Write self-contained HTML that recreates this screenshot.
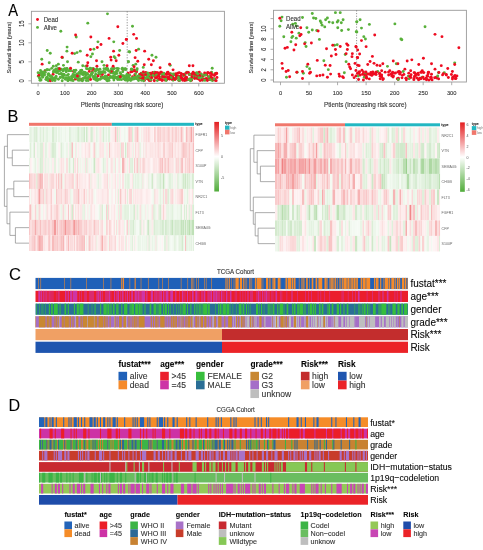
<!DOCTYPE html>
<html><head><meta charset="utf-8"><title>Figure</title><style>
html,body{margin:0;padding:0;background:#fff;width:483px;height:550px;overflow:hidden}
svg{display:block;filter:blur(0.4px)}
text{font-family:"Liberation Sans",sans-serif;stroke:#333;stroke-width:0.1px}
.ns text{stroke:none}
</style></head><body>
<svg width="483" height="550" viewBox="0 0 483 550">
<rect width="483" height="550" fill="#fff"/>
<text transform="translate(8.2,15.5) scale(0.94,1)" font-size="15.7">A</text>
<text transform="translate(7.6,121.9) scale(1,1)" font-size="16.3">B</text>
<text transform="translate(8.9,280) scale(1.05,1)" font-size="15.8">C</text>
<text transform="translate(8.5,411.1) scale(1,1)" font-size="16.1">D</text>
<rect x="31.4" y="11.3" width="193" height="71.95" fill="none" stroke="#999" stroke-width="0.9"/>
<path d="M28.4 80.8H31.4M28.4 61.8H31.4M28.4 42.8H31.4M28.4 23.8H31.4M38.1 83.25V86.45M64.88 83.25V86.45M91.66 83.25V86.45M118.44 83.25V86.45M145.22 83.25V86.45M172 83.25V86.45M198.78 83.25V86.45" stroke="#999" stroke-width="0.8"/>
<text transform="translate(21.7,80.8) rotate(-90) scale(1,1.08)" y="2.06" font-size="5.9" text-anchor="middle" fill="#333">0</text>
<text transform="translate(21.7,61.8) rotate(-90) scale(1,1.08)" y="2.06" font-size="5.9" text-anchor="middle" fill="#333">5</text>
<text transform="translate(21.7,42.8) rotate(-90) scale(1,1.08)" y="2.06" font-size="5.9" text-anchor="middle" fill="#333">10</text>
<text transform="translate(21.7,23.8) rotate(-90) scale(1,1.08)" y="2.06" font-size="5.9" text-anchor="middle" fill="#333">15</text>
<text transform="translate(38.1,95.09) scale(1,1.08)" font-size="5.8" text-anchor="middle" fill="#333">0</text>
<text transform="translate(64.88,95.09) scale(1,1.08)" font-size="5.8" text-anchor="middle" fill="#333">100</text>
<text transform="translate(91.66,95.09) scale(1,1.08)" font-size="5.8" text-anchor="middle" fill="#333">200</text>
<text transform="translate(118.44,95.09) scale(1,1.08)" font-size="5.8" text-anchor="middle" fill="#333">300</text>
<text transform="translate(145.22,95.09) scale(1,1.08)" font-size="5.8" text-anchor="middle" fill="#333">400</text>
<text transform="translate(172,95.09) scale(1,1.08)" font-size="5.8" text-anchor="middle" fill="#333">500</text>
<text transform="translate(198.78,95.09) scale(1,1.08)" font-size="5.8" text-anchor="middle" fill="#333">600</text>
<text transform="translate(8.6,47.5) rotate(-90) scale(1,1.08)" y="1.99" font-size="5.7" text-anchor="middle" fill="#333">Survival time (years)</text>
<text transform="translate(80.8,106.68) scale(1,1.08)" font-size="6.3" fill="#333">Ptients (increasing risk score)</text>
<path d="M127.2 11.3V83.25" stroke="#666" stroke-width="0.7" stroke-dasharray="1.2 1.5"/>
<circle cx="185.93" cy="80.32" r="1.45" fill="#58b03a"/>
<circle cx="46.94" cy="69.72" r="1.45" fill="#58b03a"/>
<circle cx="214.58" cy="79" r="1.45" fill="#ee0c20"/>
<circle cx="41.05" cy="80.01" r="1.45" fill="#58b03a"/>
<circle cx="97.02" cy="68.84" r="1.45" fill="#58b03a"/>
<circle cx="83.09" cy="79.87" r="1.45" fill="#58b03a"/>
<circle cx="122.19" cy="76.32" r="1.45" fill="#58b03a"/>
<circle cx="132.37" cy="71.51" r="1.45" fill="#ee0c20"/>
<circle cx="145.22" cy="73.2" r="1.45" fill="#ee0c20"/>
<circle cx="148.17" cy="75.11" r="1.45" fill="#ee0c20"/>
<circle cx="40.78" cy="72.79" r="1.45" fill="#58b03a"/>
<circle cx="63.27" cy="77.68" r="1.45" fill="#58b03a"/>
<circle cx="78" cy="77.49" r="1.45" fill="#ee0c20"/>
<circle cx="102.1" cy="71.96" r="1.45" fill="#58b03a"/>
<circle cx="195.3" cy="73.52" r="1.45" fill="#ee0c20"/>
<circle cx="166.64" cy="79.92" r="1.45" fill="#ee0c20"/>
<circle cx="203.06" cy="79.75" r="1.45" fill="#ee0c20"/>
<circle cx="163.7" cy="73.11" r="1.45" fill="#58b03a"/>
<circle cx="99.16" cy="72.68" r="1.45" fill="#58b03a"/>
<circle cx="49.88" cy="80.02" r="1.45" fill="#58b03a"/>
<circle cx="170.66" cy="73.67" r="1.45" fill="#58b03a"/>
<circle cx="87.64" cy="74.42" r="1.45" fill="#58b03a"/>
<circle cx="62.74" cy="76.71" r="1.45" fill="#58b03a"/>
<circle cx="57.65" cy="70.9" r="1.45" fill="#58b03a"/>
<circle cx="69.7" cy="70.53" r="1.45" fill="#58b03a"/>
<circle cx="112.28" cy="77.65" r="1.45" fill="#58b03a"/>
<circle cx="110.67" cy="73.06" r="1.45" fill="#58b03a"/>
<circle cx="165.31" cy="77.22" r="1.45" fill="#ee0c20"/>
<circle cx="86.04" cy="78.3" r="1.45" fill="#58b03a"/>
<circle cx="105.59" cy="79.02" r="1.45" fill="#58b03a"/>
<circle cx="90.32" cy="75.43" r="1.45" fill="#58b03a"/>
<circle cx="126.21" cy="78.79" r="1.45" fill="#58b03a"/>
<circle cx="161.29" cy="72.2" r="1.45" fill="#ee0c20"/>
<circle cx="181.64" cy="75.08" r="1.45" fill="#58b03a"/>
<circle cx="104.78" cy="78.45" r="1.45" fill="#58b03a"/>
<circle cx="144.42" cy="80.42" r="1.45" fill="#ee0c20"/>
<circle cx="148.97" cy="77.69" r="1.45" fill="#58b03a"/>
<circle cx="173.61" cy="75.27" r="1.45" fill="#58b03a"/>
<circle cx="163.97" cy="73.35" r="1.45" fill="#58b03a"/>
<circle cx="195.57" cy="75.8" r="1.45" fill="#58b03a"/>
<circle cx="55.51" cy="72.12" r="1.45" fill="#58b03a"/>
<circle cx="195.83" cy="73.75" r="1.45" fill="#58b03a"/>
<circle cx="187.26" cy="79.91" r="1.45" fill="#ee0c20"/>
<circle cx="215.12" cy="80.23" r="1.45" fill="#ee0c20"/>
<circle cx="80.14" cy="72.93" r="1.45" fill="#58b03a"/>
<circle cx="48.01" cy="74.72" r="1.45" fill="#58b03a"/>
<circle cx="45.06" cy="70.49" r="1.45" fill="#58b03a"/>
<circle cx="162.89" cy="77.26" r="1.45" fill="#ee0c20"/>
<circle cx="132.63" cy="76.68" r="1.45" fill="#ee0c20"/>
<circle cx="169.86" cy="73.72" r="1.45" fill="#58b03a"/>
<circle cx="50.69" cy="76.24" r="1.45" fill="#58b03a"/>
<circle cx="41.85" cy="75.12" r="1.45" fill="#58b03a"/>
<circle cx="108.8" cy="78.38" r="1.45" fill="#58b03a"/>
<circle cx="42.38" cy="74.21" r="1.45" fill="#58b03a"/>
<circle cx="112.82" cy="71.54" r="1.45" fill="#58b03a"/>
<circle cx="84.16" cy="72.74" r="1.45" fill="#58b03a"/>
<circle cx="184.05" cy="78.94" r="1.45" fill="#ee0c20"/>
<circle cx="72.91" cy="74.53" r="1.45" fill="#58b03a"/>
<circle cx="160.48" cy="79.39" r="1.45" fill="#ee0c20"/>
<circle cx="65.68" cy="77.78" r="1.45" fill="#58b03a"/>
<circle cx="214.85" cy="73.71" r="1.45" fill="#58b03a"/>
<circle cx="110.94" cy="76.83" r="1.45" fill="#58b03a"/>
<circle cx="215.38" cy="74.49" r="1.45" fill="#ee0c20"/>
<circle cx="212.17" cy="74.45" r="1.45" fill="#ee0c20"/>
<circle cx="71.31" cy="79.96" r="1.45" fill="#58b03a"/>
<circle cx="125.94" cy="69.46" r="1.45" fill="#58b03a"/>
<circle cx="158.88" cy="74.32" r="1.45" fill="#ee0c20"/>
<circle cx="92.2" cy="71.62" r="1.45" fill="#ee0c20"/>
<circle cx="59.26" cy="73.92" r="1.45" fill="#58b03a"/>
<circle cx="200.92" cy="73.99" r="1.45" fill="#ee0c20"/>
<circle cx="157.81" cy="73.07" r="1.45" fill="#ee0c20"/>
<circle cx="134.78" cy="74.76" r="1.45" fill="#ee0c20"/>
<circle cx="145.76" cy="72.4" r="1.45" fill="#ee0c20"/>
<circle cx="153.52" cy="74.04" r="1.45" fill="#ee0c20"/>
<circle cx="173.07" cy="80.3" r="1.45" fill="#58b03a"/>
<circle cx="92.46" cy="72.72" r="1.45" fill="#58b03a"/>
<circle cx="178.16" cy="75.88" r="1.45" fill="#ee0c20"/>
<circle cx="175.75" cy="73.91" r="1.45" fill="#58b03a"/>
<circle cx="87.91" cy="77.9" r="1.45" fill="#58b03a"/>
<circle cx="167.18" cy="73.55" r="1.45" fill="#ee0c20"/>
<circle cx="48.28" cy="80.75" r="1.45" fill="#58b03a"/>
<circle cx="128.08" cy="73.31" r="1.45" fill="#ee0c20"/>
<circle cx="131.83" cy="78.5" r="1.45" fill="#58b03a"/>
<circle cx="76.93" cy="73.94" r="1.45" fill="#58b03a"/>
<circle cx="63.81" cy="69.36" r="1.45" fill="#58b03a"/>
<circle cx="151.38" cy="78.29" r="1.45" fill="#ee0c20"/>
<circle cx="93.8" cy="78.7" r="1.45" fill="#58b03a"/>
<circle cx="184.59" cy="80.48" r="1.45" fill="#ee0c20"/>
<circle cx="211.37" cy="79.04" r="1.45" fill="#ee0c20"/>
<circle cx="159.68" cy="79.13" r="1.45" fill="#ee0c20"/>
<circle cx="194.23" cy="74.81" r="1.45" fill="#ee0c20"/>
<circle cx="148.43" cy="79.48" r="1.45" fill="#58b03a"/>
<circle cx="183.25" cy="75.05" r="1.45" fill="#ee0c20"/>
<circle cx="103.44" cy="72.24" r="1.45" fill="#58b03a"/>
<circle cx="189.41" cy="74.04" r="1.45" fill="#ee0c20"/>
<circle cx="193.69" cy="73.53" r="1.45" fill="#58b03a"/>
<circle cx="171.73" cy="79.18" r="1.45" fill="#ee0c20"/>
<circle cx="125.13" cy="68.68" r="1.45" fill="#58b03a"/>
<circle cx="96.75" cy="77.68" r="1.45" fill="#58b03a"/>
<circle cx="161.02" cy="72.39" r="1.45" fill="#ee0c20"/>
<circle cx="81.75" cy="70.32" r="1.45" fill="#58b03a"/>
<circle cx="154.06" cy="80.01" r="1.45" fill="#58b03a"/>
<circle cx="182.98" cy="79.14" r="1.45" fill="#ee0c20"/>
<circle cx="67.02" cy="68.39" r="1.45" fill="#58b03a"/>
<circle cx="58.45" cy="79.21" r="1.45" fill="#58b03a"/>
<circle cx="144.15" cy="78.58" r="1.45" fill="#ee0c20"/>
<circle cx="91.93" cy="73.91" r="1.45" fill="#58b03a"/>
<circle cx="197.44" cy="76.78" r="1.45" fill="#58b03a"/>
<circle cx="99.96" cy="69.26" r="1.45" fill="#58b03a"/>
<circle cx="100.23" cy="79.2" r="1.45" fill="#58b03a"/>
<circle cx="172.8" cy="77.63" r="1.45" fill="#ee0c20"/>
<circle cx="98.62" cy="79.43" r="1.45" fill="#58b03a"/>
<circle cx="135.31" cy="70.84" r="1.45" fill="#58b03a"/>
<circle cx="192.08" cy="73.83" r="1.45" fill="#ee0c20"/>
<circle cx="187" cy="72.23" r="1.45" fill="#58b03a"/>
<circle cx="184.85" cy="75.07" r="1.45" fill="#58b03a"/>
<circle cx="185.66" cy="77.04" r="1.45" fill="#ee0c20"/>
<circle cx="216.72" cy="73.53" r="1.45" fill="#ee0c20"/>
<circle cx="153.79" cy="76.1" r="1.45" fill="#58b03a"/>
<circle cx="116.03" cy="77.12" r="1.45" fill="#58b03a"/>
<circle cx="79.61" cy="78.93" r="1.45" fill="#58b03a"/>
<circle cx="138.53" cy="80.56" r="1.45" fill="#58b03a"/>
<circle cx="55.77" cy="69.05" r="1.45" fill="#58b03a"/>
<circle cx="146.29" cy="73.77" r="1.45" fill="#ee0c20"/>
<circle cx="90.86" cy="69.07" r="1.45" fill="#58b03a"/>
<circle cx="75.32" cy="79.17" r="1.45" fill="#ee0c20"/>
<circle cx="136.65" cy="71.73" r="1.45" fill="#ee0c20"/>
<circle cx="193.96" cy="77.05" r="1.45" fill="#ee0c20"/>
<circle cx="69.43" cy="79.18" r="1.45" fill="#58b03a"/>
<circle cx="101.3" cy="77.02" r="1.45" fill="#ee0c20"/>
<circle cx="208.96" cy="78.86" r="1.45" fill="#ee0c20"/>
<circle cx="150.04" cy="73.56" r="1.45" fill="#58b03a"/>
<circle cx="76.66" cy="77.5" r="1.45" fill="#58b03a"/>
<circle cx="159.95" cy="73.43" r="1.45" fill="#58b03a"/>
<circle cx="179.5" cy="76.34" r="1.45" fill="#58b03a"/>
<circle cx="158.61" cy="79.44" r="1.45" fill="#ee0c20"/>
<circle cx="64.88" cy="68.99" r="1.45" fill="#58b03a"/>
<circle cx="180.03" cy="77.84" r="1.45" fill="#ee0c20"/>
<circle cx="133.7" cy="77.11" r="1.45" fill="#58b03a"/>
<circle cx="84.7" cy="73.68" r="1.45" fill="#58b03a"/>
<circle cx="157.54" cy="72.92" r="1.45" fill="#ee0c20"/>
<circle cx="66.22" cy="71.82" r="1.45" fill="#58b03a"/>
<circle cx="64.61" cy="68.99" r="1.45" fill="#58b03a"/>
<circle cx="93" cy="76.49" r="1.45" fill="#58b03a"/>
<circle cx="187.53" cy="79.47" r="1.45" fill="#ee0c20"/>
<circle cx="44.8" cy="72" r="1.45" fill="#ee0c20"/>
<circle cx="134.24" cy="70.06" r="1.45" fill="#ee0c20"/>
<circle cx="126.47" cy="75.73" r="1.45" fill="#58b03a"/>
<circle cx="131.03" cy="80.15" r="1.45" fill="#58b03a"/>
<circle cx="67.56" cy="78.35" r="1.45" fill="#58b03a"/>
<circle cx="158.34" cy="75.15" r="1.45" fill="#58b03a"/>
<circle cx="124.6" cy="77.25" r="1.45" fill="#58b03a"/>
<circle cx="196.37" cy="73.83" r="1.45" fill="#ee0c20"/>
<circle cx="216.99" cy="77.56" r="1.45" fill="#ee0c20"/>
<circle cx="66.75" cy="68.86" r="1.45" fill="#58b03a"/>
<circle cx="182.71" cy="80.37" r="1.45" fill="#ee0c20"/>
<circle cx="43.19" cy="74.67" r="1.45" fill="#58b03a"/>
<circle cx="202.53" cy="76.79" r="1.45" fill="#58b03a"/>
<circle cx="57.11" cy="72.52" r="1.45" fill="#58b03a"/>
<circle cx="181.91" cy="78.03" r="1.45" fill="#ee0c20"/>
<circle cx="68.9" cy="77.47" r="1.45" fill="#58b03a"/>
<circle cx="194.5" cy="73.74" r="1.45" fill="#58b03a"/>
<circle cx="71.84" cy="77.44" r="1.45" fill="#58b03a"/>
<circle cx="109.07" cy="80.42" r="1.45" fill="#58b03a"/>
<circle cx="212.71" cy="79.58" r="1.45" fill="#ee0c20"/>
<circle cx="125.67" cy="80.13" r="1.45" fill="#58b03a"/>
<circle cx="107.46" cy="80.76" r="1.45" fill="#58b03a"/>
<circle cx="100.77" cy="74.22" r="1.45" fill="#58b03a"/>
<circle cx="149.77" cy="75.56" r="1.45" fill="#ee0c20"/>
<circle cx="180.57" cy="78.96" r="1.45" fill="#58b03a"/>
<circle cx="205.47" cy="79.53" r="1.45" fill="#ee0c20"/>
<circle cx="179.23" cy="72.66" r="1.45" fill="#ee0c20"/>
<circle cx="164.77" cy="74.57" r="1.45" fill="#58b03a"/>
<circle cx="176.28" cy="76.97" r="1.45" fill="#58b03a"/>
<circle cx="200.65" cy="76.55" r="1.45" fill="#58b03a"/>
<circle cx="199.58" cy="75.27" r="1.45" fill="#ee0c20"/>
<circle cx="118.17" cy="77.12" r="1.45" fill="#ee0c20"/>
<circle cx="108.26" cy="70.49" r="1.45" fill="#58b03a"/>
<circle cx="176.02" cy="74.74" r="1.45" fill="#ee0c20"/>
<circle cx="208.15" cy="72.68" r="1.45" fill="#ee0c20"/>
<circle cx="135.85" cy="77.84" r="1.45" fill="#58b03a"/>
<circle cx="206.55" cy="79.33" r="1.45" fill="#ee0c20"/>
<circle cx="117.64" cy="79.52" r="1.45" fill="#58b03a"/>
<circle cx="196.91" cy="74.88" r="1.45" fill="#ee0c20"/>
<circle cx="52.83" cy="78.96" r="1.45" fill="#58b03a"/>
<circle cx="165.84" cy="77.4" r="1.45" fill="#58b03a"/>
<circle cx="42.92" cy="75.56" r="1.45" fill="#58b03a"/>
<circle cx="139.33" cy="74.55" r="1.45" fill="#58b03a"/>
<circle cx="146.83" cy="78.56" r="1.45" fill="#ee0c20"/>
<circle cx="83.89" cy="72.23" r="1.45" fill="#58b03a"/>
<circle cx="169.59" cy="78.95" r="1.45" fill="#ee0c20"/>
<circle cx="40.51" cy="70.57" r="1.45" fill="#58b03a"/>
<circle cx="131.29" cy="69.43" r="1.45" fill="#58b03a"/>
<circle cx="189.94" cy="74.6" r="1.45" fill="#ee0c20"/>
<circle cx="209.76" cy="77.2" r="1.45" fill="#ee0c20"/>
<circle cx="143.88" cy="76.21" r="1.45" fill="#58b03a"/>
<circle cx="152.72" cy="72.37" r="1.45" fill="#ee0c20"/>
<circle cx="102.64" cy="77.57" r="1.45" fill="#58b03a"/>
<circle cx="62.2" cy="80.75" r="1.45" fill="#58b03a"/>
<circle cx="206.01" cy="74.18" r="1.45" fill="#ee0c20"/>
<circle cx="167.98" cy="72.2" r="1.45" fill="#ee0c20"/>
<circle cx="119.51" cy="78.07" r="1.45" fill="#58b03a"/>
<circle cx="107.19" cy="76.11" r="1.45" fill="#58b03a"/>
<circle cx="154.33" cy="80.79" r="1.45" fill="#ee0c20"/>
<circle cx="164.5" cy="79.94" r="1.45" fill="#ee0c20"/>
<circle cx="96.21" cy="79.22" r="1.45" fill="#58b03a"/>
<circle cx="165.04" cy="77.1" r="1.45" fill="#ee0c20"/>
<circle cx="180.3" cy="76.65" r="1.45" fill="#ee0c20"/>
<circle cx="72.65" cy="76.98" r="1.45" fill="#58b03a"/>
<circle cx="74.25" cy="70.33" r="1.45" fill="#58b03a"/>
<circle cx="76.4" cy="75.04" r="1.45" fill="#58b03a"/>
<circle cx="176.82" cy="76.49" r="1.45" fill="#ee0c20"/>
<circle cx="206.81" cy="74.88" r="1.45" fill="#ee0c20"/>
<circle cx="147.9" cy="75.56" r="1.45" fill="#58b03a"/>
<circle cx="106.66" cy="78.47" r="1.45" fill="#58b03a"/>
<circle cx="46.67" cy="79.79" r="1.45" fill="#58b03a"/>
<circle cx="75.59" cy="77.59" r="1.45" fill="#58b03a"/>
<circle cx="135.58" cy="73.72" r="1.45" fill="#58b03a"/>
<circle cx="76.13" cy="77.26" r="1.45" fill="#58b03a"/>
<circle cx="50.15" cy="78.76" r="1.45" fill="#58b03a"/>
<circle cx="196.1" cy="77.77" r="1.45" fill="#58b03a"/>
<circle cx="155.93" cy="74.69" r="1.45" fill="#ee0c20"/>
<circle cx="82.29" cy="80.76" r="1.45" fill="#58b03a"/>
<circle cx="204.14" cy="78.86" r="1.45" fill="#58b03a"/>
<circle cx="176.55" cy="78.49" r="1.45" fill="#ee0c20"/>
<circle cx="139.86" cy="78.24" r="1.45" fill="#58b03a"/>
<circle cx="49.08" cy="80.12" r="1.45" fill="#58b03a"/>
<circle cx="128.88" cy="75.38" r="1.45" fill="#58b03a"/>
<circle cx="77.2" cy="76.92" r="1.45" fill="#58b03a"/>
<circle cx="209.49" cy="79.54" r="1.45" fill="#ee0c20"/>
<circle cx="131.56" cy="68.93" r="1.45" fill="#58b03a"/>
<circle cx="203.87" cy="79.4" r="1.45" fill="#ee0c20"/>
<circle cx="58.19" cy="68.93" r="1.45" fill="#58b03a"/>
<circle cx="159.41" cy="76.76" r="1.45" fill="#ee0c20"/>
<circle cx="168.79" cy="77.72" r="1.45" fill="#ee0c20"/>
<circle cx="150.31" cy="73.18" r="1.45" fill="#ee0c20"/>
<circle cx="74.79" cy="70.36" r="1.45" fill="#58b03a"/>
<circle cx="170.93" cy="76.01" r="1.45" fill="#ee0c20"/>
<circle cx="122.99" cy="69.49" r="1.45" fill="#ee0c20"/>
<circle cx="40.24" cy="78.99" r="1.45" fill="#58b03a"/>
<circle cx="213.51" cy="78.89" r="1.45" fill="#58b03a"/>
<circle cx="151.11" cy="75.26" r="1.45" fill="#58b03a"/>
<circle cx="201.19" cy="74.09" r="1.45" fill="#58b03a"/>
<circle cx="45.87" cy="79.33" r="1.45" fill="#58b03a"/>
<circle cx="138.26" cy="79.37" r="1.45" fill="#58b03a"/>
<circle cx="67.29" cy="75.39" r="1.45" fill="#58b03a"/>
<circle cx="60.6" cy="77.55" r="1.45" fill="#58b03a"/>
<circle cx="215.92" cy="73.44" r="1.45" fill="#ee0c20"/>
<circle cx="38.37" cy="76.21" r="1.45" fill="#58b03a"/>
<circle cx="149.24" cy="80.43" r="1.45" fill="#ee0c20"/>
<circle cx="88.71" cy="77.01" r="1.45" fill="#58b03a"/>
<circle cx="154.59" cy="72.25" r="1.45" fill="#58b03a"/>
<circle cx="121.39" cy="79.66" r="1.45" fill="#58b03a"/>
<circle cx="38.1" cy="72.64" r="1.45" fill="#58b03a"/>
<circle cx="95.41" cy="71.4" r="1.45" fill="#58b03a"/>
<circle cx="124.33" cy="76.15" r="1.45" fill="#58b03a"/>
<circle cx="144.68" cy="74.04" r="1.45" fill="#58b03a"/>
<circle cx="188.34" cy="72.35" r="1.45" fill="#ee0c20"/>
<circle cx="139.06" cy="76.99" r="1.45" fill="#ee0c20"/>
<circle cx="193.16" cy="72.29" r="1.45" fill="#ee0c20"/>
<circle cx="178.96" cy="80.55" r="1.45" fill="#ee0c20"/>
<circle cx="65.15" cy="68.97" r="1.45" fill="#58b03a"/>
<circle cx="205.21" cy="75.15" r="1.45" fill="#58b03a"/>
<circle cx="128.62" cy="75.52" r="1.45" fill="#58b03a"/>
<circle cx="112.55" cy="69.16" r="1.45" fill="#58b03a"/>
<circle cx="68.63" cy="70.91" r="1.45" fill="#58b03a"/>
<circle cx="174.68" cy="78.76" r="1.45" fill="#ee0c20"/>
<circle cx="80.68" cy="70.33" r="1.45" fill="#58b03a"/>
<circle cx="61.4" cy="69.29" r="1.45" fill="#58b03a"/>
<circle cx="120.85" cy="73.93" r="1.45" fill="#58b03a"/>
<circle cx="113.08" cy="73.19" r="1.45" fill="#58b03a"/>
<circle cx="137.99" cy="76.11" r="1.45" fill="#58b03a"/>
<circle cx="181.37" cy="78.43" r="1.45" fill="#ee0c20"/>
<circle cx="141.2" cy="73.24" r="1.45" fill="#58b03a"/>
<circle cx="64.08" cy="74.46" r="1.45" fill="#58b03a"/>
<circle cx="163.16" cy="77.04" r="1.45" fill="#58b03a"/>
<circle cx="149.5" cy="74.58" r="1.45" fill="#58b03a"/>
<circle cx="49.62" cy="75.8" r="1.45" fill="#58b03a"/>
<circle cx="166.91" cy="74.53" r="1.45" fill="#ee0c20"/>
<circle cx="84.43" cy="77.62" r="1.45" fill="#58b03a"/>
<circle cx="91.12" cy="74.39" r="1.45" fill="#58b03a"/>
<circle cx="63.54" cy="74.43" r="1.45" fill="#58b03a"/>
<circle cx="186.19" cy="79.76" r="1.45" fill="#ee0c20"/>
<circle cx="116.3" cy="71.54" r="1.45" fill="#58b03a"/>
<circle cx="88.18" cy="80.49" r="1.45" fill="#58b03a"/>
<circle cx="155.13" cy="73.84" r="1.45" fill="#ee0c20"/>
<circle cx="216.45" cy="73.18" r="1.45" fill="#ee0c20"/>
<circle cx="210.03" cy="73.46" r="1.45" fill="#ee0c20"/>
<circle cx="99.43" cy="73.88" r="1.45" fill="#58b03a"/>
<circle cx="163.43" cy="77.12" r="1.45" fill="#58b03a"/>
<circle cx="60.86" cy="69.39" r="1.45" fill="#58b03a"/>
<circle cx="120.58" cy="76.89" r="1.45" fill="#58b03a"/>
<circle cx="189.14" cy="74.39" r="1.45" fill="#ee0c20"/>
<circle cx="207.89" cy="79.58" r="1.45" fill="#58b03a"/>
<circle cx="190.21" cy="78.58" r="1.45" fill="#58b03a"/>
<circle cx="97.82" cy="74.87" r="1.45" fill="#58b03a"/>
<circle cx="53.1" cy="74.18" r="1.45" fill="#ee0c20"/>
<circle cx="72.11" cy="77.81" r="1.45" fill="#58b03a"/>
<circle cx="115.49" cy="72.35" r="1.45" fill="#58b03a"/>
<circle cx="184.32" cy="74.13" r="1.45" fill="#ee0c20"/>
<circle cx="129.96" cy="79.5" r="1.45" fill="#58b03a"/>
<circle cx="140.67" cy="74.1" r="1.45" fill="#ee0c20"/>
<circle cx="89.52" cy="69.18" r="1.45" fill="#58b03a"/>
<circle cx="181.11" cy="73.57" r="1.45" fill="#ee0c20"/>
<circle cx="203.33" cy="75.87" r="1.45" fill="#ee0c20"/>
<circle cx="106.12" cy="69.54" r="1.45" fill="#58b03a"/>
<circle cx="206.28" cy="78.55" r="1.45" fill="#ee0c20"/>
<circle cx="101.03" cy="78" r="1.45" fill="#58b03a"/>
<circle cx="126.74" cy="78.51" r="1.45" fill="#58b03a"/>
<circle cx="186.73" cy="77.42" r="1.45" fill="#ee0c20"/>
<circle cx="133.44" cy="78.38" r="1.45" fill="#58b03a"/>
<circle cx="117.37" cy="70.66" r="1.45" fill="#58b03a"/>
<circle cx="83.63" cy="74.61" r="1.45" fill="#58b03a"/>
<circle cx="156.2" cy="75.24" r="1.45" fill="#ee0c20"/>
<circle cx="135.04" cy="70.91" r="1.45" fill="#ee0c20"/>
<circle cx="143.61" cy="80.74" r="1.45" fill="#58b03a"/>
<circle cx="121.12" cy="75.84" r="1.45" fill="#58b03a"/>
<circle cx="75.86" cy="70.25" r="1.45" fill="#58b03a"/>
<circle cx="45.33" cy="72.42" r="1.45" fill="#58b03a"/>
<circle cx="42.12" cy="72.03" r="1.45" fill="#58b03a"/>
<circle cx="39.71" cy="73.56" r="1.45" fill="#58b03a"/>
<circle cx="100.5" cy="72.04" r="1.45" fill="#58b03a"/>
<circle cx="68.09" cy="80.57" r="1.45" fill="#58b03a"/>
<circle cx="160.22" cy="78.64" r="1.45" fill="#ee0c20"/>
<circle cx="164.23" cy="76.83" r="1.45" fill="#ee0c20"/>
<circle cx="127.28" cy="77.7" r="1.45" fill="#58b03a"/>
<circle cx="160.75" cy="72.28" r="1.45" fill="#ee0c20"/>
<circle cx="86.57" cy="68.66" r="1.45" fill="#58b03a"/>
<circle cx="51.76" cy="68.35" r="1.45" fill="#58b03a"/>
<circle cx="72.38" cy="80.17" r="1.45" fill="#58b03a"/>
<circle cx="123.26" cy="75.71" r="1.45" fill="#58b03a"/>
<circle cx="93.27" cy="68.56" r="1.45" fill="#58b03a"/>
<circle cx="122.46" cy="68.3" r="1.45" fill="#58b03a"/>
<circle cx="101.84" cy="77.86" r="1.45" fill="#58b03a"/>
<circle cx="59.79" cy="69.09" r="1.45" fill="#58b03a"/>
<circle cx="166.11" cy="80.47" r="1.45" fill="#58b03a"/>
<circle cx="117.1" cy="68.35" r="1.45" fill="#58b03a"/>
<circle cx="65.42" cy="79.27" r="1.45" fill="#58b03a"/>
<circle cx="82.02" cy="72.95" r="1.45" fill="#58b03a"/>
<circle cx="102.91" cy="77.96" r="1.45" fill="#58b03a"/>
<circle cx="140.94" cy="74.12" r="1.45" fill="#ee0c20"/>
<circle cx="216.19" cy="80.67" r="1.45" fill="#ee0c20"/>
<circle cx="39.17" cy="75.48" r="1.45" fill="#58b03a"/>
<circle cx="85.23" cy="72.37" r="1.45" fill="#58b03a"/>
<circle cx="179.77" cy="80.5" r="1.45" fill="#58b03a"/>
<circle cx="191.55" cy="80.28" r="1.45" fill="#ee0c20"/>
<circle cx="178.69" cy="80.14" r="1.45" fill="#58b03a"/>
<circle cx="119.78" cy="78.24" r="1.45" fill="#58b03a"/>
<circle cx="115.76" cy="72.47" r="1.45" fill="#58b03a"/>
<circle cx="95.14" cy="77.56" r="1.45" fill="#58b03a"/>
<circle cx="139.6" cy="75.78" r="1.45" fill="#58b03a"/>
<circle cx="80.95" cy="73.48" r="1.45" fill="#58b03a"/>
<circle cx="150.84" cy="80.5" r="1.45" fill="#ee0c20"/>
<circle cx="170.13" cy="75.89" r="1.45" fill="#ee0c20"/>
<circle cx="105.05" cy="72.46" r="1.45" fill="#58b03a"/>
<circle cx="140.13" cy="74.11" r="1.45" fill="#ee0c20"/>
<circle cx="104.25" cy="77.91" r="1.45" fill="#58b03a"/>
<circle cx="93.53" cy="77.03" r="1.45" fill="#58b03a"/>
<circle cx="54.7" cy="77.96" r="1.45" fill="#58b03a"/>
<circle cx="157" cy="73.02" r="1.45" fill="#ee0c20"/>
<circle cx="201.46" cy="78.58" r="1.45" fill="#58b03a"/>
<circle cx="79.34" cy="75.92" r="1.45" fill="#58b03a"/>
<circle cx="151.65" cy="74.18" r="1.45" fill="#ee0c20"/>
<circle cx="60.33" cy="77.13" r="1.45" fill="#58b03a"/>
<circle cx="121.92" cy="68.85" r="1.45" fill="#58b03a"/>
<circle cx="95.94" cy="80.02" r="1.45" fill="#58b03a"/>
<circle cx="111.21" cy="71.32" r="1.45" fill="#ee0c20"/>
<circle cx="56.04" cy="76.23" r="1.45" fill="#58b03a"/>
<circle cx="162.36" cy="74.74" r="1.45" fill="#58b03a"/>
<circle cx="118.98" cy="77.54" r="1.45" fill="#58b03a"/>
<circle cx="98.09" cy="75.89" r="1.45" fill="#ee0c20"/>
<circle cx="38.9" cy="75.36" r="1.45" fill="#ee0c20"/>
<circle cx="53.63" cy="78.71" r="1.45" fill="#58b03a"/>
<circle cx="98.35" cy="70.07" r="1.45" fill="#58b03a"/>
<circle cx="57.38" cy="71.39" r="1.45" fill="#58b03a"/>
<circle cx="141.74" cy="78.37" r="1.45" fill="#ee0c20"/>
<circle cx="130.76" cy="71.96" r="1.45" fill="#ee0c20"/>
<circle cx="142.54" cy="78.79" r="1.45" fill="#ee0c20"/>
<circle cx="130.49" cy="80.31" r="1.45" fill="#58b03a"/>
<circle cx="177.36" cy="76.51" r="1.45" fill="#ee0c20"/>
<circle cx="107.73" cy="68.82" r="1.45" fill="#58b03a"/>
<circle cx="147.63" cy="72.88" r="1.45" fill="#58b03a"/>
<circle cx="152.45" cy="74.54" r="1.45" fill="#ee0c20"/>
<circle cx="52.56" cy="80.51" r="1.45" fill="#58b03a"/>
<circle cx="114.69" cy="77.48" r="1.45" fill="#58b03a"/>
<circle cx="78.81" cy="73.46" r="1.45" fill="#58b03a"/>
<circle cx="211.9" cy="78.27" r="1.45" fill="#ee0c20"/>
<circle cx="128.35" cy="76.99" r="1.45" fill="#58b03a"/>
<circle cx="167.72" cy="77.37" r="1.45" fill="#ee0c20"/>
<circle cx="136.92" cy="69.96" r="1.45" fill="#58b03a"/>
<circle cx="58.99" cy="68.51" r="1.45" fill="#58b03a"/>
<circle cx="161.56" cy="77" r="1.45" fill="#58b03a"/>
<circle cx="136.11" cy="76.78" r="1.45" fill="#58b03a"/>
<circle cx="87.38" cy="68.85" r="1.45" fill="#58b03a"/>
<circle cx="98.89" cy="72.25" r="1.45" fill="#58b03a"/>
<circle cx="61.13" cy="73.48" r="1.45" fill="#58b03a"/>
<circle cx="147.09" cy="74.34" r="1.45" fill="#58b03a"/>
<circle cx="195.03" cy="73.67" r="1.45" fill="#ee0c20"/>
<circle cx="71.57" cy="76.55" r="1.45" fill="#58b03a"/>
<circle cx="182.44" cy="74.48" r="1.45" fill="#ee0c20"/>
<circle cx="54.44" cy="70.69" r="1.45" fill="#58b03a"/>
<circle cx="213.78" cy="79.23" r="1.45" fill="#ee0c20"/>
<circle cx="188.6" cy="79.67" r="1.45" fill="#58b03a"/>
<circle cx="90.05" cy="68.28" r="1.45" fill="#58b03a"/>
<circle cx="156.47" cy="74.71" r="1.45" fill="#58b03a"/>
<circle cx="94.61" cy="79.05" r="1.45" fill="#58b03a"/>
<circle cx="114.42" cy="68.51" r="1.45" fill="#58b03a"/>
<circle cx="47.74" cy="78.59" r="1.45" fill="#58b03a"/>
<circle cx="134.51" cy="78.87" r="1.45" fill="#58b03a"/>
<circle cx="207.62" cy="72.64" r="1.45" fill="#ee0c20"/>
<circle cx="89.25" cy="71.39" r="1.45" fill="#ee0c20"/>
<circle cx="127.01" cy="74.31" r="1.45" fill="#58b03a"/>
<circle cx="48.54" cy="73.7" r="1.45" fill="#58b03a"/>
<circle cx="119.24" cy="79.47" r="1.45" fill="#58b03a"/>
<circle cx="61.67" cy="74.24" r="1.45" fill="#58b03a"/>
<circle cx="191.28" cy="79.35" r="1.45" fill="#58b03a"/>
<circle cx="151.91" cy="77.1" r="1.45" fill="#ee0c20"/>
<circle cx="47.21" cy="77.31" r="1.45" fill="#58b03a"/>
<circle cx="81.48" cy="79.13" r="1.45" fill="#ee0c20"/>
<circle cx="212.44" cy="80.66" r="1.45" fill="#58b03a"/>
<circle cx="79.88" cy="80.25" r="1.45" fill="#58b03a"/>
<circle cx="77.73" cy="78.28" r="1.45" fill="#58b03a"/>
<circle cx="110.41" cy="76.55" r="1.45" fill="#58b03a"/>
<circle cx="85.77" cy="74.95" r="1.45" fill="#58b03a"/>
<circle cx="120.05" cy="72.63" r="1.45" fill="#58b03a"/>
<circle cx="85.5" cy="77.15" r="1.45" fill="#58b03a"/>
<circle cx="73.45" cy="71.61" r="1.45" fill="#ee0c20"/>
<circle cx="62.47" cy="74.86" r="1.45" fill="#58b03a"/>
<circle cx="89.79" cy="77.17" r="1.45" fill="#58b03a"/>
<circle cx="182.18" cy="75.25" r="1.45" fill="#ee0c20"/>
<circle cx="95.68" cy="74.23" r="1.45" fill="#58b03a"/>
<circle cx="124.06" cy="69.39" r="1.45" fill="#58b03a"/>
<circle cx="94.07" cy="69.44" r="1.45" fill="#58b03a"/>
<circle cx="177.62" cy="73.26" r="1.45" fill="#ee0c20"/>
<circle cx="113.62" cy="78.33" r="1.45" fill="#58b03a"/>
<circle cx="203.6" cy="74.95" r="1.45" fill="#58b03a"/>
<circle cx="204.67" cy="72.91" r="1.45" fill="#ee0c20"/>
<circle cx="86.84" cy="78.17" r="1.45" fill="#58b03a"/>
<circle cx="171.46" cy="77.51" r="1.45" fill="#ee0c20"/>
<circle cx="42.65" cy="77.19" r="1.45" fill="#58b03a"/>
<circle cx="83.36" cy="78.23" r="1.45" fill="#58b03a"/>
<circle cx="159.15" cy="74.04" r="1.45" fill="#ee0c20"/>
<circle cx="106.92" cy="80.4" r="1.45" fill="#58b03a"/>
<circle cx="204.94" cy="80.39" r="1.45" fill="#58b03a"/>
<circle cx="127.81" cy="80.32" r="1.45" fill="#58b03a"/>
<circle cx="82.55" cy="74.49" r="1.45" fill="#58b03a"/>
<circle cx="167.45" cy="72.51" r="1.45" fill="#ee0c20"/>
<circle cx="105.32" cy="75.87" r="1.45" fill="#58b03a"/>
<circle cx="91.66" cy="72.89" r="1.45" fill="#58b03a"/>
<circle cx="142.81" cy="74.36" r="1.45" fill="#58b03a"/>
<circle cx="118.71" cy="76.13" r="1.45" fill="#58b03a"/>
<circle cx="67.83" cy="80.56" r="1.45" fill="#58b03a"/>
<circle cx="94.34" cy="69.44" r="1.45" fill="#58b03a"/>
<circle cx="211.63" cy="72.08" r="1.45" fill="#58b03a"/>
<circle cx="71.04" cy="70.75" r="1.45" fill="#58b03a"/>
<circle cx="121.65" cy="75.66" r="1.45" fill="#58b03a"/>
<circle cx="140.4" cy="76.6" r="1.45" fill="#58b03a"/>
<circle cx="127.55" cy="80.28" r="1.45" fill="#58b03a"/>
<circle cx="198.51" cy="79.12" r="1.45" fill="#ee0c20"/>
<circle cx="161.82" cy="79.87" r="1.45" fill="#ee0c20"/>
<circle cx="172.27" cy="78.66" r="1.45" fill="#ee0c20"/>
<circle cx="185.12" cy="73.93" r="1.45" fill="#58b03a"/>
<circle cx="147.36" cy="76.44" r="1.45" fill="#58b03a"/>
<circle cx="51.49" cy="76.23" r="1.45" fill="#58b03a"/>
<circle cx="146.56" cy="77.72" r="1.45" fill="#58b03a"/>
<circle cx="199.85" cy="75.58" r="1.45" fill="#ee0c20"/>
<circle cx="199.32" cy="72.08" r="1.45" fill="#ee0c20"/>
<circle cx="180.84" cy="75.96" r="1.45" fill="#ee0c20"/>
<circle cx="122.72" cy="71.67" r="1.45" fill="#58b03a"/>
<circle cx="97.28" cy="80.53" r="1.45" fill="#58b03a"/>
<circle cx="172.54" cy="77.05" r="1.45" fill="#ee0c20"/>
<circle cx="192.35" cy="75.3" r="1.45" fill="#ee0c20"/>
<circle cx="168.25" cy="78.4" r="1.45" fill="#ee0c20"/>
<circle cx="57.92" cy="68.62" r="1.45" fill="#58b03a"/>
<circle cx="113.35" cy="76.26" r="1.45" fill="#58b03a"/>
<circle cx="56.85" cy="72.61" r="1.45" fill="#58b03a"/>
<circle cx="102.37" cy="74.55" r="1.45" fill="#ee0c20"/>
<circle cx="60.06" cy="70.44" r="1.45" fill="#58b03a"/>
<circle cx="175.48" cy="73.97" r="1.45" fill="#ee0c20"/>
<circle cx="116.83" cy="73.55" r="1.45" fill="#58b03a"/>
<circle cx="124.87" cy="79.44" r="1.45" fill="#58b03a"/>
<circle cx="106.39" cy="68.29" r="1.45" fill="#58b03a"/>
<circle cx="51.22" cy="78.94" r="1.45" fill="#58b03a"/>
<circle cx="210.56" cy="79.8" r="1.45" fill="#58b03a"/>
<circle cx="170.39" cy="77.71" r="1.45" fill="#58b03a"/>
<circle cx="113.89" cy="79.99" r="1.45" fill="#58b03a"/>
<circle cx="173.34" cy="73.95" r="1.45" fill="#58b03a"/>
<circle cx="125.4" cy="68.97" r="1.45" fill="#58b03a"/>
<circle cx="207.35" cy="80.49" r="1.45" fill="#ee0c20"/>
<circle cx="56.31" cy="78.33" r="1.45" fill="#58b03a"/>
<circle cx="63.01" cy="70.97" r="1.45" fill="#58b03a"/>
<circle cx="132.9" cy="70.32" r="1.45" fill="#ee0c20"/>
<circle cx="88.98" cy="76.84" r="1.45" fill="#58b03a"/>
<circle cx="82.82" cy="79.97" r="1.45" fill="#58b03a"/>
<circle cx="54.97" cy="80.44" r="1.45" fill="#58b03a"/>
<circle cx="80.41" cy="79.05" r="1.45" fill="#58b03a"/>
<circle cx="44.26" cy="75.08" r="1.45" fill="#58b03a"/>
<circle cx="178.43" cy="77.52" r="1.45" fill="#58b03a"/>
<circle cx="73.18" cy="80.57" r="1.45" fill="#58b03a"/>
<circle cx="101.57" cy="72.72" r="1.45" fill="#58b03a"/>
<circle cx="39.97" cy="80.22" r="1.45" fill="#58b03a"/>
<circle cx="114.96" cy="74.55" r="1.45" fill="#58b03a"/>
<circle cx="213.24" cy="79.18" r="1.45" fill="#ee0c20"/>
<circle cx="75.06" cy="75.73" r="1.45" fill="#58b03a"/>
<circle cx="53.36" cy="72.07" r="1.45" fill="#58b03a"/>
<circle cx="129.42" cy="77.91" r="1.45" fill="#58b03a"/>
<circle cx="197.17" cy="78.57" r="1.45" fill="#ee0c20"/>
<circle cx="197.98" cy="72.96" r="1.45" fill="#ee0c20"/>
<circle cx="157.27" cy="80.58" r="1.45" fill="#58b03a"/>
<circle cx="117.9" cy="70.26" r="1.45" fill="#58b03a"/>
<circle cx="130.22" cy="79.69" r="1.45" fill="#58b03a"/>
<circle cx="202.8" cy="80.24" r="1.45" fill="#58b03a"/>
<circle cx="116.57" cy="77.72" r="1.45" fill="#58b03a"/>
<circle cx="48.81" cy="74.34" r="1.45" fill="#58b03a"/>
<circle cx="50.42" cy="80.8" r="1.45" fill="#ee0c20"/>
<circle cx="52.29" cy="77.48" r="1.45" fill="#58b03a"/>
<circle cx="171.2" cy="77.7" r="1.45" fill="#58b03a"/>
<circle cx="199.05" cy="76.28" r="1.45" fill="#ee0c20"/>
<circle cx="210.83" cy="72.98" r="1.45" fill="#ee0c20"/>
<circle cx="79.07" cy="72.55" r="1.45" fill="#58b03a"/>
<circle cx="103.98" cy="68.64" r="1.45" fill="#58b03a"/>
<circle cx="210.3" cy="76.51" r="1.45" fill="#ee0c20"/>
<circle cx="186.46" cy="72.77" r="1.45" fill="#ee0c20"/>
<circle cx="96.48" cy="69.98" r="1.45" fill="#58b03a"/>
<circle cx="165.57" cy="79.2" r="1.45" fill="#58b03a"/>
<circle cx="192.89" cy="75.85" r="1.45" fill="#58b03a"/>
<circle cx="58.72" cy="70.69" r="1.45" fill="#58b03a"/>
<circle cx="92.73" cy="69.18" r="1.45" fill="#ee0c20"/>
<circle cx="70.24" cy="79.68" r="1.45" fill="#58b03a"/>
<circle cx="145.49" cy="74.64" r="1.45" fill="#ee0c20"/>
<circle cx="41.58" cy="75.44" r="1.45" fill="#58b03a"/>
<circle cx="162.63" cy="76.75" r="1.45" fill="#ee0c20"/>
<circle cx="111.48" cy="68.97" r="1.45" fill="#58b03a"/>
<circle cx="142.27" cy="75.22" r="1.45" fill="#ee0c20"/>
<circle cx="198.24" cy="76.63" r="1.45" fill="#ee0c20"/>
<circle cx="191.01" cy="80.1" r="1.45" fill="#58b03a"/>
<circle cx="133.17" cy="79.13" r="1.45" fill="#58b03a"/>
<circle cx="54.17" cy="70.62" r="1.45" fill="#58b03a"/>
<circle cx="211.1" cy="76.63" r="1.45" fill="#ee0c20"/>
<circle cx="214.04" cy="79.08" r="1.45" fill="#58b03a"/>
<circle cx="166.38" cy="73.97" r="1.45" fill="#ee0c20"/>
<circle cx="136.38" cy="78.84" r="1.45" fill="#58b03a"/>
<circle cx="108.53" cy="74.86" r="1.45" fill="#ee0c20"/>
<circle cx="156.74" cy="77.69" r="1.45" fill="#ee0c20"/>
<circle cx="137.19" cy="77.37" r="1.45" fill="#58b03a"/>
<circle cx="144.95" cy="78.23" r="1.45" fill="#58b03a"/>
<circle cx="53.9" cy="71.03" r="1.45" fill="#58b03a"/>
<circle cx="155.4" cy="77.77" r="1.45" fill="#ee0c20"/>
<circle cx="49.35" cy="69.83" r="1.45" fill="#58b03a"/>
<circle cx="193.42" cy="77.9" r="1.45" fill="#58b03a"/>
<circle cx="162.09" cy="80.5" r="1.45" fill="#ee0c20"/>
<circle cx="152.99" cy="75.4" r="1.45" fill="#58b03a"/>
<circle cx="205.74" cy="74.88" r="1.45" fill="#58b03a"/>
<circle cx="86.3" cy="80.58" r="1.45" fill="#58b03a"/>
<circle cx="155.66" cy="72.55" r="1.45" fill="#ee0c20"/>
<circle cx="174.41" cy="78.61" r="1.45" fill="#ee0c20"/>
<circle cx="81.22" cy="72.11" r="1.45" fill="#58b03a"/>
<circle cx="198.78" cy="77.63" r="1.45" fill="#58b03a"/>
<circle cx="104.51" cy="77.1" r="1.45" fill="#58b03a"/>
<circle cx="197.71" cy="74.05" r="1.45" fill="#58b03a"/>
<circle cx="78.27" cy="80.28" r="1.45" fill="#58b03a"/>
<circle cx="158.07" cy="76.15" r="1.45" fill="#ee0c20"/>
<circle cx="200.12" cy="80.62" r="1.45" fill="#ee0c20"/>
<circle cx="73.99" cy="70.53" r="1.45" fill="#58b03a"/>
<circle cx="70.77" cy="79.89" r="1.45" fill="#58b03a"/>
<circle cx="120.31" cy="76.7" r="1.45" fill="#ee0c20"/>
<circle cx="185.39" cy="78.16" r="1.45" fill="#ee0c20"/>
<circle cx="183.52" cy="75.45" r="1.45" fill="#58b03a"/>
<circle cx="175.21" cy="79.33" r="1.45" fill="#58b03a"/>
<circle cx="74.52" cy="72.18" r="1.45" fill="#58b03a"/>
<circle cx="118.44" cy="68.6" r="1.45" fill="#58b03a"/>
<circle cx="52.03" cy="79.72" r="1.45" fill="#58b03a"/>
<circle cx="90.59" cy="79.52" r="1.45" fill="#ee0c20"/>
<circle cx="65.95" cy="70.97" r="1.45" fill="#58b03a"/>
<circle cx="141.47" cy="80.35" r="1.45" fill="#58b03a"/>
<circle cx="208.42" cy="76.85" r="1.45" fill="#ee0c20"/>
<circle cx="168.52" cy="77.14" r="1.45" fill="#ee0c20"/>
<circle cx="108" cy="78.2" r="1.45" fill="#58b03a"/>
<circle cx="192.62" cy="73.93" r="1.45" fill="#ee0c20"/>
<circle cx="174.95" cy="79.47" r="1.45" fill="#ee0c20"/>
<circle cx="43.72" cy="73.61" r="1.45" fill="#58b03a"/>
<circle cx="115.23" cy="77.86" r="1.45" fill="#58b03a"/>
<circle cx="94.87" cy="76.51" r="1.45" fill="#58b03a"/>
<circle cx="66.49" cy="69.73" r="1.45" fill="#58b03a"/>
<circle cx="43.99" cy="72.08" r="1.45" fill="#58b03a"/>
<circle cx="47.47" cy="69.71" r="1.45" fill="#58b03a"/>
<circle cx="201.99" cy="80.07" r="1.45" fill="#ee0c20"/>
<circle cx="112.01" cy="68.8" r="1.45" fill="#58b03a"/>
<circle cx="129.69" cy="75.2" r="1.45" fill="#58b03a"/>
<circle cx="68.36" cy="74.38" r="1.45" fill="#58b03a"/>
<circle cx="87.11" cy="73.51" r="1.45" fill="#58b03a"/>
<circle cx="91.39" cy="68.81" r="1.45" fill="#58b03a"/>
<circle cx="103.71" cy="71.53" r="1.45" fill="#58b03a"/>
<circle cx="64.34" cy="75.13" r="1.45" fill="#58b03a"/>
<circle cx="109.33" cy="71.19" r="1.45" fill="#58b03a"/>
<circle cx="44.53" cy="74.85" r="1.45" fill="#58b03a"/>
<circle cx="77.47" cy="76.01" r="1.45" fill="#ee0c20"/>
<circle cx="196.64" cy="72.66" r="1.45" fill="#58b03a"/>
<circle cx="194.76" cy="78.5" r="1.45" fill="#ee0c20"/>
<circle cx="46.4" cy="77.69" r="1.45" fill="#58b03a"/>
<circle cx="189.67" cy="74.42" r="1.45" fill="#58b03a"/>
<circle cx="169.32" cy="78.89" r="1.45" fill="#ee0c20"/>
<circle cx="183.78" cy="74.71" r="1.45" fill="#ee0c20"/>
<circle cx="69.97" cy="69.27" r="1.45" fill="#58b03a"/>
<circle cx="123.53" cy="78.76" r="1.45" fill="#58b03a"/>
<circle cx="56.58" cy="69.51" r="1.45" fill="#58b03a"/>
<circle cx="208.69" cy="76.63" r="1.45" fill="#58b03a"/>
<circle cx="150.58" cy="79.86" r="1.45" fill="#58b03a"/>
<circle cx="132.1" cy="69.49" r="1.45" fill="#58b03a"/>
<circle cx="110.14" cy="77.58" r="1.45" fill="#58b03a"/>
<circle cx="143.35" cy="71.95" r="1.45" fill="#ee0c20"/>
<circle cx="73.72" cy="74.85" r="1.45" fill="#58b03a"/>
<circle cx="59.52" cy="68.63" r="1.45" fill="#ee0c20"/>
<circle cx="190.48" cy="80.7" r="1.45" fill="#58b03a"/>
<circle cx="169.05" cy="74.32" r="1.45" fill="#ee0c20"/>
<circle cx="191.82" cy="76.97" r="1.45" fill="#ee0c20"/>
<circle cx="143.08" cy="77.71" r="1.45" fill="#ee0c20"/>
<circle cx="39.44" cy="78" r="1.45" fill="#58b03a"/>
<circle cx="214.31" cy="75.48" r="1.45" fill="#ee0c20"/>
<circle cx="107.47" cy="13.84" r="1.45" fill="#58b03a"/>
<circle cx="87.79" cy="23.17" r="1.45" fill="#58b03a"/>
<circle cx="60.81" cy="31.29" r="1.45" fill="#58b03a"/>
<circle cx="76.23" cy="36.97" r="1.45" fill="#58b03a"/>
<circle cx="97.94" cy="41.84" r="1.45" fill="#58b03a"/>
<circle cx="113.76" cy="41.84" r="1.45" fill="#58b03a"/>
<circle cx="67.1" cy="47.11" r="1.45" fill="#58b03a"/>
<circle cx="47.22" cy="50.56" r="1.45" fill="#58b03a"/>
<circle cx="50.26" cy="53.2" r="1.45" fill="#58b03a"/>
<circle cx="66.9" cy="51.17" r="1.45" fill="#58b03a"/>
<circle cx="74.6" cy="53.6" r="1.45" fill="#58b03a"/>
<circle cx="80.29" cy="51.17" r="1.45" fill="#58b03a"/>
<circle cx="77.04" cy="52.59" r="1.45" fill="#58b03a"/>
<circle cx="93.88" cy="49.14" r="1.45" fill="#58b03a"/>
<circle cx="92.46" cy="54.01" r="1.45" fill="#58b03a"/>
<circle cx="90.84" cy="56.65" r="1.45" fill="#58b03a"/>
<circle cx="119.64" cy="50.56" r="1.45" fill="#58b03a"/>
<circle cx="62.43" cy="57.66" r="1.45" fill="#58b03a"/>
<circle cx="41.74" cy="59.29" r="1.45" fill="#58b03a"/>
<circle cx="114.17" cy="56.65" r="1.45" fill="#58b03a"/>
<circle cx="115.18" cy="58.07" r="1.45" fill="#58b03a"/>
<circle cx="67.5" cy="61.72" r="1.45" fill="#58b03a"/>
<circle cx="101.99" cy="61.72" r="1.45" fill="#58b03a"/>
<circle cx="78.26" cy="62.13" r="1.45" fill="#58b03a"/>
<circle cx="49.24" cy="62.73" r="1.45" fill="#58b03a"/>
<circle cx="58.37" cy="64.15" r="1.45" fill="#58b03a"/>
<circle cx="63.45" cy="65.37" r="1.45" fill="#58b03a"/>
<circle cx="53.3" cy="66.18" r="1.45" fill="#58b03a"/>
<circle cx="56.35" cy="65.78" r="1.45" fill="#58b03a"/>
<circle cx="82.72" cy="65.78" r="1.45" fill="#58b03a"/>
<circle cx="85.76" cy="66.18" r="1.45" fill="#58b03a"/>
<circle cx="104.02" cy="65.37" r="1.45" fill="#58b03a"/>
<circle cx="128.37" cy="61.72" r="1.45" fill="#58b03a"/>
<circle cx="128.98" cy="51.58" r="1.45" fill="#58b03a"/>
<circle cx="117.82" cy="26.82" r="1.45" fill="#ee0c20"/>
<circle cx="75.62" cy="34.94" r="1.45" fill="#ee0c20"/>
<circle cx="90.84" cy="36.97" r="1.45" fill="#ee0c20"/>
<circle cx="109.09" cy="38.39" r="1.45" fill="#ee0c20"/>
<circle cx="126.34" cy="39.4" r="1.45" fill="#ee0c20"/>
<circle cx="122.89" cy="43.46" r="1.45" fill="#ee0c20"/>
<circle cx="100.98" cy="44.48" r="1.45" fill="#ee0c20"/>
<circle cx="97.33" cy="47.52" r="1.45" fill="#ee0c20"/>
<circle cx="90.43" cy="49.55" r="1.45" fill="#ee0c20"/>
<circle cx="72.17" cy="53.2" r="1.45" fill="#ee0c20"/>
<circle cx="87.18" cy="55.23" r="1.45" fill="#ee0c20"/>
<circle cx="62.03" cy="57.26" r="1.45" fill="#ee0c20"/>
<circle cx="113.56" cy="51.17" r="1.45" fill="#ee0c20"/>
<circle cx="118.83" cy="55.23" r="1.45" fill="#ee0c20"/>
<circle cx="110.72" cy="57.26" r="1.45" fill="#ee0c20"/>
<circle cx="111.12" cy="60.1" r="1.45" fill="#ee0c20"/>
<circle cx="116.2" cy="60.71" r="1.45" fill="#ee0c20"/>
<circle cx="96.52" cy="60.71" r="1.45" fill="#ee0c20"/>
<circle cx="87.79" cy="62.73" r="1.45" fill="#ee0c20"/>
<circle cx="42.14" cy="64.15" r="1.45" fill="#ee0c20"/>
<circle cx="107.07" cy="65.78" r="1.45" fill="#ee0c20"/>
<circle cx="113.15" cy="66.18" r="1.45" fill="#ee0c20"/>
<circle cx="70.55" cy="68.21" r="1.45" fill="#ee0c20"/>
<circle cx="87.18" cy="65.78" r="1.45" fill="#ee0c20"/>
<circle cx="96.92" cy="66.18" r="1.45" fill="#ee0c20"/>
<circle cx="132.49" cy="26.22" r="1.45" fill="#58b03a"/>
<circle cx="138.58" cy="49.14" r="1.45" fill="#58b03a"/>
<circle cx="129.65" cy="51.98" r="1.45" fill="#58b03a"/>
<circle cx="151.97" cy="55.23" r="1.45" fill="#58b03a"/>
<circle cx="156.03" cy="57.26" r="1.45" fill="#58b03a"/>
<circle cx="128.43" cy="61.72" r="1.45" fill="#58b03a"/>
<circle cx="135.74" cy="64.15" r="1.45" fill="#58b03a"/>
<circle cx="133.1" cy="65.37" r="1.45" fill="#58b03a"/>
<circle cx="170.23" cy="65.37" r="1.45" fill="#58b03a"/>
<circle cx="212.22" cy="68.21" r="1.45" fill="#58b03a"/>
<circle cx="143.24" cy="67.4" r="1.45" fill="#58b03a"/>
<circle cx="137.16" cy="68.82" r="1.45" fill="#58b03a"/>
<circle cx="133.71" cy="34.33" r="1.45" fill="#ee0c20"/>
<circle cx="136.55" cy="38.39" r="1.45" fill="#ee0c20"/>
<circle cx="126.41" cy="39.4" r="1.45" fill="#ee0c20"/>
<circle cx="136.14" cy="50.56" r="1.45" fill="#ee0c20"/>
<circle cx="144.67" cy="51.17" r="1.45" fill="#ee0c20"/>
<circle cx="135.13" cy="57.66" r="1.45" fill="#ee0c20"/>
<circle cx="137.77" cy="61.31" r="1.45" fill="#ee0c20"/>
<circle cx="148.72" cy="59.29" r="1.45" fill="#ee0c20"/>
<circle cx="153.39" cy="60.71" r="1.45" fill="#ee0c20"/>
<circle cx="144.26" cy="64.76" r="1.45" fill="#ee0c20"/>
<circle cx="151.36" cy="64.76" r="1.45" fill="#ee0c20"/>
<circle cx="169.62" cy="64.15" r="1.45" fill="#ee0c20"/>
<circle cx="189.3" cy="65.78" r="1.45" fill="#ee0c20"/>
<circle cx="192.95" cy="65.78" r="1.45" fill="#ee0c20"/>
<circle cx="160.08" cy="67.81" r="1.45" fill="#ee0c20"/>
<circle cx="173.07" cy="69.84" r="1.45" fill="#ee0c20"/>
<circle cx="134.12" cy="66.79" r="1.45" fill="#ee0c20"/>
<circle cx="37.5" cy="19.5" r="1.45" fill="#ee0c20"/>
<circle cx="37.5" cy="27.4" r="1.45" fill="#58b03a"/>
<text transform="translate(43.7,21.81) scale(1,1.08)" font-size="6.1" fill="#333">Dead</text>
<text transform="translate(43.7,29.71) scale(1,1.08)" font-size="6.1" fill="#333">Alive</text>
<rect x="273.5" y="10.3" width="192.9" height="71.7" fill="none" stroke="#999" stroke-width="0.9"/>
<path d="M270.5 80H273.5M270.5 69.77H273.5M270.5 59.53H273.5M270.5 49.3H273.5M270.5 39.06H273.5M270.5 28.83H273.5M270.5 18.6H273.5M280.5 82V85.2M309.04 82V85.2M337.57 82V85.2M366.11 82V85.2M394.64 82V85.2M423.17 82V85.2M451.71 82V85.2" stroke="#999" stroke-width="0.8"/>
<text transform="translate(263.8,80) rotate(-90) scale(1,1.08)" y="2.06" font-size="5.9" text-anchor="middle" fill="#333">0</text>
<text transform="translate(263.8,69.77) rotate(-90) scale(1,1.08)" y="2.06" font-size="5.9" text-anchor="middle" fill="#333">2</text>
<text transform="translate(263.8,59.53) rotate(-90) scale(1,1.08)" y="2.06" font-size="5.9" text-anchor="middle" fill="#333">4</text>
<text transform="translate(263.8,49.3) rotate(-90) scale(1,1.08)" y="2.06" font-size="5.9" text-anchor="middle" fill="#333">6</text>
<text transform="translate(263.8,39.06) rotate(-90) scale(1,1.08)" y="2.06" font-size="5.9" text-anchor="middle" fill="#333">8</text>
<text transform="translate(263.8,28.83) rotate(-90) scale(1,1.08)" y="2.06" font-size="5.9" text-anchor="middle" fill="#333">10</text>
<text transform="translate(280.5,95.09) scale(1,1.08)" font-size="5.8" text-anchor="middle" fill="#333">0</text>
<text transform="translate(309.04,95.09) scale(1,1.08)" font-size="5.8" text-anchor="middle" fill="#333">50</text>
<text transform="translate(337.57,95.09) scale(1,1.08)" font-size="5.8" text-anchor="middle" fill="#333">100</text>
<text transform="translate(366.11,95.09) scale(1,1.08)" font-size="5.8" text-anchor="middle" fill="#333">150</text>
<text transform="translate(394.64,95.09) scale(1,1.08)" font-size="5.8" text-anchor="middle" fill="#333">200</text>
<text transform="translate(423.17,95.09) scale(1,1.08)" font-size="5.8" text-anchor="middle" fill="#333">250</text>
<text transform="translate(451.71,95.09) scale(1,1.08)" font-size="5.8" text-anchor="middle" fill="#333">300</text>
<text transform="translate(250.7,47.5) rotate(-90) scale(1,1.08)" y="1.99" font-size="5.7" text-anchor="middle" fill="#333">Survival time (years)</text>
<text transform="translate(324.1,106.68) scale(1,1.08)" font-size="6.3" fill="#333">Ptients (increasing risk score)</text>
<path d="M356.6 10.3V82" stroke="#666" stroke-width="0.7" stroke-dasharray="1.2 1.5"/>
<circle cx="312.28" cy="13.56" r="1.45" fill="#58b03a"/>
<circle cx="335.43" cy="12.67" r="1.45" fill="#58b03a"/>
<circle cx="340.24" cy="12.67" r="1.45" fill="#58b03a"/>
<circle cx="313.53" cy="18.01" r="1.45" fill="#58b03a"/>
<circle cx="315.84" cy="18.55" r="1.45" fill="#58b03a"/>
<circle cx="327.42" cy="18.01" r="1.45" fill="#58b03a"/>
<circle cx="325.64" cy="19.79" r="1.45" fill="#58b03a"/>
<circle cx="320.3" cy="21.04" r="1.45" fill="#58b03a"/>
<circle cx="321.19" cy="22.82" r="1.45" fill="#58b03a"/>
<circle cx="329.2" cy="22.11" r="1.45" fill="#58b03a"/>
<circle cx="332.76" cy="22.82" r="1.45" fill="#58b03a"/>
<circle cx="337.21" cy="22.11" r="1.45" fill="#58b03a"/>
<circle cx="338.1" cy="20.68" r="1.45" fill="#58b03a"/>
<circle cx="341.31" cy="22.82" r="1.45" fill="#58b03a"/>
<circle cx="343.09" cy="19.79" r="1.45" fill="#58b03a"/>
<circle cx="322.08" cy="25.14" r="1.45" fill="#58b03a"/>
<circle cx="324.75" cy="26.92" r="1.45" fill="#58b03a"/>
<circle cx="283.79" cy="36.71" r="1.45" fill="#58b03a"/>
<circle cx="291.81" cy="37.6" r="1.45" fill="#58b03a"/>
<circle cx="292.7" cy="36.35" r="1.45" fill="#58b03a"/>
<circle cx="296.26" cy="38.13" r="1.45" fill="#58b03a"/>
<circle cx="290.92" cy="41.7" r="1.45" fill="#58b03a"/>
<circle cx="305.16" cy="42.59" r="1.45" fill="#58b03a"/>
<circle cx="306.05" cy="46.5" r="1.45" fill="#58b03a"/>
<circle cx="308.72" cy="32.26" r="1.45" fill="#58b03a"/>
<circle cx="312.28" cy="29.94" r="1.45" fill="#58b03a"/>
<circle cx="306.94" cy="27.81" r="1.45" fill="#58b03a"/>
<circle cx="316.74" cy="30.48" r="1.45" fill="#58b03a"/>
<circle cx="319.41" cy="39.38" r="1.45" fill="#58b03a"/>
<circle cx="337.75" cy="27.81" r="1.45" fill="#58b03a"/>
<circle cx="341.66" cy="30.48" r="1.45" fill="#58b03a"/>
<circle cx="348.43" cy="29.59" r="1.45" fill="#58b03a"/>
<circle cx="356.8" cy="22.11" r="1.45" fill="#58b03a"/>
<circle cx="356.26" cy="31.72" r="1.45" fill="#58b03a"/>
<circle cx="334.54" cy="45.26" r="1.45" fill="#58b03a"/>
<circle cx="337.21" cy="44.72" r="1.45" fill="#58b03a"/>
<circle cx="345.23" cy="54.52" r="1.45" fill="#58b03a"/>
<circle cx="346.12" cy="61.64" r="1.45" fill="#58b03a"/>
<circle cx="323.86" cy="60.75" r="1.45" fill="#58b03a"/>
<circle cx="306.94" cy="66.62" r="1.45" fill="#58b03a"/>
<circle cx="309.61" cy="68.76" r="1.45" fill="#58b03a"/>
<circle cx="328.31" cy="69.65" r="1.45" fill="#58b03a"/>
<circle cx="344.33" cy="72.68" r="1.45" fill="#58b03a"/>
<circle cx="297.15" cy="72.32" r="1.45" fill="#58b03a"/>
<circle cx="303.38" cy="73.21" r="1.45" fill="#58b03a"/>
<circle cx="286.46" cy="77.31" r="1.45" fill="#58b03a"/>
<circle cx="281.12" cy="20.68" r="1.45" fill="#58b03a"/>
<circle cx="282.01" cy="17.12" r="1.45" fill="#58b03a"/>
<circle cx="302.49" cy="17.48" r="1.45" fill="#58b03a"/>
<circle cx="295.37" cy="23.35" r="1.45" fill="#58b03a"/>
<circle cx="292.7" cy="24.25" r="1.45" fill="#58b03a"/>
<circle cx="296.26" cy="26.03" r="1.45" fill="#58b03a"/>
<circle cx="298.93" cy="33.15" r="1.45" fill="#58b03a"/>
<circle cx="291.81" cy="32.26" r="1.45" fill="#ee0c20"/>
<circle cx="300.71" cy="27.81" r="1.45" fill="#ee0c20"/>
<circle cx="301.07" cy="34.57" r="1.45" fill="#ee0c20"/>
<circle cx="299.82" cy="35.82" r="1.45" fill="#ee0c20"/>
<circle cx="295.72" cy="44.72" r="1.45" fill="#ee0c20"/>
<circle cx="293.94" cy="50.06" r="1.45" fill="#ee0c20"/>
<circle cx="287.35" cy="47.39" r="1.45" fill="#ee0c20"/>
<circle cx="285.04" cy="48.28" r="1.45" fill="#ee0c20"/>
<circle cx="304.63" cy="43.83" r="1.45" fill="#ee0c20"/>
<circle cx="311.39" cy="42.94" r="1.45" fill="#ee0c20"/>
<circle cx="318.16" cy="31.01" r="1.45" fill="#ee0c20"/>
<circle cx="326.53" cy="48.82" r="1.45" fill="#ee0c20"/>
<circle cx="332.76" cy="45.26" r="1.45" fill="#ee0c20"/>
<circle cx="335.43" cy="49.53" r="1.45" fill="#ee0c20"/>
<circle cx="340.24" cy="46.5" r="1.45" fill="#ee0c20"/>
<circle cx="346.65" cy="43.83" r="1.45" fill="#ee0c20"/>
<circle cx="347.9" cy="45.26" r="1.45" fill="#ee0c20"/>
<circle cx="347.36" cy="49.53" r="1.45" fill="#ee0c20"/>
<circle cx="346.12" cy="53.63" r="1.45" fill="#ee0c20"/>
<circle cx="355.91" cy="46.5" r="1.45" fill="#ee0c20"/>
<circle cx="357.69" cy="50.06" r="1.45" fill="#ee0c20"/>
<circle cx="331.34" cy="55.94" r="1.45" fill="#ee0c20"/>
<circle cx="335.97" cy="54.52" r="1.45" fill="#ee0c20"/>
<circle cx="352.35" cy="53.63" r="1.45" fill="#ee0c20"/>
<circle cx="351.99" cy="56.65" r="1.45" fill="#ee0c20"/>
<circle cx="357.69" cy="57.72" r="1.45" fill="#ee0c20"/>
<circle cx="317.27" cy="60.39" r="1.45" fill="#ee0c20"/>
<circle cx="325.28" cy="65.2" r="1.45" fill="#ee0c20"/>
<circle cx="330.09" cy="65.56" r="1.45" fill="#ee0c20"/>
<circle cx="316.74" cy="75.88" r="1.45" fill="#ee0c20"/>
<circle cx="319.94" cy="75.53" r="1.45" fill="#ee0c20"/>
<circle cx="322.97" cy="74.99" r="1.45" fill="#ee0c20"/>
<circle cx="327.42" cy="77.31" r="1.45" fill="#ee0c20"/>
<circle cx="330.62" cy="74.1" r="1.45" fill="#ee0c20"/>
<circle cx="338.99" cy="74.1" r="1.45" fill="#ee0c20"/>
<circle cx="339.53" cy="76.24" r="1.45" fill="#ee0c20"/>
<circle cx="342.55" cy="76.77" r="1.45" fill="#ee0c20"/>
<circle cx="343.44" cy="77.66" r="1.45" fill="#ee0c20"/>
<circle cx="282.01" cy="63.42" r="1.45" fill="#ee0c20"/>
<circle cx="282.55" cy="68.4" r="1.45" fill="#ee0c20"/>
<circle cx="286.11" cy="71.43" r="1.45" fill="#ee0c20"/>
<circle cx="288.25" cy="70.54" r="1.45" fill="#ee0c20"/>
<circle cx="289.67" cy="76.77" r="1.45" fill="#ee0c20"/>
<circle cx="296.79" cy="72.32" r="1.45" fill="#ee0c20"/>
<circle cx="302.49" cy="71.43" r="1.45" fill="#ee0c20"/>
<circle cx="302.49" cy="78.55" r="1.45" fill="#ee0c20"/>
<circle cx="307.83" cy="64.31" r="1.45" fill="#ee0c20"/>
<circle cx="309.61" cy="73.21" r="1.45" fill="#ee0c20"/>
<circle cx="310.5" cy="72.32" r="1.45" fill="#ee0c20"/>
<circle cx="348.79" cy="64.31" r="1.45" fill="#ee0c20"/>
<circle cx="349.68" cy="66.98" r="1.45" fill="#ee0c20"/>
<circle cx="350.57" cy="68.76" r="1.45" fill="#ee0c20"/>
<circle cx="352.35" cy="74.99" r="1.45" fill="#ee0c20"/>
<circle cx="354.13" cy="77.66" r="1.45" fill="#ee0c20"/>
<circle cx="355.91" cy="75.88" r="1.45" fill="#ee0c20"/>
<circle cx="358.58" cy="79.44" r="1.45" fill="#ee0c20"/>
<circle cx="355.02" cy="63.42" r="1.45" fill="#ee0c20"/>
<circle cx="357.69" cy="65.2" r="1.45" fill="#ee0c20"/>
<circle cx="355.91" cy="70.54" r="1.45" fill="#ee0c20"/>
<circle cx="358.58" cy="73.21" r="1.45" fill="#ee0c20"/>
<circle cx="356.86" cy="21.59" r="1.45" fill="#58b03a"/>
<circle cx="360.1" cy="19.74" r="1.45" fill="#58b03a"/>
<circle cx="361.49" cy="28.09" r="1.45" fill="#58b03a"/>
<circle cx="356.86" cy="32.03" r="1.45" fill="#58b03a"/>
<circle cx="363.81" cy="36.67" r="1.45" fill="#58b03a"/>
<circle cx="365.43" cy="38.99" r="1.45" fill="#58b03a"/>
<circle cx="369.38" cy="24.38" r="1.45" fill="#58b03a"/>
<circle cx="394.88" cy="23.91" r="1.45" fill="#58b03a"/>
<circle cx="400.91" cy="38.99" r="1.45" fill="#58b03a"/>
<circle cx="401.84" cy="39.68" r="1.45" fill="#58b03a"/>
<circle cx="425.03" cy="26.7" r="1.45" fill="#58b03a"/>
<circle cx="387.46" cy="66.35" r="1.45" fill="#58b03a"/>
<circle cx="396.28" cy="63.8" r="1.45" fill="#58b03a"/>
<circle cx="403.23" cy="71.45" r="1.45" fill="#58b03a"/>
<circle cx="377.72" cy="71.45" r="1.45" fill="#58b03a"/>
<circle cx="454.71" cy="62.87" r="1.45" fill="#58b03a"/>
<circle cx="364.28" cy="77.25" r="1.45" fill="#58b03a"/>
<circle cx="408.33" cy="76.09" r="1.45" fill="#58b03a"/>
<circle cx="422.25" cy="77.25" r="1.45" fill="#58b03a"/>
<circle cx="438.48" cy="72.61" r="1.45" fill="#58b03a"/>
<circle cx="444.28" cy="72.61" r="1.45" fill="#58b03a"/>
<circle cx="374.71" cy="35.04" r="1.45" fill="#ee0c20"/>
<circle cx="361.49" cy="40.61" r="1.45" fill="#ee0c20"/>
<circle cx="366.13" cy="46.64" r="1.45" fill="#ee0c20"/>
<circle cx="359.64" cy="54.06" r="1.45" fill="#ee0c20"/>
<circle cx="357.32" cy="57.54" r="1.45" fill="#ee0c20"/>
<circle cx="356.16" cy="47.1" r="1.45" fill="#ee0c20"/>
<circle cx="435" cy="34.35" r="1.45" fill="#ee0c20"/>
<circle cx="441.96" cy="36.67" r="1.45" fill="#ee0c20"/>
<circle cx="458.88" cy="47.8" r="1.45" fill="#ee0c20"/>
<circle cx="372.39" cy="56.38" r="1.45" fill="#ee0c20"/>
<circle cx="370.07" cy="61.48" r="1.45" fill="#ee0c20"/>
<circle cx="374.01" cy="63.33" r="1.45" fill="#ee0c20"/>
<circle cx="377.03" cy="65.19" r="1.45" fill="#ee0c20"/>
<circle cx="380.04" cy="65.65" r="1.45" fill="#ee0c20"/>
<circle cx="382.83" cy="63.8" r="1.45" fill="#ee0c20"/>
<circle cx="393.26" cy="61.01" r="1.45" fill="#ee0c20"/>
<circle cx="397.9" cy="63.8" r="1.45" fill="#ee0c20"/>
<circle cx="407.17" cy="61.01" r="1.45" fill="#ee0c20"/>
<circle cx="411.81" cy="59.86" r="1.45" fill="#ee0c20"/>
<circle cx="423.41" cy="58.23" r="1.45" fill="#ee0c20"/>
<circle cx="418.77" cy="64.49" r="1.45" fill="#ee0c20"/>
<circle cx="431.52" cy="63.8" r="1.45" fill="#ee0c20"/>
<circle cx="441.26" cy="65.65" r="1.45" fill="#ee0c20"/>
<circle cx="447.75" cy="68.43" r="1.45" fill="#ee0c20"/>
<circle cx="454.71" cy="64.49" r="1.45" fill="#ee0c20"/>
<circle cx="367.75" cy="64.49" r="1.45" fill="#ee0c20"/>
<circle cx="359.17" cy="65.65" r="1.45" fill="#ee0c20"/>
<circle cx="361.96" cy="70.29" r="1.45" fill="#ee0c20"/>
<circle cx="358.48" cy="72.61" r="1.45" fill="#ee0c20"/>
<circle cx="366.59" cy="73.77" r="1.45" fill="#ee0c20"/>
<circle cx="371.7" cy="74.93" r="1.45" fill="#ee0c20"/>
<circle cx="375.87" cy="72.14" r="1.45" fill="#ee0c20"/>
<circle cx="381.67" cy="70.75" r="1.45" fill="#ee0c20"/>
<circle cx="385.14" cy="72.14" r="1.45" fill="#ee0c20"/>
<circle cx="389.78" cy="70.75" r="1.45" fill="#ee0c20"/>
<circle cx="392.1" cy="73.77" r="1.45" fill="#ee0c20"/>
<circle cx="395.58" cy="73.07" r="1.45" fill="#ee0c20"/>
<circle cx="399.06" cy="71.45" r="1.45" fill="#ee0c20"/>
<circle cx="404.86" cy="69.13" r="1.45" fill="#ee0c20"/>
<circle cx="410.65" cy="70.75" r="1.45" fill="#ee0c20"/>
<circle cx="414.13" cy="72.61" r="1.45" fill="#ee0c20"/>
<circle cx="422.25" cy="70.75" r="1.45" fill="#ee0c20"/>
<circle cx="435" cy="69.13" r="1.45" fill="#ee0c20"/>
<circle cx="452.39" cy="71.45" r="1.45" fill="#ee0c20"/>
<circle cx="372.93" cy="73.96" r="1.45" fill="#ee0c20"/>
<circle cx="421.2" cy="72.29" r="1.45" fill="#ee0c20"/>
<circle cx="380.22" cy="75.92" r="1.45" fill="#ee0c20"/>
<circle cx="451.42" cy="74.51" r="1.45" fill="#ee0c20"/>
<circle cx="452.44" cy="79.08" r="1.45" fill="#ee0c20"/>
<circle cx="423.85" cy="72.62" r="1.45" fill="#ee0c20"/>
<circle cx="416.68" cy="74.3" r="1.45" fill="#ee0c20"/>
<circle cx="426.47" cy="79.7" r="1.45" fill="#ee0c20"/>
<circle cx="436.27" cy="77.17" r="1.45" fill="#ee0c20"/>
<circle cx="399.56" cy="73.91" r="1.45" fill="#ee0c20"/>
<circle cx="419.76" cy="78.19" r="1.45" fill="#ee0c20"/>
<circle cx="392.6" cy="72.23" r="1.45" fill="#ee0c20"/>
<circle cx="391.71" cy="75.88" r="1.45" fill="#ee0c20"/>
<circle cx="442.57" cy="74.88" r="1.45" fill="#ee0c20"/>
<circle cx="426.01" cy="78.31" r="1.45" fill="#ee0c20"/>
<circle cx="443.35" cy="73.63" r="1.45" fill="#ee0c20"/>
<circle cx="376.31" cy="72.2" r="1.45" fill="#ee0c20"/>
<circle cx="414.03" cy="78.57" r="1.45" fill="#ee0c20"/>
<circle cx="436.65" cy="78.07" r="1.45" fill="#ee0c20"/>
<circle cx="455.29" cy="78.62" r="1.45" fill="#ee0c20"/>
<circle cx="366.44" cy="74.79" r="1.45" fill="#ee0c20"/>
<circle cx="427" cy="76.02" r="1.45" fill="#ee0c20"/>
<circle cx="428.97" cy="79.95" r="1.45" fill="#ee0c20"/>
<circle cx="370.58" cy="74.75" r="1.45" fill="#ee0c20"/>
<circle cx="370.61" cy="74.21" r="1.45" fill="#ee0c20"/>
<circle cx="381.56" cy="74.85" r="1.45" fill="#ee0c20"/>
<circle cx="400.31" cy="72.29" r="1.45" fill="#ee0c20"/>
<circle cx="372.79" cy="71.98" r="1.45" fill="#ee0c20"/>
<circle cx="398.42" cy="78.31" r="1.45" fill="#ee0c20"/>
<circle cx="358.26" cy="76.02" r="1.45" fill="#58b03a"/>
<circle cx="448.37" cy="77.51" r="1.45" fill="#ee0c20"/>
<circle cx="388.51" cy="72.12" r="1.45" fill="#ee0c20"/>
<circle cx="402.4" cy="75.34" r="1.45" fill="#ee0c20"/>
<circle cx="413.87" cy="79.63" r="1.45" fill="#ee0c20"/>
<circle cx="456.94" cy="76.02" r="1.45" fill="#ee0c20"/>
<circle cx="390.84" cy="73.95" r="1.45" fill="#ee0c20"/>
<circle cx="422.8" cy="72.17" r="1.45" fill="#ee0c20"/>
<circle cx="436.96" cy="77.37" r="1.45" fill="#ee0c20"/>
<circle cx="366.28" cy="77.66" r="1.45" fill="#ee0c20"/>
<circle cx="431.53" cy="74.27" r="1.45" fill="#ee0c20"/>
<circle cx="364.97" cy="73.88" r="1.45" fill="#58b03a"/>
<circle cx="397.32" cy="78.81" r="1.45" fill="#ee0c20"/>
<circle cx="455.13" cy="75.7" r="1.45" fill="#ee0c20"/>
<circle cx="426.57" cy="79.16" r="1.45" fill="#ee0c20"/>
<circle cx="388.66" cy="74.95" r="1.45" fill="#ee0c20"/>
<circle cx="423.03" cy="77.08" r="1.45" fill="#ee0c20"/>
<circle cx="370.91" cy="72.47" r="1.45" fill="#ee0c20"/>
<circle cx="382.86" cy="79.53" r="1.45" fill="#ee0c20"/>
<circle cx="438.88" cy="72.46" r="1.45" fill="#ee0c20"/>
<circle cx="398.13" cy="79.59" r="1.45" fill="#ee0c20"/>
<circle cx="400.14" cy="74.02" r="1.45" fill="#ee0c20"/>
<circle cx="418.47" cy="74.87" r="1.45" fill="#ee0c20"/>
<circle cx="380.2" cy="78.87" r="1.45" fill="#ee0c20"/>
<circle cx="397.94" cy="71.98" r="1.45" fill="#ee0c20"/>
<circle cx="405.9" cy="78.21" r="1.45" fill="#ee0c20"/>
<circle cx="360.27" cy="75" r="1.45" fill="#ee0c20"/>
<circle cx="409.15" cy="78.83" r="1.45" fill="#58b03a"/>
<circle cx="362.64" cy="74.18" r="1.45" fill="#ee0c20"/>
<circle cx="363.4" cy="79.93" r="1.45" fill="#ee0c20"/>
<circle cx="374.98" cy="74.07" r="1.45" fill="#ee0c20"/>
<circle cx="357.43" cy="73.42" r="1.45" fill="#ee0c20"/>
<circle cx="414.89" cy="76.16" r="1.45" fill="#ee0c20"/>
<circle cx="409.71" cy="76.49" r="1.45" fill="#ee0c20"/>
<circle cx="420.82" cy="78.74" r="1.45" fill="#ee0c20"/>
<circle cx="419.13" cy="79.33" r="1.45" fill="#ee0c20"/>
<circle cx="430.72" cy="77.29" r="1.45" fill="#ee0c20"/>
<circle cx="414.63" cy="76.55" r="1.45" fill="#ee0c20"/>
<circle cx="423.96" cy="78.88" r="1.45" fill="#ee0c20"/>
<circle cx="411.1" cy="74.81" r="1.45" fill="#ee0c20"/>
<circle cx="379.69" cy="73.94" r="1.45" fill="#ee0c20"/>
<circle cx="371.99" cy="75.26" r="1.45" fill="#ee0c20"/>
<circle cx="453.2" cy="77.05" r="1.45" fill="#ee0c20"/>
<circle cx="402.02" cy="77.86" r="1.45" fill="#ee0c20"/>
<circle cx="455.79" cy="78.34" r="1.45" fill="#ee0c20"/>
<circle cx="379.57" cy="73.14" r="1.45" fill="#ee0c20"/>
<circle cx="376.13" cy="74.51" r="1.45" fill="#ee0c20"/>
<circle cx="380.15" cy="76.25" r="1.45" fill="#ee0c20"/>
<circle cx="428.07" cy="73.98" r="1.45" fill="#ee0c20"/>
<circle cx="414.82" cy="73.03" r="1.45" fill="#ee0c20"/>
<circle cx="438.63" cy="78.9" r="1.45" fill="#ee0c20"/>
<circle cx="408.74" cy="73.13" r="1.45" fill="#ee0c20"/>
<circle cx="420.91" cy="72.14" r="1.45" fill="#ee0c20"/>
<circle cx="403.92" cy="74.38" r="1.45" fill="#ee0c20"/>
<circle cx="455.73" cy="78.43" r="1.45" fill="#ee0c20"/>
<circle cx="366.5" cy="76.94" r="1.45" fill="#ee0c20"/>
<circle cx="398.24" cy="79.61" r="1.45" fill="#58b03a"/>
<circle cx="428.6" cy="72.18" r="1.45" fill="#ee0c20"/>
<circle cx="369.29" cy="78.89" r="1.45" fill="#ee0c20"/>
<circle cx="365.95" cy="71.91" r="1.45" fill="#ee0c20"/>
<circle cx="368.7" cy="74.04" r="1.45" fill="#ee0c20"/>
<circle cx="394.43" cy="73.11" r="1.45" fill="#ee0c20"/>
<circle cx="432.08" cy="79.9" r="1.45" fill="#ee0c20"/>
<circle cx="381.41" cy="75.8" r="1.45" fill="#ee0c20"/>
<circle cx="393.41" cy="76" r="1.45" fill="#ee0c20"/>
<circle cx="393.05" cy="77.09" r="1.45" fill="#ee0c20"/>
<circle cx="418.51" cy="79.72" r="1.45" fill="#ee0c20"/>
<circle cx="381.73" cy="77.1" r="1.45" fill="#ee0c20"/>
<circle cx="359.17" cy="71.91" r="1.45" fill="#ee0c20"/>
<circle cx="437.7" cy="76" r="1.45" fill="#58b03a"/>
<circle cx="383.36" cy="78.77" r="1.45" fill="#ee0c20"/>
<circle cx="446.12" cy="74.52" r="1.45" fill="#ee0c20"/>
<circle cx="417.01" cy="77.95" r="1.45" fill="#ee0c20"/>
<circle cx="434.67" cy="77.8" r="1.45" fill="#ee0c20"/>
<circle cx="359.53" cy="71.86" r="1.45" fill="#ee0c20"/>
<circle cx="406.36" cy="79.74" r="1.45" fill="#ee0c20"/>
<circle cx="364.61" cy="74.92" r="1.45" fill="#ee0c20"/>
<circle cx="418.2" cy="73.1" r="1.45" fill="#ee0c20"/>
<circle cx="427.68" cy="76.33" r="1.45" fill="#ee0c20"/>
<circle cx="454.71" cy="75.77" r="1.45" fill="#ee0c20"/>
<circle cx="410.88" cy="77.45" r="1.45" fill="#ee0c20"/>
<circle cx="420.71" cy="78.27" r="1.45" fill="#ee0c20"/>
<circle cx="431.18" cy="77.29" r="1.45" fill="#ee0c20"/>
<circle cx="452.62" cy="77.43" r="1.45" fill="#ee0c20"/>
<circle cx="406.31" cy="78.14" r="1.45" fill="#ee0c20"/>
<circle cx="446.38" cy="75.02" r="1.45" fill="#ee0c20"/>
<circle cx="431.15" cy="78.82" r="1.45" fill="#ee0c20"/>
<circle cx="363.48" cy="71.88" r="1.45" fill="#ee0c20"/>
<circle cx="415.5" cy="75.22" r="1.45" fill="#ee0c20"/>
<circle cx="428.26" cy="72.51" r="1.45" fill="#ee0c20"/>
<circle cx="366.72" cy="78.37" r="1.45" fill="#ee0c20"/>
<circle cx="279.8" cy="18.3" r="1.45" fill="#ee0c20"/>
<circle cx="279.8" cy="26.2" r="1.45" fill="#58b03a"/>
<text transform="translate(286,20.61) scale(1,1.08)" font-size="6.1" fill="#333">Dead</text>
<text transform="translate(286,28.51) scale(1,1.08)" font-size="6.1" fill="#333">Alive</text>
<rect x="29" y="122.8" width="82.8" height="3" fill="#f0776c"/>
<rect x="111.8" y="122.8" width="82.2" height="3" fill="#22b7c2"/>
<g transform="translate(0,126.9)" class="hr"><rect x="29" width="1.05" height="15.55" fill="#eef7ec"/><rect x="30" width="1.55" height="15.55" fill="#e4f2e1"/><rect x="31.5" width="1.05" height="15.55" fill="#dff0db"/><rect x="32.5" width="1.05" height="15.55" fill="#f0f8ee"/><rect x="33.5" width="1.55" height="15.55" fill="#dceed8"/><rect x="35" width="1.55" height="15.55" fill="#e0f0dc"/><rect x="36.5" width="1.05" height="15.55" fill="#c3e3bc"/><rect x="37.5" width="1.05" height="15.55" fill="#f0f8ee"/><rect x="38.5" width="1.55" height="15.55" fill="#ecf6ea"/><rect x="40" width="1.05" height="15.55" fill="#dff0db"/><rect x="41" width="2.05" height="15.55" fill="#ebf5e8"/><rect x="43" width="1.55" height="15.55" fill="#ddefd8"/><rect x="44.5" width="1.05" height="15.55" fill="#eff8ed"/><rect x="45.5" width="1.05" height="15.55" fill="#e3f2e0"/><rect x="46.5" width="1.05" height="15.55" fill="#dbeed7"/><rect x="47.5" width="1.05" height="15.55" fill="#deefda"/><rect x="48.5" width="1.05" height="15.55" fill="#f1f9f0"/><rect x="49.5" width="1.05" height="15.55" fill="#e5f3e2"/><rect x="50.5" width="1.55" height="15.55" fill="#f0f8ee"/><rect x="52" width="2.05" height="15.55" fill="#d7ecd2"/><rect x="54" width="2.05" height="15.55" fill="#e7f4e4"/><rect x="56" width="1.05" height="15.55" fill="#e3f2df"/><rect x="57" width="1.55" height="15.55" fill="#f4faf3"/><rect x="58.5" width="1.05" height="15.55" fill="#d9edd4"/><rect x="59.5" width="1.05" height="15.55" fill="#e9f5e7"/><rect x="60.5" width="2.05" height="15.55" fill="#ebf6e9"/><rect x="62.5" width="2.05" height="15.55" fill="#f1f9f0"/><rect x="64.5" width="1.55" height="15.55" fill="#edf6ea"/><rect x="66" width="2.05" height="15.55" fill="#f3f9f1"/><rect x="68" width="1.05" height="15.55" fill="#f4faf2"/><rect x="69" width="1.55" height="15.55" fill="#deefda"/><rect x="70.5" width="1.05" height="15.55" fill="#d8ecd3"/><rect x="71.5" width="1.55" height="15.55" fill="#edf6eb"/><rect x="73" width="1.05" height="15.55" fill="#ebf6e9"/><rect x="74" width="1.05" height="15.55" fill="#edf7eb"/><rect x="75" width="1.05" height="15.55" fill="#eaf5e7"/><rect x="76" width="1.05" height="15.55" fill="#e9f5e7"/><rect x="77" width="1.05" height="15.55" fill="#dff0db"/><rect x="78" width="1.55" height="15.55" fill="#d5ebd0"/><rect x="79.5" width="1.05" height="15.55" fill="#e5f3e1"/><rect x="80.5" width="1.05" height="15.55" fill="#e4f2e1"/><rect x="81.5" width="1.05" height="15.55" fill="#d3eace"/><rect x="82.5" width="1.05" height="15.55" fill="#e0f0dc"/><rect x="83.5" width="1.55" height="15.55" fill="#d0e9ca"/><rect x="85" width="1.05" height="15.55" fill="#f3f9f2"/><rect x="86" width="1.55" height="15.55" fill="#d1e9cb"/><rect x="87.5" width="1.05" height="15.55" fill="#dff0da"/><rect x="88.5" width="2.05" height="15.55" fill="#fdf0f0"/><rect x="90.5" width="1.05" height="15.55" fill="#d0e9ca"/><rect x="91.5" width="1.05" height="15.55" fill="#cae6c4"/><rect x="92.5" width="1.05" height="15.55" fill="#dbeed7"/><rect x="93.5" width="2.05" height="15.55" fill="#fdecec"/><rect x="95.5" width="1.05" height="15.55" fill="#f1f8ef"/><rect x="96.5" width="1.05" height="15.55" fill="#d1e9cb"/><rect x="97.5" width="2.05" height="15.55" fill="#f0f8ef"/><rect x="99.5" width="1.05" height="15.55" fill="#fce2e3"/><rect x="100.5" width="1.05" height="15.55" fill="#fbdbdb"/><rect x="101.5" width="1.55" height="15.55" fill="#e9f5e6"/><rect x="103" width="1.05" height="15.55" fill="#d7ecd2"/><rect x="104" width="2.05" height="15.55" fill="#edf6eb"/><rect x="106" width="1.05" height="15.55" fill="#e6f3e3"/><rect x="107" width="1.05" height="15.55" fill="#f2f9f0"/><rect x="108" width="1.05" height="15.55" fill="#e2f1de"/><rect x="109" width="1.55" height="15.55" fill="#e0f1dd"/><rect x="110.5" width="1.05" height="15.55" fill="#fef3f3"/><rect x="111.5" width="1.05" height="15.55" fill="#fce8e9"/><rect x="112.5" width="1.05" height="15.55" fill="#fce9e9"/><rect x="113.5" width="1.55" height="15.55" fill="#fce6e6"/><rect x="115" width="1.05" height="15.55" fill="#f8c2c3"/><rect x="116" width="1.05" height="15.55" fill="#fbdcdd"/><rect x="117" width="1.05" height="15.55" fill="#daedd5"/><rect x="118" width="1.05" height="15.55" fill="#fce7e7"/><rect x="119" width="1.05" height="15.55" fill="#e6f3e3"/><rect x="120" width="1.05" height="15.55" fill="#fdf0f0"/><rect x="121" width="1.05" height="15.55" fill="#f4faf3"/><rect x="122" width="2.05" height="15.55" fill="#f5faf4"/><rect x="124" width="1.05" height="15.55" fill="#eff7ed"/><rect x="125" width="1.05" height="15.55" fill="#f3f9f1"/><rect x="126" width="1.05" height="15.55" fill="#f6fbf5"/><rect x="127" width="1.05" height="15.55" fill="#f3f9f1"/><rect x="128" width="1.05" height="15.55" fill="#fad9d9"/><rect x="129" width="1.05" height="15.55" fill="#f8c7c8"/><rect x="130" width="2.05" height="15.55" fill="#fad4d5"/><rect x="132" width="1.05" height="15.55" fill="#dcefd8"/><rect x="133" width="1.05" height="15.55" fill="#f0f8ee"/><rect x="134" width="1.05" height="15.55" fill="#fce8e8"/><rect x="135" width="1.55" height="15.55" fill="#fad7d7"/><rect x="136.5" width="2.05" height="15.55" fill="#f8c1c2"/><rect x="138.5" width="1.05" height="15.55" fill="#fbe0e0"/><rect x="139.5" width="2.05" height="15.55" fill="#f4faf2"/><rect x="141.5" width="1.05" height="15.55" fill="#fbdcdc"/><rect x="142.5" width="1.05" height="15.55" fill="#f5faf3"/><rect x="143.5" width="1.05" height="15.55" fill="#fad4d5"/><rect x="144.5" width="1.05" height="15.55" fill="#fbdfdf"/><rect x="145.5" width="1.05" height="15.55" fill="#fbdbdc"/><rect x="146.5" width="1.05" height="15.55" fill="#f9cccc"/><rect x="147.5" width="1.05" height="15.55" fill="#fce9e9"/><rect x="148.5" width="1.05" height="15.55" fill="#f7bcbd"/><rect x="149.5" width="1.05" height="15.55" fill="#fce4e4"/><rect x="150.5" width="1.05" height="15.55" fill="#fce7e7"/><rect x="151.5" width="2.05" height="15.55" fill="#fdeeef"/><rect x="153.5" width="1.05" height="15.55" fill="#fdf2f2"/><rect x="154.5" width="1.05" height="15.55" fill="#f5a9aa"/><rect x="155.5" width="1.05" height="15.55" fill="#fbe1e1"/><rect x="156.5" width="1.05" height="15.55" fill="#fdecec"/><rect x="157.5" width="1.05" height="15.55" fill="#f6b6b7"/><rect x="158.5" width="1.05" height="15.55" fill="#f8c9c9"/><rect x="159.5" width="2.05" height="15.55" fill="#f9d0d0"/><rect x="161.5" width="1.55" height="15.55" fill="#fbdddd"/><rect x="163" width="1.05" height="15.55" fill="#fad8d8"/><rect x="164" width="1.05" height="15.55" fill="#fad5d5"/><rect x="165" width="1.55" height="15.55" fill="#fce2e2"/><rect x="166.5" width="1.05" height="15.55" fill="#f9d1d1"/><rect x="167.5" width="2.05" height="15.55" fill="#f9cfcf"/><rect x="169.5" width="1.05" height="15.55" fill="#f8c7c8"/><rect x="170.5" width="1.05" height="15.55" fill="#fdeded"/><rect x="171.5" width="2.05" height="15.55" fill="#f9cece"/><rect x="173.5" width="1.05" height="15.55" fill="#fad7d7"/><rect x="174.5" width="1.05" height="15.55" fill="#fbdcdc"/><rect x="175.5" width="1.05" height="15.55" fill="#f6b7b8"/><rect x="176.5" width="1.05" height="15.55" fill="#f8c7c7"/><rect x="177.5" width="1.05" height="15.55" fill="#fce7e7"/><rect x="178.5" width="1.05" height="15.55" fill="#f7bdbd"/><rect x="179.5" width="1.05" height="15.55" fill="#fef3f3"/><rect x="180.5" width="1.55" height="15.55" fill="#f7bcbd"/><rect x="182" width="1.05" height="15.55" fill="#fad6d6"/><rect x="183" width="1.05" height="15.55" fill="#fce6e7"/><rect x="184" width="1.05" height="15.55" fill="#f6fbf4"/><rect x="185" width="1.05" height="15.55" fill="#fdebeb"/><rect x="186" width="1.05" height="15.55" fill="#f7bdbe"/><rect x="187" width="1.55" height="15.55" fill="#fad2d3"/><rect x="188.5" width="2.05" height="15.55" fill="#fad6d6"/><rect x="190.5" width="1.55" height="15.55" fill="#f4a7a8"/><rect x="192" width="1.05" height="15.55" fill="#fad9da"/><rect x="193" width="1.05" height="15.55" fill="#f7c0c1"/></g>
<g transform="translate(0,142.4)" class="hr"><rect x="29" width="1.05" height="15.55" fill="#f5faf4"/><rect x="30" width="1.55" height="15.55" fill="#dff0da"/><rect x="31.5" width="1.05" height="15.55" fill="#edf6eb"/><rect x="32.5" width="1.05" height="15.55" fill="#f2f9f0"/><rect x="33.5" width="1.55" height="15.55" fill="#d6ebd1"/><rect x="35" width="1.55" height="15.55" fill="#fdf2f3"/><rect x="36.5" width="1.05" height="15.55" fill="#edf6eb"/><rect x="37.5" width="1.05" height="15.55" fill="#dbeed7"/><rect x="38.5" width="1.55" height="15.55" fill="#edf6ea"/><rect x="40" width="1.05" height="15.55" fill="#ddefd8"/><rect x="41" width="2.05" height="15.55" fill="#ddefd9"/><rect x="43" width="1.55" height="15.55" fill="#fce6e6"/><rect x="44.5" width="1.05" height="15.55" fill="#f0f8ef"/><rect x="45.5" width="1.05" height="15.55" fill="#d2eacd"/><rect x="46.5" width="1.05" height="15.55" fill="#e7f4e4"/><rect x="47.5" width="1.05" height="15.55" fill="#f2f9f0"/><rect x="48.5" width="1.05" height="15.55" fill="#fce8e8"/><rect x="49.5" width="1.05" height="15.55" fill="#fce8e8"/><rect x="50.5" width="1.55" height="15.55" fill="#e5f2e1"/><rect x="52" width="2.05" height="15.55" fill="#d7ecd2"/><rect x="54" width="2.05" height="15.55" fill="#ddefd9"/><rect x="56" width="1.05" height="15.55" fill="#f2f9f0"/><rect x="57" width="1.55" height="15.55" fill="#f6fbf5"/><rect x="58.5" width="1.05" height="15.55" fill="#fdecec"/><rect x="59.5" width="1.05" height="15.55" fill="#fdf2f2"/><rect x="60.5" width="2.05" height="15.55" fill="#dbeed7"/><rect x="62.5" width="2.05" height="15.55" fill="#ebf6e9"/><rect x="64.5" width="1.55" height="15.55" fill="#f3f9f2"/><rect x="66" width="2.05" height="15.55" fill="#ecf6e9"/><rect x="68" width="1.05" height="15.55" fill="#fdf2f2"/><rect x="69" width="1.55" height="15.55" fill="#e6f3e3"/><rect x="70.5" width="1.05" height="15.55" fill="#d6ecd1"/><rect x="71.5" width="1.55" height="15.55" fill="#f8c1c2"/><rect x="73" width="1.05" height="15.55" fill="#f0f8ee"/><rect x="74" width="1.05" height="15.55" fill="#f3faf2"/><rect x="75" width="1.05" height="15.55" fill="#fce6e6"/><rect x="76" width="1.05" height="15.55" fill="#eaf5e8"/><rect x="77" width="1.05" height="15.55" fill="#fdf2f2"/><rect x="78" width="1.55" height="15.55" fill="#fdeded"/><rect x="79.5" width="1.05" height="15.55" fill="#edf7eb"/><rect x="80.5" width="1.05" height="15.55" fill="#f1f8ef"/><rect x="81.5" width="1.05" height="15.55" fill="#fce7e7"/><rect x="82.5" width="1.05" height="15.55" fill="#fdebeb"/><rect x="83.5" width="1.55" height="15.55" fill="#fdf1f1"/><rect x="85" width="1.05" height="15.55" fill="#fce4e4"/><rect x="86" width="1.55" height="15.55" fill="#fdefef"/><rect x="87.5" width="1.05" height="15.55" fill="#fce3e3"/><rect x="88.5" width="2.05" height="15.55" fill="#fbdede"/><rect x="90.5" width="1.05" height="15.55" fill="#edf7eb"/><rect x="91.5" width="1.05" height="15.55" fill="#f4faf2"/><rect x="92.5" width="1.05" height="15.55" fill="#fdeced"/><rect x="93.5" width="2.05" height="15.55" fill="#f9cfcf"/><rect x="95.5" width="1.05" height="15.55" fill="#e5f3e2"/><rect x="96.5" width="1.05" height="15.55" fill="#ecf6ea"/><rect x="97.5" width="2.05" height="15.55" fill="#f1f8ef"/><rect x="99.5" width="1.05" height="15.55" fill="#fbdbdb"/><rect x="100.5" width="1.05" height="15.55" fill="#fbddde"/><rect x="101.5" width="1.55" height="15.55" fill="#fce6e6"/><rect x="103" width="1.05" height="15.55" fill="#fce5e5"/><rect x="104" width="2.05" height="15.55" fill="#f1f8ef"/><rect x="106" width="1.05" height="15.55" fill="#fdebeb"/><rect x="107" width="1.05" height="15.55" fill="#fdebeb"/><rect x="108" width="1.05" height="15.55" fill="#eef7ec"/><rect x="109" width="1.55" height="15.55" fill="#f8c8c8"/><rect x="110.5" width="1.05" height="15.55" fill="#fdf1f1"/><rect x="111.5" width="1.05" height="15.55" fill="#fbe0e0"/><rect x="112.5" width="1.05" height="15.55" fill="#fdf2f2"/><rect x="113.5" width="1.55" height="15.55" fill="#fdebeb"/><rect x="115" width="1.05" height="15.55" fill="#fce7e7"/><rect x="116" width="1.05" height="15.55" fill="#fdebeb"/><rect x="117" width="1.05" height="15.55" fill="#fce4e4"/><rect x="118" width="1.05" height="15.55" fill="#fce6e6"/><rect x="119" width="1.05" height="15.55" fill="#fce6e6"/><rect x="120" width="1.05" height="15.55" fill="#e5f3e1"/><rect x="121" width="1.05" height="15.55" fill="#fad3d3"/><rect x="122" width="2.05" height="15.55" fill="#fad7d8"/><rect x="124" width="1.05" height="15.55" fill="#f4faf3"/><rect x="125" width="1.05" height="15.55" fill="#d4ebcf"/><rect x="126" width="1.05" height="15.55" fill="#ebf6e9"/><rect x="127" width="1.05" height="15.55" fill="#fad3d3"/><rect x="128" width="1.05" height="15.55" fill="#fbdddd"/><rect x="129" width="1.05" height="15.55" fill="#fbdedf"/><rect x="130" width="2.05" height="15.55" fill="#fdecec"/><rect x="132" width="1.05" height="15.55" fill="#edf6ea"/><rect x="133" width="1.05" height="15.55" fill="#fce6e6"/><rect x="134" width="1.05" height="15.55" fill="#f2f9f0"/><rect x="135" width="1.55" height="15.55" fill="#fbdbdb"/><rect x="136.5" width="2.05" height="15.55" fill="#fdebeb"/><rect x="138.5" width="1.05" height="15.55" fill="#f9cbcb"/><rect x="139.5" width="2.05" height="15.55" fill="#e7f4e4"/><rect x="141.5" width="1.05" height="15.55" fill="#fdf2f3"/><rect x="142.5" width="1.05" height="15.55" fill="#f1f8ef"/><rect x="143.5" width="1.05" height="15.55" fill="#fad4d4"/><rect x="144.5" width="1.05" height="15.55" fill="#f5faf4"/><rect x="145.5" width="1.05" height="15.55" fill="#fad4d4"/><rect x="146.5" width="1.05" height="15.55" fill="#fbdede"/><rect x="147.5" width="1.05" height="15.55" fill="#fdeeee"/><rect x="148.5" width="1.05" height="15.55" fill="#fbe1e1"/><rect x="149.5" width="1.05" height="15.55" fill="#fce6e6"/><rect x="150.5" width="1.05" height="15.55" fill="#fad8d8"/><rect x="151.5" width="2.05" height="15.55" fill="#fce5e5"/><rect x="153.5" width="1.05" height="15.55" fill="#fbe1e1"/><rect x="154.5" width="1.05" height="15.55" fill="#fce4e5"/><rect x="155.5" width="1.05" height="15.55" fill="#fad3d4"/><rect x="156.5" width="1.05" height="15.55" fill="#fdebeb"/><rect x="157.5" width="1.05" height="15.55" fill="#fad1d2"/><rect x="158.5" width="1.05" height="15.55" fill="#f9cfcf"/><rect x="159.5" width="2.05" height="15.55" fill="#fce4e4"/><rect x="161.5" width="1.55" height="15.55" fill="#fdecec"/><rect x="163" width="1.05" height="15.55" fill="#fad2d2"/><rect x="164" width="1.05" height="15.55" fill="#f9d0d0"/><rect x="165" width="1.55" height="15.55" fill="#fdeaeb"/><rect x="166.5" width="1.05" height="15.55" fill="#fbdbdb"/><rect x="167.5" width="2.05" height="15.55" fill="#fbdede"/><rect x="169.5" width="1.05" height="15.55" fill="#f7c0c1"/><rect x="170.5" width="1.05" height="15.55" fill="#fad3d4"/><rect x="171.5" width="2.05" height="15.55" fill="#f9cbcb"/><rect x="173.5" width="1.05" height="15.55" fill="#fdf2f2"/><rect x="174.5" width="1.05" height="15.55" fill="#fad8d8"/><rect x="175.5" width="1.05" height="15.55" fill="#fad9d9"/><rect x="176.5" width="1.05" height="15.55" fill="#fdefef"/><rect x="177.5" width="1.05" height="15.55" fill="#fbdddd"/><rect x="178.5" width="1.05" height="15.55" fill="#fad8d8"/><rect x="179.5" width="1.05" height="15.55" fill="#fdeeee"/><rect x="180.5" width="1.55" height="15.55" fill="#fbdddd"/><rect x="182" width="1.05" height="15.55" fill="#f9d0d1"/><rect x="183" width="1.05" height="15.55" fill="#f8c4c4"/><rect x="184" width="1.05" height="15.55" fill="#f9cccc"/><rect x="185" width="1.05" height="15.55" fill="#f9cfd0"/><rect x="186" width="1.05" height="15.55" fill="#fad2d2"/><rect x="187" width="1.55" height="15.55" fill="#fbdfdf"/><rect x="188.5" width="2.05" height="15.55" fill="#f9cccc"/><rect x="190.5" width="1.55" height="15.55" fill="#fbe2e2"/><rect x="192" width="1.05" height="15.55" fill="#fbdbdc"/><rect x="193" width="1.05" height="15.55" fill="#f7bcbd"/></g>
<g transform="translate(0,157.9)" class="hr"><rect x="29" width="1.05" height="15.55" fill="#eaf5e7"/><rect x="30" width="1.55" height="15.55" fill="#fdeeee"/><rect x="31.5" width="1.05" height="15.55" fill="#fdf0f0"/><rect x="32.5" width="1.05" height="15.55" fill="#f6fbf5"/><rect x="33.5" width="1.55" height="15.55" fill="#eef7eb"/><rect x="35" width="1.55" height="15.55" fill="#e6f3e3"/><rect x="36.5" width="1.05" height="15.55" fill="#f5faf4"/><rect x="37.5" width="1.05" height="15.55" fill="#fce2e2"/><rect x="38.5" width="1.55" height="15.55" fill="#ebf6e9"/><rect x="40" width="1.05" height="15.55" fill="#d8edd3"/><rect x="41" width="2.05" height="15.55" fill="#deefda"/><rect x="43" width="1.55" height="15.55" fill="#fce9e9"/><rect x="44.5" width="1.05" height="15.55" fill="#e8f4e5"/><rect x="45.5" width="1.05" height="15.55" fill="#dbeed7"/><rect x="46.5" width="1.05" height="15.55" fill="#fdeeef"/><rect x="47.5" width="1.05" height="15.55" fill="#e6f3e2"/><rect x="48.5" width="1.05" height="15.55" fill="#e8f4e5"/><rect x="49.5" width="1.05" height="15.55" fill="#fdeeee"/><rect x="50.5" width="1.55" height="15.55" fill="#eef7ec"/><rect x="52" width="2.05" height="15.55" fill="#fdeced"/><rect x="54" width="2.05" height="15.55" fill="#e4f2e0"/><rect x="56" width="1.05" height="15.55" fill="#fdf2f2"/><rect x="57" width="1.55" height="15.55" fill="#f5faf3"/><rect x="58.5" width="1.05" height="15.55" fill="#dff0db"/><rect x="59.5" width="1.05" height="15.55" fill="#fdeeee"/><rect x="60.5" width="2.05" height="15.55" fill="#fbe0e0"/><rect x="62.5" width="2.05" height="15.55" fill="#fce5e5"/><rect x="64.5" width="1.55" height="15.55" fill="#f3f9f2"/><rect x="66" width="2.05" height="15.55" fill="#fbe0e0"/><rect x="68" width="1.05" height="15.55" fill="#edf7eb"/><rect x="69" width="1.55" height="15.55" fill="#daedd5"/><rect x="70.5" width="1.05" height="15.55" fill="#ebf5e8"/><rect x="71.5" width="1.55" height="15.55" fill="#f0f8ee"/><rect x="73" width="1.05" height="15.55" fill="#d4ebcf"/><rect x="74" width="1.05" height="15.55" fill="#fce5e6"/><rect x="75" width="1.05" height="15.55" fill="#fbe0e0"/><rect x="76" width="1.05" height="15.55" fill="#fdf2f2"/><rect x="77" width="1.05" height="15.55" fill="#fad9d9"/><rect x="78" width="1.55" height="15.55" fill="#eaf5e7"/><rect x="79.5" width="1.05" height="15.55" fill="#fdeded"/><rect x="80.5" width="1.05" height="15.55" fill="#e3f2df"/><rect x="81.5" width="1.05" height="15.55" fill="#f5faf4"/><rect x="82.5" width="1.05" height="15.55" fill="#fce6e6"/><rect x="83.5" width="1.55" height="15.55" fill="#edf7eb"/><rect x="85" width="1.05" height="15.55" fill="#fbe1e2"/><rect x="86" width="1.55" height="15.55" fill="#e1f1dd"/><rect x="87.5" width="1.05" height="15.55" fill="#fbdcdc"/><rect x="88.5" width="2.05" height="15.55" fill="#f0f8ef"/><rect x="90.5" width="1.05" height="15.55" fill="#fdeeee"/><rect x="91.5" width="1.05" height="15.55" fill="#e8f4e5"/><rect x="92.5" width="1.05" height="15.55" fill="#f4faf3"/><rect x="93.5" width="2.05" height="15.55" fill="#cbe7c5"/><rect x="95.5" width="1.05" height="15.55" fill="#fdeded"/><rect x="96.5" width="1.05" height="15.55" fill="#fbe0e0"/><rect x="97.5" width="2.05" height="15.55" fill="#fce3e4"/><rect x="99.5" width="1.05" height="15.55" fill="#fdecec"/><rect x="100.5" width="1.05" height="15.55" fill="#fdf0f0"/><rect x="101.5" width="1.55" height="15.55" fill="#f0f8ee"/><rect x="103" width="1.05" height="15.55" fill="#deefda"/><rect x="104" width="2.05" height="15.55" fill="#e9f5e7"/><rect x="106" width="1.05" height="15.55" fill="#fdebeb"/><rect x="107" width="1.05" height="15.55" fill="#fce4e4"/><rect x="108" width="1.05" height="15.55" fill="#f1f8f0"/><rect x="109" width="1.55" height="15.55" fill="#f4faf3"/><rect x="110.5" width="1.05" height="15.55" fill="#fbe0e1"/><rect x="111.5" width="1.05" height="15.55" fill="#fad3d4"/><rect x="112.5" width="1.05" height="15.55" fill="#fce6e6"/><rect x="113.5" width="1.55" height="15.55" fill="#ecf6ea"/><rect x="115" width="1.05" height="15.55" fill="#fbdfdf"/><rect x="116" width="1.05" height="15.55" fill="#f5faf4"/><rect x="117" width="1.05" height="15.55" fill="#f2f9f0"/><rect x="118" width="1.05" height="15.55" fill="#fdebeb"/><rect x="119" width="1.05" height="15.55" fill="#fce6e7"/><rect x="120" width="1.05" height="15.55" fill="#eff8ed"/><rect x="121" width="1.05" height="15.55" fill="#f6fbf5"/><rect x="122" width="2.05" height="15.55" fill="#f6b4b5"/><rect x="124" width="1.05" height="15.55" fill="#fad6d6"/><rect x="125" width="1.05" height="15.55" fill="#fce9e9"/><rect x="126" width="1.05" height="15.55" fill="#fdefef"/><rect x="127" width="1.05" height="15.55" fill="#ecf6e9"/><rect x="128" width="1.05" height="15.55" fill="#fdefef"/><rect x="129" width="1.05" height="15.55" fill="#fbdcdc"/><rect x="130" width="2.05" height="15.55" fill="#e2f1df"/><rect x="132" width="1.05" height="15.55" fill="#deefda"/><rect x="133" width="1.05" height="15.55" fill="#f1f9f0"/><rect x="134" width="1.05" height="15.55" fill="#f9cece"/><rect x="135" width="1.55" height="15.55" fill="#fceaea"/><rect x="136.5" width="2.05" height="15.55" fill="#f9c9ca"/><rect x="138.5" width="1.05" height="15.55" fill="#dff0db"/><rect x="139.5" width="2.05" height="15.55" fill="#fbdcdc"/><rect x="141.5" width="1.05" height="15.55" fill="#fdefef"/><rect x="142.5" width="1.05" height="15.55" fill="#f8c6c6"/><rect x="143.5" width="1.05" height="15.55" fill="#f8c7c8"/><rect x="144.5" width="1.05" height="15.55" fill="#f9d1d1"/><rect x="145.5" width="1.05" height="15.55" fill="#fdeeee"/><rect x="146.5" width="1.05" height="15.55" fill="#fce4e5"/><rect x="147.5" width="1.05" height="15.55" fill="#fce5e5"/><rect x="148.5" width="1.05" height="15.55" fill="#fbdbdc"/><rect x="149.5" width="1.05" height="15.55" fill="#fce5e6"/><rect x="150.5" width="1.05" height="15.55" fill="#fdf2f2"/><rect x="151.5" width="2.05" height="15.55" fill="#fdf1f1"/><rect x="153.5" width="1.05" height="15.55" fill="#fad4d4"/><rect x="154.5" width="1.05" height="15.55" fill="#fbe2e2"/><rect x="155.5" width="1.05" height="15.55" fill="#fce2e2"/><rect x="156.5" width="1.05" height="15.55" fill="#fbddde"/><rect x="157.5" width="1.05" height="15.55" fill="#fdeeee"/><rect x="158.5" width="1.05" height="15.55" fill="#f9d0d0"/><rect x="159.5" width="2.05" height="15.55" fill="#f9c9ca"/><rect x="161.5" width="1.55" height="15.55" fill="#f7c0c1"/><rect x="163" width="1.05" height="15.55" fill="#fce6e6"/><rect x="164" width="1.05" height="15.55" fill="#fad6d7"/><rect x="165" width="1.55" height="15.55" fill="#f9cccc"/><rect x="166.5" width="1.05" height="15.55" fill="#fbdfdf"/><rect x="167.5" width="2.05" height="15.55" fill="#f8c7c8"/><rect x="169.5" width="1.05" height="15.55" fill="#fbe1e1"/><rect x="170.5" width="1.05" height="15.55" fill="#fad5d5"/><rect x="171.5" width="2.05" height="15.55" fill="#fce2e2"/><rect x="173.5" width="1.05" height="15.55" fill="#fce2e2"/><rect x="174.5" width="1.05" height="15.55" fill="#f5faf4"/><rect x="175.5" width="1.05" height="15.55" fill="#fad2d3"/><rect x="176.5" width="1.05" height="15.55" fill="#f8c5c6"/><rect x="177.5" width="1.05" height="15.55" fill="#fbdada"/><rect x="178.5" width="1.05" height="15.55" fill="#f8c5c6"/><rect x="179.5" width="1.05" height="15.55" fill="#eff7ed"/><rect x="180.5" width="1.55" height="15.55" fill="#f8c6c7"/><rect x="182" width="1.05" height="15.55" fill="#f7c0c1"/><rect x="183" width="1.05" height="15.55" fill="#fdebec"/><rect x="184" width="1.05" height="15.55" fill="#fdebeb"/><rect x="185" width="1.05" height="15.55" fill="#fad2d3"/><rect x="186" width="1.05" height="15.55" fill="#fce3e3"/><rect x="187" width="1.55" height="15.55" fill="#fad6d6"/><rect x="188.5" width="2.05" height="15.55" fill="#f8c9c9"/><rect x="190.5" width="1.55" height="15.55" fill="#fbdfe0"/><rect x="192" width="1.05" height="15.55" fill="#fad8d8"/><rect x="193" width="1.05" height="15.55" fill="#f7bcbd"/></g>
<g transform="translate(0,173.4)" class="hr"><rect x="29" width="1.05" height="15.55" fill="#f7bfc0"/><rect x="30" width="1.55" height="15.55" fill="#fad5d5"/><rect x="31.5" width="1.05" height="15.55" fill="#f8c5c5"/><rect x="32.5" width="1.05" height="15.55" fill="#fbdcdd"/><rect x="33.5" width="1.55" height="15.55" fill="#fad7d8"/><rect x="35" width="1.55" height="15.55" fill="#fbdede"/><rect x="36.5" width="1.05" height="15.55" fill="#d4ebce"/><rect x="37.5" width="1.05" height="15.55" fill="#f8c5c6"/><rect x="38.5" width="1.55" height="15.55" fill="#f8c4c4"/><rect x="40" width="1.05" height="15.55" fill="#f6b5b5"/><rect x="41" width="2.05" height="15.55" fill="#f7c0c1"/><rect x="43" width="1.55" height="15.55" fill="#fdf1f1"/><rect x="44.5" width="1.05" height="15.55" fill="#f9cdcd"/><rect x="45.5" width="1.05" height="15.55" fill="#fbdcdc"/><rect x="46.5" width="1.05" height="15.55" fill="#fad8d8"/><rect x="47.5" width="1.05" height="15.55" fill="#fad7d8"/><rect x="48.5" width="1.05" height="15.55" fill="#eff7ed"/><rect x="49.5" width="1.05" height="15.55" fill="#fad5d6"/><rect x="50.5" width="1.55" height="15.55" fill="#fad8d8"/><rect x="52" width="2.05" height="15.55" fill="#fad7d7"/><rect x="54" width="2.05" height="15.55" fill="#fceaea"/><rect x="56" width="1.05" height="15.55" fill="#fad1d2"/><rect x="57" width="1.55" height="15.55" fill="#fdecec"/><rect x="58.5" width="1.05" height="15.55" fill="#f39d9e"/><rect x="59.5" width="1.05" height="15.55" fill="#f4faf3"/><rect x="60.5" width="2.05" height="15.55" fill="#f8c4c4"/><rect x="62.5" width="2.05" height="15.55" fill="#f0f8ee"/><rect x="64.5" width="1.55" height="15.55" fill="#fbdbdb"/><rect x="66" width="2.05" height="15.55" fill="#fce7e7"/><rect x="68" width="1.05" height="15.55" fill="#fce5e6"/><rect x="69" width="1.55" height="15.55" fill="#fbdedf"/><rect x="70.5" width="1.05" height="15.55" fill="#fad4d4"/><rect x="71.5" width="1.55" height="15.55" fill="#fad4d4"/><rect x="73" width="1.05" height="15.55" fill="#fad8d8"/><rect x="74" width="1.05" height="15.55" fill="#f1f8ef"/><rect x="75" width="1.05" height="15.55" fill="#fce7e7"/><rect x="76" width="1.05" height="15.55" fill="#fbdfdf"/><rect x="77" width="1.05" height="15.55" fill="#f9cbcc"/><rect x="78" width="1.55" height="15.55" fill="#fdecec"/><rect x="79.5" width="1.05" height="15.55" fill="#f9d0d1"/><rect x="80.5" width="1.05" height="15.55" fill="#fdeeee"/><rect x="81.5" width="1.05" height="15.55" fill="#fbdddd"/><rect x="82.5" width="1.05" height="15.55" fill="#fce9ea"/><rect x="83.5" width="1.55" height="15.55" fill="#fdeced"/><rect x="85" width="1.05" height="15.55" fill="#fce9e9"/><rect x="86" width="1.55" height="15.55" fill="#fdf1f1"/><rect x="87.5" width="1.05" height="15.55" fill="#fdf0f0"/><rect x="88.5" width="2.05" height="15.55" fill="#fbdadb"/><rect x="90.5" width="1.05" height="15.55" fill="#e6f3e3"/><rect x="91.5" width="1.05" height="15.55" fill="#fbdddd"/><rect x="92.5" width="1.05" height="15.55" fill="#fdf0f0"/><rect x="93.5" width="2.05" height="15.55" fill="#fdeeee"/><rect x="95.5" width="1.05" height="15.55" fill="#fce5e5"/><rect x="96.5" width="1.05" height="15.55" fill="#eef7ec"/><rect x="97.5" width="2.05" height="15.55" fill="#e4f2e1"/><rect x="99.5" width="1.05" height="15.55" fill="#fdecec"/><rect x="100.5" width="1.05" height="15.55" fill="#e3f2df"/><rect x="101.5" width="1.55" height="15.55" fill="#fef3f3"/><rect x="103" width="1.05" height="15.55" fill="#fdedee"/><rect x="104" width="2.05" height="15.55" fill="#fce5e5"/><rect x="106" width="1.05" height="15.55" fill="#fce5e6"/><rect x="107" width="1.05" height="15.55" fill="#fad9d9"/><rect x="108" width="1.05" height="15.55" fill="#f1f8ef"/><rect x="109" width="1.55" height="15.55" fill="#fdecec"/><rect x="110.5" width="1.05" height="15.55" fill="#fdf0f0"/><rect x="111.5" width="1.05" height="15.55" fill="#ebf6e9"/><rect x="112.5" width="1.05" height="15.55" fill="#fce7e8"/><rect x="113.5" width="1.55" height="15.55" fill="#fdeeee"/><rect x="115" width="1.05" height="15.55" fill="#fce2e2"/><rect x="116" width="1.05" height="15.55" fill="#f3f9f2"/><rect x="117" width="1.05" height="15.55" fill="#fdebec"/><rect x="118" width="1.05" height="15.55" fill="#fdeded"/><rect x="119" width="1.05" height="15.55" fill="#edf6eb"/><rect x="120" width="1.05" height="15.55" fill="#fceaea"/><rect x="121" width="1.05" height="15.55" fill="#f6fbf5"/><rect x="122" width="2.05" height="15.55" fill="#fce2e3"/><rect x="124" width="1.05" height="15.55" fill="#f0f8ee"/><rect x="125" width="1.05" height="15.55" fill="#e3f2df"/><rect x="126" width="1.05" height="15.55" fill="#eaf5e7"/><rect x="127" width="1.05" height="15.55" fill="#e4f2e0"/><rect x="128" width="1.05" height="15.55" fill="#e1f1dd"/><rect x="129" width="1.05" height="15.55" fill="#e8f4e5"/><rect x="130" width="2.05" height="15.55" fill="#fdf0f1"/><rect x="132" width="1.05" height="15.55" fill="#fce5e5"/><rect x="133" width="1.05" height="15.55" fill="#e3f2e0"/><rect x="134" width="1.05" height="15.55" fill="#eef7ec"/><rect x="135" width="1.55" height="15.55" fill="#e4f2e1"/><rect x="136.5" width="2.05" height="15.55" fill="#e6f3e3"/><rect x="138.5" width="1.05" height="15.55" fill="#d9edd4"/><rect x="139.5" width="2.05" height="15.55" fill="#eff7ed"/><rect x="141.5" width="1.05" height="15.55" fill="#d9edd4"/><rect x="142.5" width="1.05" height="15.55" fill="#fbdedf"/><rect x="143.5" width="1.05" height="15.55" fill="#e5f3e1"/><rect x="144.5" width="1.05" height="15.55" fill="#fef3f3"/><rect x="145.5" width="1.05" height="15.55" fill="#fdf1f1"/><rect x="146.5" width="1.05" height="15.55" fill="#eef7eb"/><rect x="147.5" width="1.05" height="15.55" fill="#fceaea"/><rect x="148.5" width="1.05" height="15.55" fill="#d8edd3"/><rect x="149.5" width="1.05" height="15.55" fill="#f1f8ef"/><rect x="150.5" width="1.05" height="15.55" fill="#ecf6e9"/><rect x="151.5" width="2.05" height="15.55" fill="#d1e9cb"/><rect x="153.5" width="1.05" height="15.55" fill="#fdf2f2"/><rect x="154.5" width="1.05" height="15.55" fill="#ebf6e9"/><rect x="155.5" width="1.05" height="15.55" fill="#fef3f3"/><rect x="156.5" width="1.05" height="15.55" fill="#e1f1dd"/><rect x="157.5" width="1.05" height="15.55" fill="#e0f0dc"/><rect x="158.5" width="1.05" height="15.55" fill="#ddefd9"/><rect x="159.5" width="2.05" height="15.55" fill="#d7ecd2"/><rect x="161.5" width="1.55" height="15.55" fill="#e6f3e2"/><rect x="163" width="1.05" height="15.55" fill="#c5e3bd"/><rect x="164" width="1.05" height="15.55" fill="#e3f2df"/><rect x="165" width="1.55" height="15.55" fill="#f1f8ef"/><rect x="166.5" width="1.05" height="15.55" fill="#fdf2f2"/><rect x="167.5" width="2.05" height="15.55" fill="#eaf5e8"/><rect x="169.5" width="1.05" height="15.55" fill="#cee8c8"/><rect x="170.5" width="1.05" height="15.55" fill="#ddefd8"/><rect x="171.5" width="2.05" height="15.55" fill="#e7f4e4"/><rect x="173.5" width="1.05" height="15.55" fill="#fdf0f0"/><rect x="174.5" width="1.05" height="15.55" fill="#eaf5e8"/><rect x="175.5" width="1.05" height="15.55" fill="#ecf6ea"/><rect x="176.5" width="1.05" height="15.55" fill="#fdecec"/><rect x="177.5" width="1.05" height="15.55" fill="#cfe8c9"/><rect x="178.5" width="1.05" height="15.55" fill="#e5f3e2"/><rect x="179.5" width="1.05" height="15.55" fill="#ecf6ea"/><rect x="180.5" width="1.55" height="15.55" fill="#ecf6e9"/><rect x="182" width="1.05" height="15.55" fill="#e2f1de"/><rect x="183" width="1.05" height="15.55" fill="#d2eacc"/><rect x="184" width="1.05" height="15.55" fill="#ddefd8"/><rect x="185" width="1.05" height="15.55" fill="#cde7c6"/><rect x="186" width="1.05" height="15.55" fill="#e7f4e4"/><rect x="187" width="1.55" height="15.55" fill="#d5ebcf"/><rect x="188.5" width="2.05" height="15.55" fill="#ddefd9"/><rect x="190.5" width="1.55" height="15.55" fill="#ecf6ea"/><rect x="192" width="1.05" height="15.55" fill="#d8ecd3"/><rect x="193" width="1.05" height="15.55" fill="#dceed7"/></g>
<g transform="translate(0,188.9)" class="hr"><rect x="29" width="1.05" height="15.55" fill="#fce4e4"/><rect x="30" width="1.55" height="15.55" fill="#f5faf3"/><rect x="31.5" width="1.05" height="15.55" fill="#fbdada"/><rect x="32.5" width="1.05" height="15.55" fill="#fef4f4"/><rect x="33.5" width="1.55" height="15.55" fill="#fceaea"/><rect x="35" width="1.55" height="15.55" fill="#fce3e3"/><rect x="36.5" width="1.05" height="15.55" fill="#fce8e8"/><rect x="37.5" width="1.05" height="15.55" fill="#fad2d3"/><rect x="38.5" width="1.55" height="15.55" fill="#f4a1a2"/><rect x="40" width="1.05" height="15.55" fill="#f9cfd0"/><rect x="41" width="2.05" height="15.55" fill="#fbdbdb"/><rect x="43" width="1.55" height="15.55" fill="#f9cfcf"/><rect x="44.5" width="1.05" height="15.55" fill="#e8f4e5"/><rect x="45.5" width="1.05" height="15.55" fill="#fad3d3"/><rect x="46.5" width="1.05" height="15.55" fill="#f8c4c5"/><rect x="47.5" width="1.05" height="15.55" fill="#fbe0e1"/><rect x="48.5" width="1.05" height="15.55" fill="#fbe1e1"/><rect x="49.5" width="1.05" height="15.55" fill="#fce3e3"/><rect x="50.5" width="1.55" height="15.55" fill="#f9cece"/><rect x="52" width="2.05" height="15.55" fill="#fdf0f1"/><rect x="54" width="2.05" height="15.55" fill="#f1f9f0"/><rect x="56" width="1.05" height="15.55" fill="#f8c9c9"/><rect x="57" width="1.55" height="15.55" fill="#fbdbdc"/><rect x="58.5" width="1.05" height="15.55" fill="#f9cfcf"/><rect x="59.5" width="1.05" height="15.55" fill="#fad9d9"/><rect x="60.5" width="2.05" height="15.55" fill="#fad5d5"/><rect x="62.5" width="2.05" height="15.55" fill="#fce7e7"/><rect x="64.5" width="1.55" height="15.55" fill="#f9cdce"/><rect x="66" width="2.05" height="15.55" fill="#fad8d9"/><rect x="68" width="1.05" height="15.55" fill="#fceaea"/><rect x="69" width="1.55" height="15.55" fill="#fce7e7"/><rect x="70.5" width="1.05" height="15.55" fill="#ddefd9"/><rect x="71.5" width="1.55" height="15.55" fill="#f2f9f1"/><rect x="73" width="1.05" height="15.55" fill="#fce3e3"/><rect x="74" width="1.05" height="15.55" fill="#fbdcdd"/><rect x="75" width="1.05" height="15.55" fill="#fbdede"/><rect x="76" width="1.05" height="15.55" fill="#fad9d9"/><rect x="77" width="1.05" height="15.55" fill="#fad8d8"/><rect x="78" width="1.55" height="15.55" fill="#f7bfc0"/><rect x="79.5" width="1.05" height="15.55" fill="#fce3e3"/><rect x="80.5" width="1.05" height="15.55" fill="#fdeded"/><rect x="81.5" width="1.05" height="15.55" fill="#fad9d9"/><rect x="82.5" width="1.05" height="15.55" fill="#fdebeb"/><rect x="83.5" width="1.55" height="15.55" fill="#f9cbcc"/><rect x="85" width="1.05" height="15.55" fill="#fdeded"/><rect x="86" width="1.55" height="15.55" fill="#fce4e4"/><rect x="87.5" width="1.05" height="15.55" fill="#edf7eb"/><rect x="88.5" width="2.05" height="15.55" fill="#fbe0e0"/><rect x="90.5" width="1.05" height="15.55" fill="#fdecec"/><rect x="91.5" width="1.05" height="15.55" fill="#fad2d2"/><rect x="92.5" width="1.05" height="15.55" fill="#fad9d9"/><rect x="93.5" width="2.05" height="15.55" fill="#f3f9f1"/><rect x="95.5" width="1.05" height="15.55" fill="#f5faf3"/><rect x="96.5" width="1.05" height="15.55" fill="#fce7e7"/><rect x="97.5" width="2.05" height="15.55" fill="#fdeded"/><rect x="99.5" width="1.05" height="15.55" fill="#fdecec"/><rect x="100.5" width="1.05" height="15.55" fill="#fce8e8"/><rect x="101.5" width="1.55" height="15.55" fill="#fce5e6"/><rect x="103" width="1.05" height="15.55" fill="#fce9ea"/><rect x="104" width="2.05" height="15.55" fill="#fdecec"/><rect x="106" width="1.05" height="15.55" fill="#fdecec"/><rect x="107" width="1.05" height="15.55" fill="#fbdfdf"/><rect x="108" width="1.05" height="15.55" fill="#fce4e4"/><rect x="109" width="1.55" height="15.55" fill="#f6fbf4"/><rect x="110.5" width="1.05" height="15.55" fill="#f0f8ee"/><rect x="111.5" width="1.05" height="15.55" fill="#fce6e6"/><rect x="112.5" width="1.05" height="15.55" fill="#fdebeb"/><rect x="113.5" width="1.55" height="15.55" fill="#f6fbf5"/><rect x="115" width="1.05" height="15.55" fill="#fce6e6"/><rect x="116" width="1.05" height="15.55" fill="#f3f9f1"/><rect x="117" width="1.05" height="15.55" fill="#fceaea"/><rect x="118" width="1.05" height="15.55" fill="#e1f1dd"/><rect x="119" width="1.05" height="15.55" fill="#fceaea"/><rect x="120" width="1.05" height="15.55" fill="#f8c5c5"/><rect x="121" width="1.05" height="15.55" fill="#fbe1e1"/><rect x="122" width="2.05" height="15.55" fill="#fdeeee"/><rect x="124" width="1.05" height="15.55" fill="#fdebeb"/><rect x="125" width="1.05" height="15.55" fill="#fad7d8"/><rect x="126" width="1.05" height="15.55" fill="#fdf0f0"/><rect x="127" width="1.05" height="15.55" fill="#e2f1de"/><rect x="128" width="1.05" height="15.55" fill="#fdf1f1"/><rect x="129" width="1.05" height="15.55" fill="#fbdada"/><rect x="130" width="2.05" height="15.55" fill="#fad6d6"/><rect x="132" width="1.05" height="15.55" fill="#f1f8ef"/><rect x="133" width="1.05" height="15.55" fill="#fce6e6"/><rect x="134" width="1.05" height="15.55" fill="#fdeded"/><rect x="135" width="1.55" height="15.55" fill="#fce5e5"/><rect x="136.5" width="2.05" height="15.55" fill="#fce8e8"/><rect x="138.5" width="1.05" height="15.55" fill="#fce4e4"/><rect x="139.5" width="2.05" height="15.55" fill="#fce8e8"/><rect x="141.5" width="1.05" height="15.55" fill="#fad9da"/><rect x="142.5" width="1.05" height="15.55" fill="#fdefef"/><rect x="143.5" width="1.05" height="15.55" fill="#fdeeee"/><rect x="144.5" width="1.05" height="15.55" fill="#fdf0f0"/><rect x="145.5" width="1.05" height="15.55" fill="#fdecec"/><rect x="146.5" width="1.05" height="15.55" fill="#fbdfdf"/><rect x="147.5" width="1.05" height="15.55" fill="#fceaea"/><rect x="148.5" width="1.05" height="15.55" fill="#fdecec"/><rect x="149.5" width="1.05" height="15.55" fill="#fdebeb"/><rect x="150.5" width="1.05" height="15.55" fill="#fef3f3"/><rect x="151.5" width="2.05" height="15.55" fill="#f3f9f2"/><rect x="153.5" width="1.05" height="15.55" fill="#e4f2e1"/><rect x="154.5" width="1.05" height="15.55" fill="#f9cccc"/><rect x="155.5" width="1.05" height="15.55" fill="#fce9e9"/><rect x="156.5" width="1.05" height="15.55" fill="#fce6e6"/><rect x="157.5" width="1.05" height="15.55" fill="#fce3e3"/><rect x="158.5" width="1.05" height="15.55" fill="#f2f9f0"/><rect x="159.5" width="2.05" height="15.55" fill="#e4f2e0"/><rect x="161.5" width="1.55" height="15.55" fill="#edf7eb"/><rect x="163" width="1.05" height="15.55" fill="#fad9da"/><rect x="164" width="1.05" height="15.55" fill="#edf6ea"/><rect x="165" width="1.55" height="15.55" fill="#fad8d8"/><rect x="166.5" width="1.05" height="15.55" fill="#f8c7c7"/><rect x="167.5" width="2.05" height="15.55" fill="#ddefd9"/><rect x="169.5" width="1.05" height="15.55" fill="#f0f8ee"/><rect x="170.5" width="1.05" height="15.55" fill="#f9cdce"/><rect x="171.5" width="2.05" height="15.55" fill="#fad6d6"/><rect x="173.5" width="1.05" height="15.55" fill="#fce8e9"/><rect x="174.5" width="1.05" height="15.55" fill="#f2f9f0"/><rect x="175.5" width="1.05" height="15.55" fill="#fbe0e0"/><rect x="176.5" width="1.05" height="15.55" fill="#fdf0f0"/><rect x="177.5" width="1.05" height="15.55" fill="#fad5d6"/><rect x="178.5" width="1.05" height="15.55" fill="#fbe1e1"/><rect x="179.5" width="1.05" height="15.55" fill="#f9cfcf"/><rect x="180.5" width="1.55" height="15.55" fill="#f9cccc"/><rect x="182" width="1.05" height="15.55" fill="#f9caca"/><rect x="183" width="1.05" height="15.55" fill="#fdf1f1"/><rect x="184" width="1.05" height="15.55" fill="#eef7ec"/><rect x="185" width="1.05" height="15.55" fill="#f1f8ef"/><rect x="186" width="1.05" height="15.55" fill="#f1f8ef"/><rect x="187" width="1.55" height="15.55" fill="#e3f2e0"/><rect x="188.5" width="2.05" height="15.55" fill="#fdecec"/><rect x="190.5" width="1.55" height="15.55" fill="#fef3f3"/><rect x="192" width="1.05" height="15.55" fill="#fce3e3"/><rect x="193" width="1.05" height="15.55" fill="#e8f4e5"/></g>
<g transform="translate(0,204.4)" class="hr"><rect x="29" width="1.05" height="15.55" fill="#fad3d3"/><rect x="30" width="1.55" height="15.55" fill="#f7c0c0"/><rect x="31.5" width="1.05" height="15.55" fill="#fce5e6"/><rect x="32.5" width="1.05" height="15.55" fill="#e9f5e6"/><rect x="33.5" width="1.55" height="15.55" fill="#fdeded"/><rect x="35" width="1.55" height="15.55" fill="#fad3d4"/><rect x="36.5" width="1.05" height="15.55" fill="#e9f5e7"/><rect x="37.5" width="1.05" height="15.55" fill="#e7f4e4"/><rect x="38.5" width="1.55" height="15.55" fill="#fad8d8"/><rect x="40" width="1.05" height="15.55" fill="#fce9e9"/><rect x="41" width="2.05" height="15.55" fill="#f3f9f1"/><rect x="43" width="1.55" height="15.55" fill="#fdecec"/><rect x="44.5" width="1.05" height="15.55" fill="#fdf1f2"/><rect x="45.5" width="1.05" height="15.55" fill="#e8f4e5"/><rect x="46.5" width="1.05" height="15.55" fill="#fbdada"/><rect x="47.5" width="1.05" height="15.55" fill="#fad8d8"/><rect x="48.5" width="1.05" height="15.55" fill="#fef4f4"/><rect x="49.5" width="1.05" height="15.55" fill="#fce9ea"/><rect x="50.5" width="1.55" height="15.55" fill="#f9cfd0"/><rect x="52" width="2.05" height="15.55" fill="#fceaea"/><rect x="54" width="2.05" height="15.55" fill="#fbe0e0"/><rect x="56" width="1.05" height="15.55" fill="#f9cfcf"/><rect x="57" width="1.55" height="15.55" fill="#f9cdcd"/><rect x="58.5" width="1.05" height="15.55" fill="#fbdbdb"/><rect x="59.5" width="1.05" height="15.55" fill="#fce8e8"/><rect x="60.5" width="2.05" height="15.55" fill="#eaf5e7"/><rect x="62.5" width="2.05" height="15.55" fill="#fad7d7"/><rect x="64.5" width="1.55" height="15.55" fill="#ecf6e9"/><rect x="66" width="2.05" height="15.55" fill="#fdf0f1"/><rect x="68" width="1.05" height="15.55" fill="#f8c6c7"/><rect x="69" width="1.55" height="15.55" fill="#f5faf3"/><rect x="70.5" width="1.05" height="15.55" fill="#fbdada"/><rect x="71.5" width="1.55" height="15.55" fill="#d3eace"/><rect x="73" width="1.05" height="15.55" fill="#fbdada"/><rect x="74" width="1.05" height="15.55" fill="#f5faf3"/><rect x="75" width="1.05" height="15.55" fill="#fce4e4"/><rect x="76" width="1.05" height="15.55" fill="#fdeded"/><rect x="77" width="1.05" height="15.55" fill="#fdeaea"/><rect x="78" width="1.55" height="15.55" fill="#fbdcdc"/><rect x="79.5" width="1.05" height="15.55" fill="#fdf1f1"/><rect x="80.5" width="1.05" height="15.55" fill="#fad4d5"/><rect x="81.5" width="1.05" height="15.55" fill="#fce5e5"/><rect x="82.5" width="1.05" height="15.55" fill="#ddefd9"/><rect x="83.5" width="1.55" height="15.55" fill="#e5f2e1"/><rect x="85" width="1.05" height="15.55" fill="#fdedee"/><rect x="86" width="1.55" height="15.55" fill="#f4faf2"/><rect x="87.5" width="1.05" height="15.55" fill="#fbdfdf"/><rect x="88.5" width="2.05" height="15.55" fill="#f0f8ef"/><rect x="90.5" width="1.05" height="15.55" fill="#fad7d7"/><rect x="91.5" width="1.05" height="15.55" fill="#fbdddd"/><rect x="92.5" width="1.05" height="15.55" fill="#fef3f4"/><rect x="93.5" width="2.05" height="15.55" fill="#fdebeb"/><rect x="95.5" width="1.05" height="15.55" fill="#f4faf2"/><rect x="96.5" width="1.05" height="15.55" fill="#fdf0f0"/><rect x="97.5" width="2.05" height="15.55" fill="#f5faf4"/><rect x="99.5" width="1.05" height="15.55" fill="#deefda"/><rect x="100.5" width="1.05" height="15.55" fill="#fbdcdc"/><rect x="101.5" width="1.55" height="15.55" fill="#dbeed6"/><rect x="103" width="1.05" height="15.55" fill="#f5faf3"/><rect x="104" width="2.05" height="15.55" fill="#f2f9f1"/><rect x="106" width="1.05" height="15.55" fill="#f9d0d1"/><rect x="107" width="1.05" height="15.55" fill="#dceed7"/><rect x="108" width="1.05" height="15.55" fill="#fad8d8"/><rect x="109" width="1.55" height="15.55" fill="#fdefef"/><rect x="110.5" width="1.05" height="15.55" fill="#f4faf2"/><rect x="111.5" width="1.05" height="15.55" fill="#fbddde"/><rect x="112.5" width="1.05" height="15.55" fill="#fef3f3"/><rect x="113.5" width="1.55" height="15.55" fill="#fce5e5"/><rect x="115" width="1.05" height="15.55" fill="#fdf1f1"/><rect x="116" width="1.05" height="15.55" fill="#f2f9f0"/><rect x="117" width="1.05" height="15.55" fill="#eff8ed"/><rect x="118" width="1.05" height="15.55" fill="#fce4e4"/><rect x="119" width="1.05" height="15.55" fill="#e6f3e3"/><rect x="120" width="1.05" height="15.55" fill="#fbdcdc"/><rect x="121" width="1.05" height="15.55" fill="#fbe0e0"/><rect x="122" width="2.05" height="15.55" fill="#ebf6e9"/><rect x="124" width="1.05" height="15.55" fill="#e5f2e1"/><rect x="125" width="1.05" height="15.55" fill="#e2f1de"/><rect x="126" width="1.05" height="15.55" fill="#e5f3e1"/><rect x="127" width="1.05" height="15.55" fill="#e4f2e1"/><rect x="128" width="1.05" height="15.55" fill="#e3f2e0"/><rect x="129" width="1.05" height="15.55" fill="#f6fbf4"/><rect x="130" width="2.05" height="15.55" fill="#ebf5e8"/><rect x="132" width="1.05" height="15.55" fill="#edf6eb"/><rect x="133" width="1.05" height="15.55" fill="#e1f1de"/><rect x="134" width="1.05" height="15.55" fill="#d6ecd1"/><rect x="135" width="1.55" height="15.55" fill="#fceaea"/><rect x="136.5" width="2.05" height="15.55" fill="#e3f2df"/><rect x="138.5" width="1.05" height="15.55" fill="#eef7eb"/><rect x="139.5" width="2.05" height="15.55" fill="#fbe0e0"/><rect x="141.5" width="1.05" height="15.55" fill="#e3f1df"/><rect x="142.5" width="1.05" height="15.55" fill="#f2f9f0"/><rect x="143.5" width="1.05" height="15.55" fill="#ecf6ea"/><rect x="144.5" width="1.05" height="15.55" fill="#ecf6ea"/><rect x="145.5" width="1.05" height="15.55" fill="#fbe0e0"/><rect x="146.5" width="1.05" height="15.55" fill="#f2f9f1"/><rect x="147.5" width="1.05" height="15.55" fill="#e5f3e2"/><rect x="148.5" width="1.05" height="15.55" fill="#fdeced"/><rect x="149.5" width="1.05" height="15.55" fill="#f4faf2"/><rect x="150.5" width="1.05" height="15.55" fill="#edf6eb"/><rect x="151.5" width="2.05" height="15.55" fill="#fbe1e1"/><rect x="153.5" width="1.05" height="15.55" fill="#cee8c8"/><rect x="154.5" width="1.05" height="15.55" fill="#e2f1de"/><rect x="155.5" width="1.05" height="15.55" fill="#e7f3e4"/><rect x="156.5" width="1.05" height="15.55" fill="#f0f8ee"/><rect x="157.5" width="1.05" height="15.55" fill="#fdecec"/><rect x="158.5" width="1.05" height="15.55" fill="#d7ecd1"/><rect x="159.5" width="2.05" height="15.55" fill="#d5ebd0"/><rect x="161.5" width="1.55" height="15.55" fill="#fdecec"/><rect x="163" width="1.05" height="15.55" fill="#fad3d3"/><rect x="164" width="1.05" height="15.55" fill="#fdecec"/><rect x="165" width="1.55" height="15.55" fill="#fdefef"/><rect x="166.5" width="1.05" height="15.55" fill="#daedd5"/><rect x="167.5" width="2.05" height="15.55" fill="#e7f4e4"/><rect x="169.5" width="1.05" height="15.55" fill="#eaf5e8"/><rect x="170.5" width="1.05" height="15.55" fill="#e1f1de"/><rect x="171.5" width="2.05" height="15.55" fill="#e1f1dd"/><rect x="173.5" width="1.05" height="15.55" fill="#ecf6ea"/><rect x="174.5" width="1.05" height="15.55" fill="#eff8ee"/><rect x="175.5" width="1.05" height="15.55" fill="#edf7eb"/><rect x="176.5" width="1.05" height="15.55" fill="#eef7eb"/><rect x="177.5" width="1.05" height="15.55" fill="#e3f2df"/><rect x="178.5" width="1.05" height="15.55" fill="#f0f8ee"/><rect x="179.5" width="1.05" height="15.55" fill="#e7f4e4"/><rect x="180.5" width="1.55" height="15.55" fill="#dbeed6"/><rect x="182" width="1.05" height="15.55" fill="#f4faf3"/><rect x="183" width="1.05" height="15.55" fill="#fdf2f2"/><rect x="184" width="1.05" height="15.55" fill="#daeed6"/><rect x="185" width="1.05" height="15.55" fill="#f0f8ee"/><rect x="186" width="1.05" height="15.55" fill="#dbeed6"/><rect x="187" width="1.55" height="15.55" fill="#fdf0f0"/><rect x="188.5" width="2.05" height="15.55" fill="#e1f1dd"/><rect x="190.5" width="1.55" height="15.55" fill="#fce3e4"/><rect x="192" width="1.05" height="15.55" fill="#e0f0dc"/><rect x="193" width="1.05" height="15.55" fill="#d9edd4"/></g>
<g transform="translate(0,219.9)" class="hr"><rect x="29" width="1.05" height="15.55" fill="#f8c7c8"/><rect x="30" width="1.55" height="15.55" fill="#fbdfdf"/><rect x="31.5" width="1.05" height="15.55" fill="#fad4d4"/><rect x="32.5" width="1.05" height="15.55" fill="#f7c0c0"/><rect x="33.5" width="1.55" height="15.55" fill="#f9cfcf"/><rect x="35" width="1.55" height="15.55" fill="#f5acad"/><rect x="36.5" width="1.05" height="15.55" fill="#f9d0d0"/><rect x="37.5" width="1.05" height="15.55" fill="#f8c3c3"/><rect x="38.5" width="1.55" height="15.55" fill="#fad7d7"/><rect x="40" width="1.05" height="15.55" fill="#f7c0c1"/><rect x="41" width="2.05" height="15.55" fill="#fbdcdc"/><rect x="43" width="1.55" height="15.55" fill="#fad5d6"/><rect x="44.5" width="1.05" height="15.55" fill="#f7bbbb"/><rect x="45.5" width="1.05" height="15.55" fill="#f7c0c1"/><rect x="46.5" width="1.05" height="15.55" fill="#fad2d2"/><rect x="47.5" width="1.05" height="15.55" fill="#fad8d9"/><rect x="48.5" width="1.05" height="15.55" fill="#f6b0b1"/><rect x="49.5" width="1.05" height="15.55" fill="#f8c6c7"/><rect x="50.5" width="1.55" height="15.55" fill="#fbdada"/><rect x="52" width="2.05" height="15.55" fill="#f8c7c8"/><rect x="54" width="2.05" height="15.55" fill="#f39a9b"/><rect x="56" width="1.05" height="15.55" fill="#fad5d5"/><rect x="57" width="1.55" height="15.55" fill="#f7bfc0"/><rect x="58.5" width="1.05" height="15.55" fill="#fce3e3"/><rect x="59.5" width="1.05" height="15.55" fill="#f7baba"/><rect x="60.5" width="2.05" height="15.55" fill="#f8c4c5"/><rect x="62.5" width="2.05" height="15.55" fill="#f8c2c2"/><rect x="64.5" width="1.55" height="15.55" fill="#f39798"/><rect x="66" width="2.05" height="15.55" fill="#f8c2c3"/><rect x="68" width="1.05" height="15.55" fill="#f7bfc0"/><rect x="69" width="1.55" height="15.55" fill="#f8c1c1"/><rect x="70.5" width="1.05" height="15.55" fill="#f6b7b8"/><rect x="71.5" width="1.55" height="15.55" fill="#f9cfd0"/><rect x="73" width="1.05" height="15.55" fill="#f5adae"/><rect x="74" width="1.05" height="15.55" fill="#f39999"/><rect x="75" width="1.05" height="15.55" fill="#f8c1c2"/><rect x="76" width="1.05" height="15.55" fill="#f7bfbf"/><rect x="77" width="1.05" height="15.55" fill="#f9cdcd"/><rect x="78" width="1.55" height="15.55" fill="#f6b7b8"/><rect x="79.5" width="1.05" height="15.55" fill="#f7bbbc"/><rect x="80.5" width="1.05" height="15.55" fill="#f7bfc0"/><rect x="81.5" width="1.05" height="15.55" fill="#f7c0c0"/><rect x="82.5" width="1.05" height="15.55" fill="#fbe0e0"/><rect x="83.5" width="1.55" height="15.55" fill="#fad2d2"/><rect x="85" width="1.05" height="15.55" fill="#fad6d7"/><rect x="86" width="1.55" height="15.55" fill="#f9cecf"/><rect x="87.5" width="1.05" height="15.55" fill="#fce4e5"/><rect x="88.5" width="2.05" height="15.55" fill="#fad9d9"/><rect x="90.5" width="1.05" height="15.55" fill="#f9cccc"/><rect x="91.5" width="1.05" height="15.55" fill="#fbdbdb"/><rect x="92.5" width="1.05" height="15.55" fill="#fce7e8"/><rect x="93.5" width="2.05" height="15.55" fill="#f8c5c5"/><rect x="95.5" width="1.05" height="15.55" fill="#fad6d7"/><rect x="96.5" width="1.05" height="15.55" fill="#fad4d4"/><rect x="97.5" width="2.05" height="15.55" fill="#fbdada"/><rect x="99.5" width="1.05" height="15.55" fill="#f5faf4"/><rect x="100.5" width="1.05" height="15.55" fill="#f9d1d1"/><rect x="101.5" width="1.55" height="15.55" fill="#fad9da"/><rect x="103" width="1.05" height="15.55" fill="#fdf2f3"/><rect x="104" width="2.05" height="15.55" fill="#f2f9f0"/><rect x="106" width="1.05" height="15.55" fill="#fad3d4"/><rect x="107" width="1.05" height="15.55" fill="#fbdadb"/><rect x="108" width="1.05" height="15.55" fill="#fdecec"/><rect x="109" width="1.55" height="15.55" fill="#f9d1d1"/><rect x="110.5" width="1.05" height="15.55" fill="#f9cfcf"/><rect x="111.5" width="1.05" height="15.55" fill="#fdeeee"/><rect x="112.5" width="1.05" height="15.55" fill="#fef3f3"/><rect x="113.5" width="1.55" height="15.55" fill="#fbdfdf"/><rect x="115" width="1.05" height="15.55" fill="#f4faf2"/><rect x="116" width="1.05" height="15.55" fill="#fbdddd"/><rect x="117" width="1.05" height="15.55" fill="#eef7ec"/><rect x="118" width="1.05" height="15.55" fill="#fce5e5"/><rect x="119" width="1.05" height="15.55" fill="#fbdada"/><rect x="120" width="1.05" height="15.55" fill="#fce7e7"/><rect x="121" width="1.05" height="15.55" fill="#fdeff0"/><rect x="122" width="2.05" height="15.55" fill="#fdeaeb"/><rect x="124" width="1.05" height="15.55" fill="#ebf6e9"/><rect x="125" width="1.05" height="15.55" fill="#f6fbf5"/><rect x="126" width="1.05" height="15.55" fill="#fce4e5"/><rect x="127" width="1.05" height="15.55" fill="#f9cfd0"/><rect x="128" width="1.05" height="15.55" fill="#e5f3e2"/><rect x="129" width="1.05" height="15.55" fill="#fce8e8"/><rect x="130" width="2.05" height="15.55" fill="#e1f1dd"/><rect x="132" width="1.05" height="15.55" fill="#e2f1de"/><rect x="133" width="1.05" height="15.55" fill="#d5ebd0"/><rect x="134" width="1.05" height="15.55" fill="#eaf5e7"/><rect x="135" width="1.55" height="15.55" fill="#ebf5e8"/><rect x="136.5" width="2.05" height="15.55" fill="#f4faf3"/><rect x="138.5" width="1.05" height="15.55" fill="#f1f8ef"/><rect x="139.5" width="2.05" height="15.55" fill="#dbeed7"/><rect x="141.5" width="1.05" height="15.55" fill="#fbdddd"/><rect x="142.5" width="1.05" height="15.55" fill="#fdf0f1"/><rect x="143.5" width="1.05" height="15.55" fill="#d8edd3"/><rect x="144.5" width="1.05" height="15.55" fill="#fdefef"/><rect x="145.5" width="1.05" height="15.55" fill="#fdf1f1"/><rect x="146.5" width="1.05" height="15.55" fill="#eaf5e7"/><rect x="147.5" width="1.05" height="15.55" fill="#c2e2bb"/><rect x="148.5" width="1.05" height="15.55" fill="#bde0b5"/><rect x="149.5" width="1.05" height="15.55" fill="#fef3f3"/><rect x="150.5" width="1.05" height="15.55" fill="#e0f0dc"/><rect x="151.5" width="2.05" height="15.55" fill="#fceaea"/><rect x="153.5" width="1.05" height="15.55" fill="#dbeed6"/><rect x="154.5" width="1.05" height="15.55" fill="#c8e5c1"/><rect x="155.5" width="1.05" height="15.55" fill="#e6f3e3"/><rect x="156.5" width="1.05" height="15.55" fill="#d6ecd1"/><rect x="157.5" width="1.05" height="15.55" fill="#dff0db"/><rect x="158.5" width="1.05" height="15.55" fill="#e2f1de"/><rect x="159.5" width="2.05" height="15.55" fill="#deefda"/><rect x="161.5" width="1.55" height="15.55" fill="#d3eace"/><rect x="163" width="1.05" height="15.55" fill="#d7ecd2"/><rect x="164" width="1.05" height="15.55" fill="#eaf5e8"/><rect x="165" width="1.55" height="15.55" fill="#d3eace"/><rect x="166.5" width="1.05" height="15.55" fill="#c9e5c2"/><rect x="167.5" width="2.05" height="15.55" fill="#e0f0dc"/><rect x="169.5" width="1.05" height="15.55" fill="#e2f1de"/><rect x="170.5" width="1.05" height="15.55" fill="#cae6c4"/><rect x="171.5" width="2.05" height="15.55" fill="#c6e4bf"/><rect x="173.5" width="1.05" height="15.55" fill="#e3f2e0"/><rect x="174.5" width="1.05" height="15.55" fill="#cfe8c9"/><rect x="175.5" width="1.05" height="15.55" fill="#c6e4bf"/><rect x="176.5" width="1.05" height="15.55" fill="#d3eacd"/><rect x="177.5" width="1.05" height="15.55" fill="#cae6c3"/><rect x="178.5" width="1.05" height="15.55" fill="#cde7c7"/><rect x="179.5" width="1.05" height="15.55" fill="#d9edd4"/><rect x="180.5" width="1.55" height="15.55" fill="#c3e3bc"/><rect x="182" width="1.05" height="15.55" fill="#cfe8c9"/><rect x="183" width="1.05" height="15.55" fill="#c4e3bd"/><rect x="184" width="1.05" height="15.55" fill="#deefda"/><rect x="185" width="1.05" height="15.55" fill="#c5e3bd"/><rect x="186" width="1.05" height="15.55" fill="#e2f1de"/><rect x="187" width="1.55" height="15.55" fill="#cce7c5"/><rect x="188.5" width="2.05" height="15.55" fill="#bbdfb2"/><rect x="190.5" width="1.55" height="15.55" fill="#d3eacd"/><rect x="192" width="1.05" height="15.55" fill="#bfe1b7"/><rect x="193" width="1.05" height="15.55" fill="#bee0b6"/></g>
<g transform="translate(0,235.4)" class="hr"><rect x="29" width="1.05" height="15.55" fill="#fbdbdb"/><rect x="30" width="1.55" height="15.55" fill="#fbe0e0"/><rect x="31.5" width="1.05" height="15.55" fill="#f8c6c7"/><rect x="32.5" width="1.05" height="15.55" fill="#f7c0c0"/><rect x="33.5" width="1.55" height="15.55" fill="#f8c3c4"/><rect x="35" width="1.55" height="15.55" fill="#fad4d5"/><rect x="36.5" width="1.05" height="15.55" fill="#fce4e4"/><rect x="37.5" width="1.05" height="15.55" fill="#f6b3b4"/><rect x="38.5" width="1.55" height="15.55" fill="#f5a9aa"/><rect x="40" width="1.05" height="15.55" fill="#f6b4b5"/><rect x="41" width="2.05" height="15.55" fill="#f7bcbd"/><rect x="43" width="1.55" height="15.55" fill="#fce7e7"/><rect x="44.5" width="1.05" height="15.55" fill="#fad5d5"/><rect x="45.5" width="1.05" height="15.55" fill="#fdf1f1"/><rect x="46.5" width="1.05" height="15.55" fill="#fce3e3"/><rect x="47.5" width="1.05" height="15.55" fill="#fdeded"/><rect x="48.5" width="1.05" height="15.55" fill="#f5aeaf"/><rect x="49.5" width="1.05" height="15.55" fill="#f7bebe"/><rect x="50.5" width="1.55" height="15.55" fill="#fce7e8"/><rect x="52" width="2.05" height="15.55" fill="#f7bbbb"/><rect x="54" width="2.05" height="15.55" fill="#f9cfcf"/><rect x="56" width="1.05" height="15.55" fill="#fad2d2"/><rect x="57" width="1.55" height="15.55" fill="#f8c8c9"/><rect x="58.5" width="1.05" height="15.55" fill="#fad6d6"/><rect x="59.5" width="1.05" height="15.55" fill="#f8c4c5"/><rect x="60.5" width="2.05" height="15.55" fill="#f7c0c0"/><rect x="62.5" width="2.05" height="15.55" fill="#f6b5b6"/><rect x="64.5" width="1.55" height="15.55" fill="#fdf0f1"/><rect x="66" width="2.05" height="15.55" fill="#fbdcdd"/><rect x="68" width="1.05" height="15.55" fill="#f7b9ba"/><rect x="69" width="1.55" height="15.55" fill="#fce4e5"/><rect x="70.5" width="1.05" height="15.55" fill="#f8c5c6"/><rect x="71.5" width="1.55" height="15.55" fill="#fbdcdd"/><rect x="73" width="1.05" height="15.55" fill="#fce7e7"/><rect x="74" width="1.05" height="15.55" fill="#f9d1d1"/><rect x="75" width="1.05" height="15.55" fill="#fdeeee"/><rect x="76" width="1.05" height="15.55" fill="#fad7d8"/><rect x="77" width="1.05" height="15.55" fill="#f9cecf"/><rect x="78" width="1.55" height="15.55" fill="#fbdada"/><rect x="79.5" width="1.05" height="15.55" fill="#f6b4b5"/><rect x="80.5" width="1.05" height="15.55" fill="#f8c7c7"/><rect x="81.5" width="1.05" height="15.55" fill="#f6b0b1"/><rect x="82.5" width="1.05" height="15.55" fill="#f6b3b3"/><rect x="83.5" width="1.55" height="15.55" fill="#f7bfc0"/><rect x="85" width="1.05" height="15.55" fill="#f4faf3"/><rect x="86" width="1.55" height="15.55" fill="#fce7e7"/><rect x="87.5" width="1.05" height="15.55" fill="#f1f8ef"/><rect x="88.5" width="2.05" height="15.55" fill="#f8c6c6"/><rect x="90.5" width="1.05" height="15.55" fill="#f9d0d0"/><rect x="91.5" width="1.05" height="15.55" fill="#fce7e8"/><rect x="92.5" width="1.05" height="15.55" fill="#f9caca"/><rect x="93.5" width="2.05" height="15.55" fill="#fdeded"/><rect x="95.5" width="1.05" height="15.55" fill="#f9d1d1"/><rect x="96.5" width="1.05" height="15.55" fill="#e6f3e2"/><rect x="97.5" width="2.05" height="15.55" fill="#fdeded"/><rect x="99.5" width="1.05" height="15.55" fill="#fbe1e2"/><rect x="100.5" width="1.05" height="15.55" fill="#f9cdcd"/><rect x="101.5" width="1.55" height="15.55" fill="#f6b1b1"/><rect x="103" width="1.05" height="15.55" fill="#fce4e4"/><rect x="104" width="2.05" height="15.55" fill="#fbdcdc"/><rect x="106" width="1.05" height="15.55" fill="#fce3e3"/><rect x="107" width="1.05" height="15.55" fill="#fdeded"/><rect x="108" width="1.05" height="15.55" fill="#f0f8ef"/><rect x="109" width="1.55" height="15.55" fill="#fad3d3"/><rect x="110.5" width="1.05" height="15.55" fill="#fbdcdd"/><rect x="111.5" width="1.05" height="15.55" fill="#f9cdcd"/><rect x="112.5" width="1.05" height="15.55" fill="#fceaea"/><rect x="113.5" width="1.55" height="15.55" fill="#fce2e3"/><rect x="115" width="1.05" height="15.55" fill="#fad7d7"/><rect x="116" width="1.05" height="15.55" fill="#fef3f3"/><rect x="117" width="1.05" height="15.55" fill="#f3faf2"/><rect x="118" width="1.05" height="15.55" fill="#fdeeee"/><rect x="119" width="1.05" height="15.55" fill="#fbe2e2"/><rect x="120" width="1.05" height="15.55" fill="#fdf1f1"/><rect x="121" width="1.05" height="15.55" fill="#fce3e3"/><rect x="122" width="2.05" height="15.55" fill="#fce5e6"/><rect x="124" width="1.05" height="15.55" fill="#fdf2f2"/><rect x="125" width="1.05" height="15.55" fill="#e7f3e4"/><rect x="126" width="1.05" height="15.55" fill="#fce3e4"/><rect x="127" width="1.05" height="15.55" fill="#f5faf4"/><rect x="128" width="1.05" height="15.55" fill="#fdeeee"/><rect x="129" width="1.05" height="15.55" fill="#fdf1f1"/><rect x="130" width="2.05" height="15.55" fill="#ecf6e9"/><rect x="132" width="1.05" height="15.55" fill="#e0f0dc"/><rect x="133" width="1.05" height="15.55" fill="#fdf2f2"/><rect x="134" width="1.05" height="15.55" fill="#eaf5e7"/><rect x="135" width="1.55" height="15.55" fill="#fdf0f0"/><rect x="136.5" width="2.05" height="15.55" fill="#f1f8ef"/><rect x="138.5" width="1.05" height="15.55" fill="#daeed6"/><rect x="139.5" width="2.05" height="15.55" fill="#ebf6e9"/><rect x="141.5" width="1.05" height="15.55" fill="#f4faf2"/><rect x="142.5" width="1.05" height="15.55" fill="#e0f0dc"/><rect x="143.5" width="1.05" height="15.55" fill="#f2f9f1"/><rect x="144.5" width="1.05" height="15.55" fill="#e3f2df"/><rect x="145.5" width="1.05" height="15.55" fill="#edf7eb"/><rect x="146.5" width="1.05" height="15.55" fill="#dbeed7"/><rect x="147.5" width="1.05" height="15.55" fill="#fdeaeb"/><rect x="148.5" width="1.05" height="15.55" fill="#d5ebcf"/><rect x="149.5" width="1.05" height="15.55" fill="#dbeed7"/><rect x="150.5" width="1.05" height="15.55" fill="#fdf1f1"/><rect x="151.5" width="2.05" height="15.55" fill="#e9f5e7"/><rect x="153.5" width="1.05" height="15.55" fill="#eef7ec"/><rect x="154.5" width="1.05" height="15.55" fill="#e4f2e0"/><rect x="155.5" width="1.05" height="15.55" fill="#fbdede"/><rect x="156.5" width="1.05" height="15.55" fill="#dff0db"/><rect x="157.5" width="1.05" height="15.55" fill="#f6faf4"/><rect x="158.5" width="1.05" height="15.55" fill="#fdf1f1"/><rect x="159.5" width="2.05" height="15.55" fill="#f5faf4"/><rect x="161.5" width="1.55" height="15.55" fill="#fef3f3"/><rect x="163" width="1.05" height="15.55" fill="#f6fbf5"/><rect x="164" width="1.05" height="15.55" fill="#e2f1de"/><rect x="165" width="1.55" height="15.55" fill="#e2f1de"/><rect x="166.5" width="1.05" height="15.55" fill="#fbdddd"/><rect x="167.5" width="2.05" height="15.55" fill="#e4f2e1"/><rect x="169.5" width="1.05" height="15.55" fill="#eaf5e8"/><rect x="170.5" width="1.05" height="15.55" fill="#f3f9f1"/><rect x="171.5" width="2.05" height="15.55" fill="#f2f9f1"/><rect x="173.5" width="1.05" height="15.55" fill="#e7f4e4"/><rect x="174.5" width="1.05" height="15.55" fill="#d5ebcf"/><rect x="175.5" width="1.05" height="15.55" fill="#e7f4e4"/><rect x="176.5" width="1.05" height="15.55" fill="#ebf6e9"/><rect x="177.5" width="1.05" height="15.55" fill="#f5faf3"/><rect x="178.5" width="1.05" height="15.55" fill="#deefda"/><rect x="179.5" width="1.05" height="15.55" fill="#dbeed6"/><rect x="180.5" width="1.55" height="15.55" fill="#e1f1dd"/><rect x="182" width="1.05" height="15.55" fill="#d3eacd"/><rect x="183" width="1.05" height="15.55" fill="#eaf5e8"/><rect x="184" width="1.05" height="15.55" fill="#f2f9f0"/><rect x="185" width="1.05" height="15.55" fill="#f8c2c2"/><rect x="186" width="1.05" height="15.55" fill="#e4f2e1"/><rect x="187" width="1.55" height="15.55" fill="#e9f5e7"/><rect x="188.5" width="2.05" height="15.55" fill="#e8f4e5"/><rect x="190.5" width="1.55" height="15.55" fill="#e4f2e1"/><rect x="192" width="1.05" height="15.55" fill="#f1f8ef"/><rect x="193" width="1.05" height="15.55" fill="#e1f1de"/></g>
<g class="ns">
<text transform="translate(195.6,136.01) scale(1,1.08)" font-size="3.6" fill="#666">FGFR1</text>
<text transform="translate(195.6,151.51) scale(1,1.08)" font-size="3.6" fill="#666">CFP</text>
<text transform="translate(195.6,167.01) scale(1,1.08)" font-size="3.6" fill="#666">S100P</text>
<text transform="translate(195.6,182.51) scale(1,1.08)" font-size="3.6" fill="#666">VTN</text>
<text transform="translate(195.6,198.01) scale(1,1.08)" font-size="3.6" fill="#666">NR2C1</text>
<text transform="translate(195.6,213.51) scale(1,1.08)" font-size="3.6" fill="#666">FLT3</text>
<text transform="translate(195.6,229.01) scale(1,1.08)" font-size="3.6" fill="#666">SEMA4G</text>
<text transform="translate(195.6,244.51) scale(1,1.08)" font-size="3.6" fill="#666">CHGB</text>
</g>
<text transform="translate(195.2,125.26) scale(1,1.08)" font-size="3.6" font-weight="bold" fill="#333">type</text>
<rect x="275" y="123.3" width="70" height="3" fill="#f0776c"/>
<rect x="345" y="123.3" width="95" height="3" fill="#22b7c2"/>
<g transform="translate(0,127.4)" class="hr"><rect x="275" width="2.55" height="15.55" fill="#fdecec"/><rect x="277.5" width="2.05" height="15.55" fill="#f9cfcf"/><rect x="279.5" width="2.05" height="15.55" fill="#fbdbdb"/><rect x="281.5" width="2.05" height="15.55" fill="#fdebec"/><rect x="283.5" width="2.55" height="15.55" fill="#fbdadb"/><rect x="286" width="1.55" height="15.55" fill="#f39fa0"/><rect x="287.5" width="2.05" height="15.55" fill="#fce4e4"/><rect x="289.5" width="2.55" height="15.55" fill="#f5faf3"/><rect x="292" width="2.05" height="15.55" fill="#fce9e9"/><rect x="294" width="2.55" height="15.55" fill="#fbdede"/><rect x="296.5" width="2.05" height="15.55" fill="#f9cccd"/><rect x="298.5" width="1.55" height="15.55" fill="#f7bfc0"/><rect x="300" width="2.05" height="15.55" fill="#fdecec"/><rect x="302" width="2.55" height="15.55" fill="#fbdfdf"/><rect x="304.5" width="2.05" height="15.55" fill="#eef7ec"/><rect x="306.5" width="2.05" height="15.55" fill="#fce9e9"/><rect x="308.5" width="2.05" height="15.55" fill="#fdecec"/><rect x="310.5" width="2.05" height="15.55" fill="#fbdbdc"/><rect x="312.5" width="1.55" height="15.55" fill="#e3f2df"/><rect x="314" width="2.05" height="15.55" fill="#fdeeee"/><rect x="316" width="1.55" height="15.55" fill="#fdefef"/><rect x="317.5" width="2.05" height="15.55" fill="#fbdadb"/><rect x="319.5" width="2.55" height="15.55" fill="#f9cccc"/><rect x="322" width="1.55" height="15.55" fill="#f9c9ca"/><rect x="323.5" width="1.55" height="15.55" fill="#d0e9ca"/><rect x="325" width="1.55" height="15.55" fill="#fad3d4"/><rect x="326.5" width="2.05" height="15.55" fill="#f7babb"/><rect x="328.5" width="1.55" height="15.55" fill="#e7f4e4"/><rect x="330" width="2.55" height="15.55" fill="#dcefd8"/><rect x="332.5" width="2.55" height="15.55" fill="#e8f4e5"/><rect x="335" width="1.55" height="15.55" fill="#f2f9f1"/><rect x="336.5" width="2.55" height="15.55" fill="#fbdbdc"/><rect x="339" width="2.05" height="15.55" fill="#f9cacb"/><rect x="341" width="2.05" height="15.55" fill="#fce9ea"/><rect x="343" width="2.05" height="15.55" fill="#f8c6c7"/><rect x="345" width="1.55" height="15.55" fill="#e4f2e1"/><rect x="346.5" width="2.05" height="15.55" fill="#f5faf4"/><rect x="348.5" width="1.55" height="15.55" fill="#fce7e7"/><rect x="350" width="2.55" height="15.55" fill="#f9cfcf"/><rect x="352.5" width="2.55" height="15.55" fill="#f0f8ee"/><rect x="355" width="2.55" height="15.55" fill="#fbdbdb"/><rect x="357.5" width="2.55" height="15.55" fill="#fbdbdc"/><rect x="360" width="2.55" height="15.55" fill="#fdefef"/><rect x="362.5" width="1.55" height="15.55" fill="#fad9d9"/><rect x="364" width="1.55" height="15.55" fill="#fceaea"/><rect x="365.5" width="2.05" height="15.55" fill="#fce9e9"/><rect x="367.5" width="2.05" height="15.55" fill="#fdeeef"/><rect x="369.5" width="2.05" height="15.55" fill="#dff0db"/><rect x="371.5" width="2.05" height="15.55" fill="#fad8d8"/><rect x="373.5" width="2.55" height="15.55" fill="#fdeded"/><rect x="376" width="2.05" height="15.55" fill="#f0f8ee"/><rect x="378" width="1.55" height="15.55" fill="#eaf5e7"/><rect x="379.5" width="2.05" height="15.55" fill="#fdf0f0"/><rect x="381.5" width="2.05" height="15.55" fill="#fef3f4"/><rect x="383.5" width="2.05" height="15.55" fill="#fdecec"/><rect x="385.5" width="2.05" height="15.55" fill="#fbdddd"/><rect x="387.5" width="2.05" height="15.55" fill="#dceed7"/><rect x="389.5" width="2.05" height="15.55" fill="#f6fbf5"/><rect x="391.5" width="1.55" height="15.55" fill="#dceed7"/><rect x="393" width="2.55" height="15.55" fill="#e1f1dd"/><rect x="395.5" width="2.55" height="15.55" fill="#fbdbdb"/><rect x="398" width="1.55" height="15.55" fill="#dbeed7"/><rect x="399.5" width="1.55" height="15.55" fill="#fef4f4"/><rect x="401" width="2.05" height="15.55" fill="#e4f2e0"/><rect x="403" width="2.55" height="15.55" fill="#fbdada"/><rect x="405.5" width="1.55" height="15.55" fill="#f1f8ef"/><rect x="407" width="2.55" height="15.55" fill="#f2f9f1"/><rect x="409.5" width="2.05" height="15.55" fill="#e5f3e1"/><rect x="411.5" width="1.55" height="15.55" fill="#f0f8ef"/><rect x="413" width="2.05" height="15.55" fill="#fdecec"/><rect x="415" width="2.05" height="15.55" fill="#f3f9f2"/><rect x="417" width="1.55" height="15.55" fill="#fdf1f1"/><rect x="418.5" width="2.05" height="15.55" fill="#fbdcdd"/><rect x="420.5" width="1.55" height="15.55" fill="#e9f5e7"/><rect x="422" width="2.55" height="15.55" fill="#fce9e9"/><rect x="424.5" width="2.05" height="15.55" fill="#e9f5e6"/><rect x="426.5" width="2.55" height="15.55" fill="#fce9e9"/><rect x="429" width="2.05" height="15.55" fill="#deefda"/><rect x="431" width="1.55" height="15.55" fill="#e7f4e4"/><rect x="432.5" width="2.55" height="15.55" fill="#e8f4e5"/><rect x="435" width="2.05" height="15.55" fill="#e4f2e0"/><rect x="437" width="2.05" height="15.55" fill="#fdecec"/><rect x="439" width="1.05" height="15.55" fill="#f4faf3"/></g>
<g transform="translate(0,142.9)" class="hr"><rect x="275" width="2.55" height="15.55" fill="#f7b9b9"/><rect x="277.5" width="2.05" height="15.55" fill="#f4a2a2"/><rect x="279.5" width="2.05" height="15.55" fill="#f7bcbd"/><rect x="281.5" width="2.05" height="15.55" fill="#fbe1e2"/><rect x="283.5" width="2.55" height="15.55" fill="#f5afb0"/><rect x="286" width="1.55" height="15.55" fill="#f5afb0"/><rect x="287.5" width="2.05" height="15.55" fill="#fdebec"/><rect x="289.5" width="2.55" height="15.55" fill="#fad2d2"/><rect x="292" width="2.05" height="15.55" fill="#f9caca"/><rect x="294" width="2.55" height="15.55" fill="#f7bbbc"/><rect x="296.5" width="2.05" height="15.55" fill="#eff7ed"/><rect x="298.5" width="1.55" height="15.55" fill="#fad3d3"/><rect x="300" width="2.05" height="15.55" fill="#f9d0d0"/><rect x="302" width="2.55" height="15.55" fill="#fbdede"/><rect x="304.5" width="2.05" height="15.55" fill="#f6fbf5"/><rect x="306.5" width="2.05" height="15.55" fill="#fdf0f0"/><rect x="308.5" width="2.05" height="15.55" fill="#fad2d2"/><rect x="310.5" width="2.05" height="15.55" fill="#fce3e3"/><rect x="312.5" width="1.55" height="15.55" fill="#f8c3c3"/><rect x="314" width="2.05" height="15.55" fill="#fbdbdb"/><rect x="316" width="1.55" height="15.55" fill="#f4a0a1"/><rect x="317.5" width="2.05" height="15.55" fill="#fce7e7"/><rect x="319.5" width="2.55" height="15.55" fill="#e7f4e4"/><rect x="322" width="1.55" height="15.55" fill="#fdeded"/><rect x="323.5" width="1.55" height="15.55" fill="#f8c3c4"/><rect x="325" width="1.55" height="15.55" fill="#f9cfcf"/><rect x="326.5" width="2.05" height="15.55" fill="#f9cfcf"/><rect x="328.5" width="1.55" height="15.55" fill="#fad2d3"/><rect x="330" width="2.55" height="15.55" fill="#fad5d5"/><rect x="332.5" width="2.55" height="15.55" fill="#fce2e3"/><rect x="335" width="1.55" height="15.55" fill="#fef3f3"/><rect x="336.5" width="2.55" height="15.55" fill="#f3f9f1"/><rect x="339" width="2.05" height="15.55" fill="#e2f1de"/><rect x="341" width="2.05" height="15.55" fill="#fdebeb"/><rect x="343" width="2.05" height="15.55" fill="#fdefef"/><rect x="345" width="1.55" height="15.55" fill="#f9cdcd"/><rect x="346.5" width="2.05" height="15.55" fill="#e8f4e5"/><rect x="348.5" width="1.55" height="15.55" fill="#fceaea"/><rect x="350" width="2.55" height="15.55" fill="#fce3e3"/><rect x="352.5" width="2.55" height="15.55" fill="#fbe1e1"/><rect x="355" width="2.55" height="15.55" fill="#fef3f3"/><rect x="357.5" width="2.55" height="15.55" fill="#fce8e9"/><rect x="360" width="2.55" height="15.55" fill="#fce7e8"/><rect x="362.5" width="1.55" height="15.55" fill="#e6f3e3"/><rect x="364" width="1.55" height="15.55" fill="#fdeeee"/><rect x="365.5" width="2.05" height="15.55" fill="#dbeed7"/><rect x="367.5" width="2.05" height="15.55" fill="#e3f2df"/><rect x="369.5" width="2.05" height="15.55" fill="#dff0db"/><rect x="371.5" width="2.05" height="15.55" fill="#fad2d2"/><rect x="373.5" width="2.55" height="15.55" fill="#fce7e7"/><rect x="376" width="2.05" height="15.55" fill="#fdf2f2"/><rect x="378" width="1.55" height="15.55" fill="#fceaea"/><rect x="379.5" width="2.05" height="15.55" fill="#daeed6"/><rect x="381.5" width="2.05" height="15.55" fill="#d2eacd"/><rect x="383.5" width="2.05" height="15.55" fill="#f8c4c5"/><rect x="385.5" width="2.05" height="15.55" fill="#deefda"/><rect x="387.5" width="2.05" height="15.55" fill="#eff7ed"/><rect x="389.5" width="2.05" height="15.55" fill="#ebf6e9"/><rect x="391.5" width="1.55" height="15.55" fill="#fdecec"/><rect x="393" width="2.55" height="15.55" fill="#fad2d2"/><rect x="395.5" width="2.55" height="15.55" fill="#d7ecd2"/><rect x="398" width="1.55" height="15.55" fill="#d2e9cc"/><rect x="399.5" width="1.55" height="15.55" fill="#d1e9cc"/><rect x="401" width="2.05" height="15.55" fill="#d1e9cb"/><rect x="403" width="2.55" height="15.55" fill="#d3eace"/><rect x="405.5" width="1.55" height="15.55" fill="#f8c3c3"/><rect x="407" width="2.55" height="15.55" fill="#e8f4e5"/><rect x="409.5" width="2.05" height="15.55" fill="#e5f2e1"/><rect x="411.5" width="1.55" height="15.55" fill="#e1f1dd"/><rect x="413" width="2.05" height="15.55" fill="#fce6e6"/><rect x="415" width="2.05" height="15.55" fill="#e5f3e2"/><rect x="417" width="1.55" height="15.55" fill="#e0f0dc"/><rect x="418.5" width="2.05" height="15.55" fill="#fbdfdf"/><rect x="420.5" width="1.55" height="15.55" fill="#d6ebd0"/><rect x="422" width="2.55" height="15.55" fill="#d2eacd"/><rect x="424.5" width="2.05" height="15.55" fill="#fef3f3"/><rect x="426.5" width="2.55" height="15.55" fill="#dff0db"/><rect x="429" width="2.05" height="15.55" fill="#d3eace"/><rect x="431" width="1.55" height="15.55" fill="#e6f3e3"/><rect x="432.5" width="2.55" height="15.55" fill="#e4f2e0"/><rect x="435" width="2.05" height="15.55" fill="#fef3f3"/><rect x="437" width="2.05" height="15.55" fill="#d5ebcf"/><rect x="439" width="1.05" height="15.55" fill="#cce7c6"/></g>
<g transform="translate(0,158.4)" class="hr"><rect x="275" width="2.55" height="15.55" fill="#f4a5a6"/><rect x="277.5" width="2.05" height="15.55" fill="#f4a0a1"/><rect x="279.5" width="2.05" height="15.55" fill="#fad2d3"/><rect x="281.5" width="2.05" height="15.55" fill="#f08283"/><rect x="283.5" width="2.55" height="15.55" fill="#f39c9d"/><rect x="286" width="1.55" height="15.55" fill="#f7bdbd"/><rect x="287.5" width="2.05" height="15.55" fill="#f6b0b1"/><rect x="289.5" width="2.55" height="15.55" fill="#f4a7a8"/><rect x="292" width="2.05" height="15.55" fill="#f6b1b1"/><rect x="294" width="2.55" height="15.55" fill="#f4a1a2"/><rect x="296.5" width="2.05" height="15.55" fill="#f8c1c2"/><rect x="298.5" width="1.55" height="15.55" fill="#f39d9e"/><rect x="300" width="2.05" height="15.55" fill="#f4a6a7"/><rect x="302" width="2.55" height="15.55" fill="#f4a4a5"/><rect x="304.5" width="2.05" height="15.55" fill="#f39a9a"/><rect x="306.5" width="2.05" height="15.55" fill="#f7bfbf"/><rect x="308.5" width="2.05" height="15.55" fill="#f29495"/><rect x="310.5" width="2.05" height="15.55" fill="#f9caca"/><rect x="312.5" width="1.55" height="15.55" fill="#f6b8b9"/><rect x="314" width="2.05" height="15.55" fill="#f39c9d"/><rect x="316" width="1.55" height="15.55" fill="#f8c3c3"/><rect x="317.5" width="2.05" height="15.55" fill="#f8c3c3"/><rect x="319.5" width="2.55" height="15.55" fill="#f5adae"/><rect x="322" width="1.55" height="15.55" fill="#f9cece"/><rect x="323.5" width="1.55" height="15.55" fill="#f4a4a5"/><rect x="325" width="1.55" height="15.55" fill="#f5b0b0"/><rect x="326.5" width="2.05" height="15.55" fill="#f6b2b3"/><rect x="328.5" width="1.55" height="15.55" fill="#f0f8ee"/><rect x="330" width="2.55" height="15.55" fill="#f5abac"/><rect x="332.5" width="2.55" height="15.55" fill="#f8c7c8"/><rect x="335" width="1.55" height="15.55" fill="#f9d0d0"/><rect x="336.5" width="2.55" height="15.55" fill="#f8c7c7"/><rect x="339" width="2.05" height="15.55" fill="#fad9d9"/><rect x="341" width="2.05" height="15.55" fill="#f8c4c4"/><rect x="343" width="2.05" height="15.55" fill="#fbe1e1"/><rect x="345" width="1.55" height="15.55" fill="#f6b6b7"/><rect x="346.5" width="2.05" height="15.55" fill="#fdeded"/><rect x="348.5" width="1.55" height="15.55" fill="#fad7d7"/><rect x="350" width="2.55" height="15.55" fill="#f5afaf"/><rect x="352.5" width="2.55" height="15.55" fill="#fbddde"/><rect x="355" width="2.55" height="15.55" fill="#f9caca"/><rect x="357.5" width="2.55" height="15.55" fill="#f8c7c8"/><rect x="360" width="2.55" height="15.55" fill="#fbe1e1"/><rect x="362.5" width="1.55" height="15.55" fill="#d5ebd0"/><rect x="364" width="1.55" height="15.55" fill="#ddefd9"/><rect x="365.5" width="2.05" height="15.55" fill="#fce8e8"/><rect x="367.5" width="2.05" height="15.55" fill="#e6f3e3"/><rect x="369.5" width="2.05" height="15.55" fill="#d2eacc"/><rect x="371.5" width="2.05" height="15.55" fill="#e5f3e2"/><rect x="373.5" width="2.55" height="15.55" fill="#fbdfdf"/><rect x="376" width="2.05" height="15.55" fill="#fce7e7"/><rect x="378" width="1.55" height="15.55" fill="#eaf5e8"/><rect x="379.5" width="2.05" height="15.55" fill="#d4ebce"/><rect x="381.5" width="2.05" height="15.55" fill="#e5f3e2"/><rect x="383.5" width="2.05" height="15.55" fill="#cee8c8"/><rect x="385.5" width="2.05" height="15.55" fill="#dcefd8"/><rect x="387.5" width="2.05" height="15.55" fill="#d5ebd0"/><rect x="389.5" width="2.05" height="15.55" fill="#fce7e7"/><rect x="391.5" width="1.55" height="15.55" fill="#ecf6e9"/><rect x="393" width="2.55" height="15.55" fill="#e1f1de"/><rect x="395.5" width="2.55" height="15.55" fill="#d7ecd2"/><rect x="398" width="1.55" height="15.55" fill="#cde7c7"/><rect x="399.5" width="1.55" height="15.55" fill="#e1f1de"/><rect x="401" width="2.05" height="15.55" fill="#dbeed6"/><rect x="403" width="2.55" height="15.55" fill="#badeb1"/><rect x="405.5" width="1.55" height="15.55" fill="#9bd08f"/><rect x="407" width="2.55" height="15.55" fill="#dff0db"/><rect x="409.5" width="2.05" height="15.55" fill="#c8e5c1"/><rect x="411.5" width="1.55" height="15.55" fill="#e2f1de"/><rect x="413" width="2.05" height="15.55" fill="#bddfb4"/><rect x="415" width="2.05" height="15.55" fill="#cee8c7"/><rect x="417" width="1.55" height="15.55" fill="#d1e9cc"/><rect x="418.5" width="2.05" height="15.55" fill="#eaf5e7"/><rect x="420.5" width="1.55" height="15.55" fill="#b0daa6"/><rect x="422" width="2.55" height="15.55" fill="#aad79f"/><rect x="424.5" width="2.05" height="15.55" fill="#cce7c5"/><rect x="426.5" width="2.55" height="15.55" fill="#d3eacd"/><rect x="429" width="2.05" height="15.55" fill="#add8a3"/><rect x="431" width="1.55" height="15.55" fill="#afd9a4"/><rect x="432.5" width="2.55" height="15.55" fill="#c3e3bb"/><rect x="435" width="2.05" height="15.55" fill="#b5dcac"/><rect x="437" width="2.05" height="15.55" fill="#c2e2bb"/><rect x="439" width="1.05" height="15.55" fill="#d6ebd1"/></g>
<g transform="translate(0,173.9)" class="hr"><rect x="275" width="2.55" height="15.55" fill="#f8c2c2"/><rect x="277.5" width="2.05" height="15.55" fill="#f9cbcc"/><rect x="279.5" width="2.05" height="15.55" fill="#f6b7b7"/><rect x="281.5" width="2.05" height="15.55" fill="#fad4d4"/><rect x="283.5" width="2.55" height="15.55" fill="#fbdbdc"/><rect x="286" width="1.55" height="15.55" fill="#f6b8b9"/><rect x="287.5" width="2.05" height="15.55" fill="#f6b1b2"/><rect x="289.5" width="2.55" height="15.55" fill="#f7bfc0"/><rect x="292" width="2.05" height="15.55" fill="#f4a0a0"/><rect x="294" width="2.55" height="15.55" fill="#f7bfc0"/><rect x="296.5" width="2.05" height="15.55" fill="#f7bdbd"/><rect x="298.5" width="1.55" height="15.55" fill="#f9cfd0"/><rect x="300" width="2.05" height="15.55" fill="#fbe0e1"/><rect x="302" width="2.55" height="15.55" fill="#f4faf2"/><rect x="304.5" width="2.05" height="15.55" fill="#f8c6c6"/><rect x="306.5" width="2.05" height="15.55" fill="#fad7d8"/><rect x="308.5" width="2.05" height="15.55" fill="#f9cdce"/><rect x="310.5" width="2.05" height="15.55" fill="#f7bdbd"/><rect x="312.5" width="1.55" height="15.55" fill="#f8c3c3"/><rect x="314" width="2.05" height="15.55" fill="#f6b2b2"/><rect x="316" width="1.55" height="15.55" fill="#e6f3e3"/><rect x="317.5" width="2.05" height="15.55" fill="#fce4e5"/><rect x="319.5" width="2.55" height="15.55" fill="#fce7e7"/><rect x="322" width="1.55" height="15.55" fill="#f9cece"/><rect x="323.5" width="1.55" height="15.55" fill="#f9d0d0"/><rect x="325" width="1.55" height="15.55" fill="#fce4e4"/><rect x="326.5" width="2.05" height="15.55" fill="#f7bdbd"/><rect x="328.5" width="1.55" height="15.55" fill="#fad8d9"/><rect x="330" width="2.55" height="15.55" fill="#f4faf2"/><rect x="332.5" width="2.55" height="15.55" fill="#f9cccd"/><rect x="335" width="1.55" height="15.55" fill="#fad7d8"/><rect x="336.5" width="2.55" height="15.55" fill="#f8c4c4"/><rect x="339" width="2.05" height="15.55" fill="#eaf5e7"/><rect x="341" width="2.05" height="15.55" fill="#f8c4c4"/><rect x="343" width="2.05" height="15.55" fill="#fbdddd"/><rect x="345" width="1.55" height="15.55" fill="#fad9da"/><rect x="346.5" width="2.05" height="15.55" fill="#fbdede"/><rect x="348.5" width="1.55" height="15.55" fill="#f8c2c2"/><rect x="350" width="2.55" height="15.55" fill="#fce8e8"/><rect x="352.5" width="2.55" height="15.55" fill="#f5aeaf"/><rect x="355" width="2.55" height="15.55" fill="#fdf2f2"/><rect x="357.5" width="2.55" height="15.55" fill="#fdeeee"/><rect x="360" width="2.55" height="15.55" fill="#f9cccd"/><rect x="362.5" width="1.55" height="15.55" fill="#e3f2df"/><rect x="364" width="1.55" height="15.55" fill="#e1f1dd"/><rect x="365.5" width="2.05" height="15.55" fill="#dff0db"/><rect x="367.5" width="2.05" height="15.55" fill="#fdf0f0"/><rect x="369.5" width="2.05" height="15.55" fill="#fdebeb"/><rect x="371.5" width="2.05" height="15.55" fill="#cee8c8"/><rect x="373.5" width="2.55" height="15.55" fill="#fad2d2"/><rect x="376" width="2.05" height="15.55" fill="#fdebeb"/><rect x="378" width="1.55" height="15.55" fill="#fbddde"/><rect x="379.5" width="2.05" height="15.55" fill="#f8c5c5"/><rect x="381.5" width="2.05" height="15.55" fill="#c2e2bb"/><rect x="383.5" width="2.05" height="15.55" fill="#c9e5c2"/><rect x="385.5" width="2.05" height="15.55" fill="#dff0db"/><rect x="387.5" width="2.05" height="15.55" fill="#f4faf2"/><rect x="389.5" width="2.05" height="15.55" fill="#eef7ec"/><rect x="391.5" width="1.55" height="15.55" fill="#eef7ec"/><rect x="393" width="2.55" height="15.55" fill="#eaf5e8"/><rect x="395.5" width="2.55" height="15.55" fill="#e7f4e5"/><rect x="398" width="1.55" height="15.55" fill="#e1f1dd"/><rect x="399.5" width="1.55" height="15.55" fill="#f5faf4"/><rect x="401" width="2.05" height="15.55" fill="#e5f3e2"/><rect x="403" width="2.55" height="15.55" fill="#ebf6e9"/><rect x="405.5" width="1.55" height="15.55" fill="#dbeed6"/><rect x="407" width="2.55" height="15.55" fill="#b3dbaa"/><rect x="409.5" width="2.05" height="15.55" fill="#e4f2e1"/><rect x="411.5" width="1.55" height="15.55" fill="#ebf5e8"/><rect x="413" width="2.05" height="15.55" fill="#e0f0dc"/><rect x="415" width="2.05" height="15.55" fill="#d7ecd3"/><rect x="417" width="1.55" height="15.55" fill="#ebf5e8"/><rect x="418.5" width="2.05" height="15.55" fill="#e6f3e3"/><rect x="420.5" width="1.55" height="15.55" fill="#e5f3e2"/><rect x="422" width="2.55" height="15.55" fill="#e2f1df"/><rect x="424.5" width="2.05" height="15.55" fill="#d4ebcf"/><rect x="426.5" width="2.55" height="15.55" fill="#deefda"/><rect x="429" width="2.05" height="15.55" fill="#d2eacd"/><rect x="431" width="1.55" height="15.55" fill="#e0f1dd"/><rect x="432.5" width="2.55" height="15.55" fill="#e0f0dc"/><rect x="435" width="2.05" height="15.55" fill="#deefda"/><rect x="437" width="2.05" height="15.55" fill="#d6ecd1"/><rect x="439" width="1.05" height="15.55" fill="#bbdfb3"/></g>
<g transform="translate(0,189.4)" class="hr"><rect x="275" width="2.55" height="15.55" fill="#f9cccd"/><rect x="277.5" width="2.05" height="15.55" fill="#f8c4c5"/><rect x="279.5" width="2.05" height="15.55" fill="#fad5d5"/><rect x="281.5" width="2.05" height="15.55" fill="#fbdede"/><rect x="283.5" width="2.55" height="15.55" fill="#fad2d2"/><rect x="286" width="1.55" height="15.55" fill="#fbdadb"/><rect x="287.5" width="2.05" height="15.55" fill="#fad5d5"/><rect x="289.5" width="2.55" height="15.55" fill="#f4faf2"/><rect x="292" width="2.05" height="15.55" fill="#f9c9c9"/><rect x="294" width="2.55" height="15.55" fill="#fdf2f2"/><rect x="296.5" width="2.05" height="15.55" fill="#fdf0f0"/><rect x="298.5" width="1.55" height="15.55" fill="#fdf1f1"/><rect x="300" width="2.05" height="15.55" fill="#fdeded"/><rect x="302" width="2.55" height="15.55" fill="#f7bdbe"/><rect x="304.5" width="2.05" height="15.55" fill="#edf6ea"/><rect x="306.5" width="2.05" height="15.55" fill="#fce3e3"/><rect x="308.5" width="2.05" height="15.55" fill="#f9d0d1"/><rect x="310.5" width="2.05" height="15.55" fill="#f8c1c2"/><rect x="312.5" width="1.55" height="15.55" fill="#f9cccd"/><rect x="314" width="2.05" height="15.55" fill="#fdeeee"/><rect x="316" width="1.55" height="15.55" fill="#fef3f3"/><rect x="317.5" width="2.05" height="15.55" fill="#fad2d2"/><rect x="319.5" width="2.55" height="15.55" fill="#eaf5e8"/><rect x="322" width="1.55" height="15.55" fill="#f5aaab"/><rect x="323.5" width="1.55" height="15.55" fill="#f9cccd"/><rect x="325" width="1.55" height="15.55" fill="#eff7ed"/><rect x="326.5" width="2.05" height="15.55" fill="#e3f2e0"/><rect x="328.5" width="1.55" height="15.55" fill="#eaf5e7"/><rect x="330" width="2.55" height="15.55" fill="#f0f8ee"/><rect x="332.5" width="2.55" height="15.55" fill="#f6b4b5"/><rect x="335" width="1.55" height="15.55" fill="#fce9ea"/><rect x="336.5" width="2.55" height="15.55" fill="#fceaea"/><rect x="339" width="2.05" height="15.55" fill="#fdeeee"/><rect x="341" width="2.05" height="15.55" fill="#f9d0d1"/><rect x="343" width="2.05" height="15.55" fill="#f7b8b9"/><rect x="345" width="1.55" height="15.55" fill="#fbdcdc"/><rect x="346.5" width="2.05" height="15.55" fill="#f8c6c7"/><rect x="348.5" width="1.55" height="15.55" fill="#fdeeee"/><rect x="350" width="2.55" height="15.55" fill="#f9d0d0"/><rect x="352.5" width="2.55" height="15.55" fill="#fbdedf"/><rect x="355" width="2.55" height="15.55" fill="#fdebeb"/><rect x="357.5" width="2.55" height="15.55" fill="#f6b2b3"/><rect x="360" width="2.55" height="15.55" fill="#fbdcdd"/><rect x="362.5" width="1.55" height="15.55" fill="#f9d1d1"/><rect x="364" width="1.55" height="15.55" fill="#fad1d2"/><rect x="365.5" width="2.05" height="15.55" fill="#f8c7c8"/><rect x="367.5" width="2.05" height="15.55" fill="#fad7d8"/><rect x="369.5" width="2.05" height="15.55" fill="#fce8e8"/><rect x="371.5" width="2.05" height="15.55" fill="#f8c2c3"/><rect x="373.5" width="2.55" height="15.55" fill="#fad8d8"/><rect x="376" width="2.05" height="15.55" fill="#fce4e4"/><rect x="378" width="1.55" height="15.55" fill="#f0f8ee"/><rect x="379.5" width="2.05" height="15.55" fill="#eaf5e7"/><rect x="381.5" width="2.05" height="15.55" fill="#fdf0f0"/><rect x="383.5" width="2.05" height="15.55" fill="#f9cecf"/><rect x="385.5" width="2.05" height="15.55" fill="#f8c7c8"/><rect x="387.5" width="2.05" height="15.55" fill="#fbe1e1"/><rect x="389.5" width="2.05" height="15.55" fill="#f2f9f1"/><rect x="391.5" width="1.55" height="15.55" fill="#ebf5e8"/><rect x="393" width="2.55" height="15.55" fill="#f6b4b4"/><rect x="395.5" width="2.55" height="15.55" fill="#e6f3e3"/><rect x="398" width="1.55" height="15.55" fill="#fdebeb"/><rect x="399.5" width="1.55" height="15.55" fill="#f5b0b1"/><rect x="401" width="2.05" height="15.55" fill="#fce5e5"/><rect x="403" width="2.55" height="15.55" fill="#eff7ed"/><rect x="405.5" width="1.55" height="15.55" fill="#f3f9f1"/><rect x="407" width="2.55" height="15.55" fill="#fce9e9"/><rect x="409.5" width="2.05" height="15.55" fill="#f4faf2"/><rect x="411.5" width="1.55" height="15.55" fill="#fad8d8"/><rect x="413" width="2.05" height="15.55" fill="#eaf5e8"/><rect x="415" width="2.05" height="15.55" fill="#eef7ec"/><rect x="417" width="1.55" height="15.55" fill="#fad6d6"/><rect x="418.5" width="2.05" height="15.55" fill="#fad7d7"/><rect x="420.5" width="1.55" height="15.55" fill="#fbdbdc"/><rect x="422" width="2.55" height="15.55" fill="#dff0db"/><rect x="424.5" width="2.05" height="15.55" fill="#f9cece"/><rect x="426.5" width="2.55" height="15.55" fill="#fce8e8"/><rect x="429" width="2.05" height="15.55" fill="#e3f2df"/><rect x="431" width="1.55" height="15.55" fill="#f9d0d0"/><rect x="432.5" width="2.55" height="15.55" fill="#f9cccc"/><rect x="435" width="2.05" height="15.55" fill="#f2f9f0"/><rect x="437" width="2.05" height="15.55" fill="#cbe6c4"/><rect x="439" width="1.05" height="15.55" fill="#fce7e7"/></g>
<g transform="translate(0,204.9)" class="hr"><rect x="275" width="2.55" height="15.55" fill="#fdeded"/><rect x="277.5" width="2.05" height="15.55" fill="#d6ebd0"/><rect x="279.5" width="2.05" height="15.55" fill="#d9edd5"/><rect x="281.5" width="2.05" height="15.55" fill="#b8ddaf"/><rect x="283.5" width="2.55" height="15.55" fill="#c9e6c3"/><rect x="286" width="1.55" height="15.55" fill="#d4eace"/><rect x="287.5" width="2.05" height="15.55" fill="#c9e5c2"/><rect x="289.5" width="2.55" height="15.55" fill="#f5faf4"/><rect x="292" width="2.05" height="15.55" fill="#cfe8c9"/><rect x="294" width="2.55" height="15.55" fill="#eff7ed"/><rect x="296.5" width="2.05" height="15.55" fill="#cee8c8"/><rect x="298.5" width="1.55" height="15.55" fill="#d9edd4"/><rect x="300" width="2.05" height="15.55" fill="#fce3e3"/><rect x="302" width="2.55" height="15.55" fill="#fdf2f2"/><rect x="304.5" width="2.05" height="15.55" fill="#fce8e8"/><rect x="306.5" width="2.05" height="15.55" fill="#e2f1df"/><rect x="308.5" width="2.05" height="15.55" fill="#c1e1b9"/><rect x="310.5" width="2.05" height="15.55" fill="#eef7ec"/><rect x="312.5" width="1.55" height="15.55" fill="#e4f2e0"/><rect x="314" width="2.05" height="15.55" fill="#c8e5c1"/><rect x="316" width="1.55" height="15.55" fill="#bbdfb3"/><rect x="317.5" width="2.05" height="15.55" fill="#f2f9f1"/><rect x="319.5" width="2.55" height="15.55" fill="#f5faf4"/><rect x="322" width="1.55" height="15.55" fill="#d5ebd0"/><rect x="323.5" width="1.55" height="15.55" fill="#e7f4e4"/><rect x="325" width="1.55" height="15.55" fill="#d6ecd1"/><rect x="326.5" width="2.05" height="15.55" fill="#cfe8c9"/><rect x="328.5" width="1.55" height="15.55" fill="#fad2d3"/><rect x="330" width="2.55" height="15.55" fill="#ebf5e8"/><rect x="332.5" width="2.55" height="15.55" fill="#fdebeb"/><rect x="335" width="1.55" height="15.55" fill="#ecf6e9"/><rect x="336.5" width="2.55" height="15.55" fill="#bfe1b7"/><rect x="339" width="2.05" height="15.55" fill="#deefda"/><rect x="341" width="2.05" height="15.55" fill="#ddefd8"/><rect x="343" width="2.05" height="15.55" fill="#d0e9cb"/><rect x="345" width="1.55" height="15.55" fill="#e2f1de"/><rect x="346.5" width="2.05" height="15.55" fill="#eef7ec"/><rect x="348.5" width="1.55" height="15.55" fill="#e9f4e6"/><rect x="350" width="2.55" height="15.55" fill="#ebf6e9"/><rect x="352.5" width="2.55" height="15.55" fill="#fce5e5"/><rect x="355" width="2.55" height="15.55" fill="#d3eace"/><rect x="357.5" width="2.55" height="15.55" fill="#ecf6ea"/><rect x="360" width="2.55" height="15.55" fill="#e2f1de"/><rect x="362.5" width="1.55" height="15.55" fill="#fdeded"/><rect x="364" width="1.55" height="15.55" fill="#e6f3e3"/><rect x="365.5" width="2.05" height="15.55" fill="#d4ebcf"/><rect x="367.5" width="2.05" height="15.55" fill="#dff0db"/><rect x="369.5" width="2.05" height="15.55" fill="#e9f5e6"/><rect x="371.5" width="2.05" height="15.55" fill="#deefda"/><rect x="373.5" width="2.55" height="15.55" fill="#fce4e5"/><rect x="376" width="2.05" height="15.55" fill="#e3f2e0"/><rect x="378" width="1.55" height="15.55" fill="#fad6d6"/><rect x="379.5" width="2.05" height="15.55" fill="#e9f4e6"/><rect x="381.5" width="2.05" height="15.55" fill="#fad9d9"/><rect x="383.5" width="2.05" height="15.55" fill="#edf6ea"/><rect x="385.5" width="2.05" height="15.55" fill="#f5faf4"/><rect x="387.5" width="2.05" height="15.55" fill="#f9d0d0"/><rect x="389.5" width="2.05" height="15.55" fill="#f9cccd"/><rect x="391.5" width="1.55" height="15.55" fill="#f2f9f0"/><rect x="393" width="2.55" height="15.55" fill="#dff0db"/><rect x="395.5" width="2.55" height="15.55" fill="#e0f0dc"/><rect x="398" width="1.55" height="15.55" fill="#fdeded"/><rect x="399.5" width="1.55" height="15.55" fill="#fbdede"/><rect x="401" width="2.05" height="15.55" fill="#fdeded"/><rect x="403" width="2.55" height="15.55" fill="#fdeced"/><rect x="405.5" width="1.55" height="15.55" fill="#f8c6c7"/><rect x="407" width="2.55" height="15.55" fill="#ecf6ea"/><rect x="409.5" width="2.05" height="15.55" fill="#f18889"/><rect x="411.5" width="1.55" height="15.55" fill="#fbdcdc"/><rect x="413" width="2.05" height="15.55" fill="#f8c2c3"/><rect x="415" width="2.05" height="15.55" fill="#e6f3e3"/><rect x="417" width="1.55" height="15.55" fill="#fbdfdf"/><rect x="418.5" width="2.05" height="15.55" fill="#f2f9f1"/><rect x="420.5" width="1.55" height="15.55" fill="#f9c9ca"/><rect x="422" width="2.55" height="15.55" fill="#fbe0e1"/><rect x="424.5" width="2.05" height="15.55" fill="#fbdcdc"/><rect x="426.5" width="2.55" height="15.55" fill="#fad9da"/><rect x="429" width="2.05" height="15.55" fill="#eff8ed"/><rect x="431" width="1.55" height="15.55" fill="#f7bcbd"/><rect x="432.5" width="2.55" height="15.55" fill="#fbe0e0"/><rect x="435" width="2.05" height="15.55" fill="#fce5e5"/><rect x="437" width="2.05" height="15.55" fill="#fdf0f0"/><rect x="439" width="1.05" height="15.55" fill="#fdefef"/></g>
<g transform="translate(0,220.4)" class="hr"><rect x="275" width="2.55" height="15.55" fill="#d4eace"/><rect x="277.5" width="2.05" height="15.55" fill="#d7ecd2"/><rect x="279.5" width="2.05" height="15.55" fill="#dff0db"/><rect x="281.5" width="2.05" height="15.55" fill="#cee8c8"/><rect x="283.5" width="2.55" height="15.55" fill="#daeed6"/><rect x="286" width="1.55" height="15.55" fill="#f4faf3"/><rect x="287.5" width="2.05" height="15.55" fill="#d8edd3"/><rect x="289.5" width="2.55" height="15.55" fill="#cfe8c9"/><rect x="292" width="2.05" height="15.55" fill="#eaf5e7"/><rect x="294" width="2.55" height="15.55" fill="#daedd5"/><rect x="296.5" width="2.05" height="15.55" fill="#d9edd4"/><rect x="298.5" width="1.55" height="15.55" fill="#d4ebcf"/><rect x="300" width="2.05" height="15.55" fill="#d7ecd2"/><rect x="302" width="2.55" height="15.55" fill="#fef3f3"/><rect x="304.5" width="2.05" height="15.55" fill="#fce4e4"/><rect x="306.5" width="2.05" height="15.55" fill="#f0f8ee"/><rect x="308.5" width="2.05" height="15.55" fill="#e5f3e2"/><rect x="310.5" width="2.05" height="15.55" fill="#e3f2e0"/><rect x="312.5" width="1.55" height="15.55" fill="#e5f3e2"/><rect x="314" width="2.05" height="15.55" fill="#f0f8ee"/><rect x="316" width="1.55" height="15.55" fill="#eff8ed"/><rect x="317.5" width="2.05" height="15.55" fill="#dceed7"/><rect x="319.5" width="2.55" height="15.55" fill="#fad8d8"/><rect x="322" width="1.55" height="15.55" fill="#f5faf4"/><rect x="323.5" width="1.55" height="15.55" fill="#d9edd4"/><rect x="325" width="1.55" height="15.55" fill="#e5f2e1"/><rect x="326.5" width="2.05" height="15.55" fill="#e6f3e3"/><rect x="328.5" width="1.55" height="15.55" fill="#e5f2e1"/><rect x="330" width="2.55" height="15.55" fill="#f8c2c2"/><rect x="332.5" width="2.55" height="15.55" fill="#fdebeb"/><rect x="335" width="1.55" height="15.55" fill="#fdeaeb"/><rect x="336.5" width="2.55" height="15.55" fill="#f4faf3"/><rect x="339" width="2.05" height="15.55" fill="#e1f1dd"/><rect x="341" width="2.05" height="15.55" fill="#fbdede"/><rect x="343" width="2.05" height="15.55" fill="#f5faf4"/><rect x="345" width="1.55" height="15.55" fill="#e9f4e6"/><rect x="346.5" width="2.05" height="15.55" fill="#fdefef"/><rect x="348.5" width="1.55" height="15.55" fill="#dff0db"/><rect x="350" width="2.55" height="15.55" fill="#f1f8ef"/><rect x="352.5" width="2.55" height="15.55" fill="#f3f9f2"/><rect x="355" width="2.55" height="15.55" fill="#f5faf4"/><rect x="357.5" width="2.55" height="15.55" fill="#f5faf4"/><rect x="360" width="2.55" height="15.55" fill="#e9f5e6"/><rect x="362.5" width="1.55" height="15.55" fill="#fbdbdb"/><rect x="364" width="1.55" height="15.55" fill="#f2f9f0"/><rect x="365.5" width="2.05" height="15.55" fill="#fbe2e2"/><rect x="367.5" width="2.05" height="15.55" fill="#f9cfd0"/><rect x="369.5" width="2.05" height="15.55" fill="#fce9e9"/><rect x="371.5" width="2.05" height="15.55" fill="#dbeed6"/><rect x="373.5" width="2.55" height="15.55" fill="#edf6eb"/><rect x="376" width="2.05" height="15.55" fill="#f4faf3"/><rect x="378" width="1.55" height="15.55" fill="#eff8ee"/><rect x="379.5" width="2.05" height="15.55" fill="#fdeded"/><rect x="381.5" width="2.05" height="15.55" fill="#fbdfdf"/><rect x="383.5" width="2.05" height="15.55" fill="#fdeded"/><rect x="385.5" width="2.05" height="15.55" fill="#fef3f3"/><rect x="387.5" width="2.05" height="15.55" fill="#e7f4e4"/><rect x="389.5" width="2.05" height="15.55" fill="#fdeaeb"/><rect x="391.5" width="1.55" height="15.55" fill="#dff0db"/><rect x="393" width="2.55" height="15.55" fill="#fce7e7"/><rect x="395.5" width="2.55" height="15.55" fill="#fad7d7"/><rect x="398" width="1.55" height="15.55" fill="#fceaea"/><rect x="399.5" width="1.55" height="15.55" fill="#fad9d9"/><rect x="401" width="2.05" height="15.55" fill="#fdeced"/><rect x="403" width="2.55" height="15.55" fill="#e2f1df"/><rect x="405.5" width="1.55" height="15.55" fill="#f5abac"/><rect x="407" width="2.55" height="15.55" fill="#fef3f3"/><rect x="409.5" width="2.05" height="15.55" fill="#fbdbdc"/><rect x="411.5" width="1.55" height="15.55" fill="#ebf5e8"/><rect x="413" width="2.05" height="15.55" fill="#fbdbdc"/><rect x="415" width="2.05" height="15.55" fill="#f7bcbd"/><rect x="417" width="1.55" height="15.55" fill="#fbdedf"/><rect x="418.5" width="2.05" height="15.55" fill="#fad5d5"/><rect x="420.5" width="1.55" height="15.55" fill="#fad5d6"/><rect x="422" width="2.55" height="15.55" fill="#fdefef"/><rect x="424.5" width="2.05" height="15.55" fill="#fdeeee"/><rect x="426.5" width="2.55" height="15.55" fill="#ebf5e8"/><rect x="429" width="2.05" height="15.55" fill="#fbdcdc"/><rect x="431" width="1.55" height="15.55" fill="#f9cfcf"/><rect x="432.5" width="2.55" height="15.55" fill="#fce9e9"/><rect x="435" width="2.05" height="15.55" fill="#f6b7b8"/><rect x="437" width="2.05" height="15.55" fill="#fbdddd"/><rect x="439" width="1.05" height="15.55" fill="#f9caca"/></g>
<g transform="translate(0,235.9)" class="hr"><rect x="275" width="2.55" height="15.55" fill="#eff7ed"/><rect x="277.5" width="2.05" height="15.55" fill="#e3f2e0"/><rect x="279.5" width="2.05" height="15.55" fill="#fbdbdb"/><rect x="281.5" width="2.05" height="15.55" fill="#fbe0e0"/><rect x="283.5" width="2.55" height="15.55" fill="#fdf1f2"/><rect x="286" width="1.55" height="15.55" fill="#fce5e6"/><rect x="287.5" width="2.05" height="15.55" fill="#fce5e5"/><rect x="289.5" width="2.55" height="15.55" fill="#fbdada"/><rect x="292" width="2.05" height="15.55" fill="#fad7d7"/><rect x="294" width="2.55" height="15.55" fill="#fbdada"/><rect x="296.5" width="2.05" height="15.55" fill="#e2f1df"/><rect x="298.5" width="1.55" height="15.55" fill="#e0f0dc"/><rect x="300" width="2.05" height="15.55" fill="#fdf2f2"/><rect x="302" width="2.55" height="15.55" fill="#fce3e4"/><rect x="304.5" width="2.05" height="15.55" fill="#fdf1f1"/><rect x="306.5" width="2.05" height="15.55" fill="#f0f8ee"/><rect x="308.5" width="2.05" height="15.55" fill="#fdf2f3"/><rect x="310.5" width="2.05" height="15.55" fill="#f3f9f1"/><rect x="312.5" width="1.55" height="15.55" fill="#fbe2e2"/><rect x="314" width="2.05" height="15.55" fill="#cae6c4"/><rect x="316" width="1.55" height="15.55" fill="#f6fbf4"/><rect x="317.5" width="2.05" height="15.55" fill="#fce6e6"/><rect x="319.5" width="2.55" height="15.55" fill="#f9cfcf"/><rect x="322" width="1.55" height="15.55" fill="#fbe0e0"/><rect x="323.5" width="1.55" height="15.55" fill="#fad9d9"/><rect x="325" width="1.55" height="15.55" fill="#fbdada"/><rect x="326.5" width="2.05" height="15.55" fill="#def0da"/><rect x="328.5" width="1.55" height="15.55" fill="#f8c4c4"/><rect x="330" width="2.55" height="15.55" fill="#f8c5c6"/><rect x="332.5" width="2.55" height="15.55" fill="#fdeff0"/><rect x="335" width="1.55" height="15.55" fill="#fdecec"/><rect x="336.5" width="2.55" height="15.55" fill="#daeed6"/><rect x="339" width="2.05" height="15.55" fill="#f5faf3"/><rect x="341" width="2.05" height="15.55" fill="#e4f2e0"/><rect x="343" width="2.05" height="15.55" fill="#eff8ee"/><rect x="345" width="1.55" height="15.55" fill="#fdeaea"/><rect x="346.5" width="2.05" height="15.55" fill="#fce7e7"/><rect x="348.5" width="1.55" height="15.55" fill="#fdf0f0"/><rect x="350" width="2.55" height="15.55" fill="#eaf5e7"/><rect x="352.5" width="2.55" height="15.55" fill="#fce4e4"/><rect x="355" width="2.55" height="15.55" fill="#cae6c3"/><rect x="357.5" width="2.55" height="15.55" fill="#f0f8ee"/><rect x="360" width="2.55" height="15.55" fill="#f0f8ee"/><rect x="362.5" width="1.55" height="15.55" fill="#fad9d9"/><rect x="364" width="1.55" height="15.55" fill="#f9c9ca"/><rect x="365.5" width="2.05" height="15.55" fill="#e5f3e2"/><rect x="367.5" width="2.05" height="15.55" fill="#e3f2e0"/><rect x="369.5" width="2.05" height="15.55" fill="#fdf2f3"/><rect x="371.5" width="2.05" height="15.55" fill="#cfe8c9"/><rect x="373.5" width="2.55" height="15.55" fill="#eef7ec"/><rect x="376" width="2.05" height="15.55" fill="#fdeeee"/><rect x="378" width="1.55" height="15.55" fill="#e6f3e3"/><rect x="379.5" width="2.05" height="15.55" fill="#fdf1f1"/><rect x="381.5" width="2.05" height="15.55" fill="#e3f1df"/><rect x="383.5" width="2.05" height="15.55" fill="#e5f3e2"/><rect x="385.5" width="2.05" height="15.55" fill="#f1f8ef"/><rect x="387.5" width="2.05" height="15.55" fill="#f9cbcb"/><rect x="389.5" width="2.05" height="15.55" fill="#c7e4c0"/><rect x="391.5" width="1.55" height="15.55" fill="#fdeeee"/><rect x="393" width="2.55" height="15.55" fill="#fdeded"/><rect x="395.5" width="2.55" height="15.55" fill="#fad4d4"/><rect x="398" width="1.55" height="15.55" fill="#ddefd9"/><rect x="399.5" width="1.55" height="15.55" fill="#fad2d2"/><rect x="401" width="2.05" height="15.55" fill="#f9cccc"/><rect x="403" width="2.55" height="15.55" fill="#fdf0f0"/><rect x="405.5" width="1.55" height="15.55" fill="#fdebeb"/><rect x="407" width="2.55" height="15.55" fill="#f3f9f2"/><rect x="409.5" width="2.05" height="15.55" fill="#fdeeee"/><rect x="411.5" width="1.55" height="15.55" fill="#e4f2e1"/><rect x="413" width="2.05" height="15.55" fill="#fad6d6"/><rect x="415" width="2.05" height="15.55" fill="#dff0db"/><rect x="417" width="1.55" height="15.55" fill="#ddefd9"/><rect x="418.5" width="2.05" height="15.55" fill="#f9d1d1"/><rect x="420.5" width="1.55" height="15.55" fill="#f4faf3"/><rect x="422" width="2.55" height="15.55" fill="#fad2d2"/><rect x="424.5" width="2.05" height="15.55" fill="#f4faf2"/><rect x="426.5" width="2.55" height="15.55" fill="#e8f4e5"/><rect x="429" width="2.05" height="15.55" fill="#fef4f4"/><rect x="431" width="1.55" height="15.55" fill="#f3f9f2"/><rect x="432.5" width="2.55" height="15.55" fill="#fef4f4"/><rect x="435" width="2.05" height="15.55" fill="#fdf2f2"/><rect x="437" width="2.05" height="15.55" fill="#fce7e7"/><rect x="439" width="1.05" height="15.55" fill="#ddefd9"/></g>
<g class="ns">
<text transform="translate(441.6,136.51) scale(1,1.08)" font-size="3.6" fill="#666">NR2C1</text>
<text transform="translate(441.6,152.01) scale(1,1.08)" font-size="3.6" fill="#666">VTN</text>
<text transform="translate(441.6,167.51) scale(1,1.08)" font-size="3.6" fill="#666">SEMA4G</text>
<text transform="translate(441.6,183.01) scale(1,1.08)" font-size="3.6" fill="#666">CHGB</text>
<text transform="translate(441.6,198.51) scale(1,1.08)" font-size="3.6" fill="#666">FLT3</text>
<text transform="translate(441.6,214.01) scale(1,1.08)" font-size="3.6" fill="#666">FGFR1</text>
<text transform="translate(441.6,229.51) scale(1,1.08)" font-size="3.6" fill="#666">CFP</text>
<text transform="translate(441.6,245.01) scale(1,1.08)" font-size="3.6" fill="#666">S100P</text>
</g>
<text transform="translate(441.2,125.76) scale(1,1.08)" font-size="3.6" font-weight="bold" fill="#333">type</text>
<path d="M7.4 134.65H29M12.3 150.15H29M12.3 165.65H29M12.3 150.15V165.65M7.4 157.9H12.3M7.4 134.65V157.9M13.8 181.15H29M13.8 196.65H29M13.8 181.15V196.65M9.9 212.15H29M15.4 227.65H29M15.4 243.15H29M15.4 227.65V243.15M9.9 235.4H15.4M9.9 212.15V235.4M7 188.9H13.8M7 223.78H9.9M7 188.9V223.78M4.4 146.28H7.4M4.4 206.34H7M4.4 146.28V206.34" stroke="#888" stroke-width="0.7" fill="none"/>
<path d="M253.9 135.15H275M257.2 150.65H275M260.4 166.15H275M260.4 181.65H275M260.4 166.15V181.65M257.2 173.9H260.4M257.2 150.65V173.9M253.9 162.28H257.2M253.9 135.15V162.28M250.3 148.71H253.9M253.3 197.15H275M255.2 212.65H275M258.1 228.15H275M258.1 243.65H275M258.1 228.15V243.65M255.2 235.9H258.1M255.2 212.65V235.9M253.3 224.28H255.2M253.3 197.15V224.28M250.3 210.71H253.3M250.3 148.71V210.71" stroke="#888" stroke-width="0.7" fill="none"/>
<defs><linearGradient id="g1" x1="0" y1="0" x2="0" y2="1"><stop offset="0" stop-color="#e41e20"/><stop offset="0.5" stop-color="#ffffff"/><stop offset="1" stop-color="#50ac3a"/></linearGradient></defs>
<rect x="214.3" y="121.9" width="4.7" height="69.6" fill="url(#g1)"/>
<g class="ns">
<text transform="translate(221,137.06) scale(1,1.08)" font-size="3.6" fill="#555">5</text>
<text transform="translate(221,158.26) scale(1,1.08)" font-size="3.6" fill="#555">0</text>
<text transform="translate(221,179.26) scale(1,1.08)" font-size="3.6" fill="#555">-5</text>
</g>
<text transform="translate(225,124.09) scale(1,1.08)" font-size="3.4" font-weight="bold" fill="#333">type</text>
<rect x="225" y="125.6" width="4.5" height="4.2" fill="#22b7c2"/>
<rect x="225" y="129.8" width="4.5" height="4.6" fill="#f0776c"/>
<g class="ns">
<text transform="translate(230.2,128.95) scale(1,1.08)" font-size="3.3" fill="#777">high</text>
<text transform="translate(230.2,133.65) scale(1,1.08)" font-size="3.3" fill="#777">low</text>
</g>
<defs><linearGradient id="g2" x1="0" y1="0" x2="0" y2="1"><stop offset="0" stop-color="#e41e20"/><stop offset="0.5" stop-color="#ffffff"/><stop offset="1" stop-color="#50ac3a"/></linearGradient></defs>
<rect x="460.1" y="122.4" width="4.7" height="69.4" fill="url(#g2)"/>
<g class="ns">
<text transform="translate(466.5,126.46) scale(1,1.08)" font-size="3.6" fill="#555">6</text>
<text transform="translate(466.5,137.16) scale(1,1.08)" font-size="3.6" fill="#555">4</text>
<text transform="translate(466.5,147.76) scale(1,1.08)" font-size="3.6" fill="#555">2</text>
<text transform="translate(466.5,158.66) scale(1,1.08)" font-size="3.6" fill="#555">0</text>
<text transform="translate(466.5,169.36) scale(1,1.08)" font-size="3.6" fill="#555">-2</text>
<text transform="translate(466.5,180.06) scale(1,1.08)" font-size="3.6" fill="#555">-4</text>
<text transform="translate(466.5,190.76) scale(1,1.08)" font-size="3.6" fill="#555">-6</text>
</g>
<text transform="translate(471.8,124.59) scale(1,1.08)" font-size="3.4" font-weight="bold" fill="#333">type</text>
<rect x="471.8" y="126.1" width="4.5" height="4.2" fill="#22b7c2"/>
<rect x="471.8" y="130.3" width="4.5" height="4.6" fill="#f0776c"/>
<g class="ns">
<text transform="translate(477,129.45) scale(1,1.08)" font-size="3.3" fill="#777">high</text>
<text transform="translate(477,134.15) scale(1,1.08)" font-size="3.3" fill="#777">low</text>
</g>
<rect x="35.5" y="277.9" width="372.5" height="11.2" fill="#1f60b8"/>
<g transform="translate(0,277.9)"><rect x="38.28" width="0.56" height="11.2" fill="#f58a2a"/><rect x="40.51" width="0.56" height="11.2" fill="#f58a2a"/><rect x="64.45" width="0.56" height="11.2" fill="#f58a2a"/><rect x="70.58" width="0.56" height="11.2" fill="#f58a2a"/><rect x="86.17" width="0.56" height="11.2" fill="#f58a2a"/><rect x="103.43" width="0.56" height="11.2" fill="#f58a2a"/><rect x="110.67" width="0.56" height="11.2" fill="#f58a2a"/><rect x="121.25" width="1.11" height="11.2" fill="#f58a2a"/><rect x="122.92" width="1.11" height="11.2" fill="#f58a2a"/><rect x="129.6" width="0.56" height="11.2" fill="#f58a2a"/><rect x="134.61" width="1.11" height="11.2" fill="#f58a2a"/><rect x="140.74" width="0.56" height="11.2" fill="#f58a2a"/><rect x="147.97" width="0.56" height="11.2" fill="#f58a2a"/><rect x="158.55" width="0.56" height="11.2" fill="#f58a2a"/><rect x="162.45" width="0.56" height="11.2" fill="#f58a2a"/><rect x="168.02" width="0.56" height="11.2" fill="#f58a2a"/><rect x="180.83" width="0.56" height="11.2" fill="#f58a2a"/><rect x="187.51" width="0.56" height="11.2" fill="#f58a2a"/><rect x="191.4" width="1.11" height="11.2" fill="#f58a2a"/><rect x="193.63" width="0.56" height="11.2" fill="#f58a2a"/><rect x="196.42" width="0.56" height="11.2" fill="#f58a2a"/><rect x="198.09" width="0.56" height="11.2" fill="#f58a2a"/><rect x="204.21" width="0.56" height="11.2" fill="#f58a2a"/><rect x="205.88" width="0.56" height="11.2" fill="#f58a2a"/><rect x="211.45" width="0.56" height="11.2" fill="#f58a2a"/><rect x="225.37" width="0.56" height="11.2" fill="#f58a2a"/><rect x="226.48" width="1.11" height="11.2" fill="#f58a2a"/><rect x="228.71" width="1.11" height="11.2" fill="#f58a2a"/><rect x="230.94" width="0.56" height="11.2" fill="#f58a2a"/><rect x="233.72" width="0.56" height="11.2" fill="#f58a2a"/><rect x="235.39" width="3.34" height="11.2" fill="#f58a2a"/><rect x="239.85" width="2.23" height="11.2" fill="#f58a2a"/><rect x="243.19" width="1.11" height="11.2" fill="#f58a2a"/><rect x="244.86" width="0.56" height="11.2" fill="#f58a2a"/><rect x="246.53" width="0.56" height="11.2" fill="#f58a2a"/><rect x="249.31" width="1.11" height="11.2" fill="#f58a2a"/><rect x="251.54" width="0.56" height="11.2" fill="#f58a2a"/><rect x="254.88" width="1.11" height="11.2" fill="#f58a2a"/><rect x="256.55" width="5.01" height="11.2" fill="#f58a2a"/><rect x="262.67" width="0.56" height="11.2" fill="#f58a2a"/><rect x="266.02" width="2.23" height="11.2" fill="#f58a2a"/><rect x="269.36" width="1.11" height="11.2" fill="#f58a2a"/><rect x="272.14" width="0.56" height="11.2" fill="#f58a2a"/><rect x="273.25" width="2.23" height="11.2" fill="#f58a2a"/><rect x="277.71" width="2.23" height="11.2" fill="#f58a2a"/><rect x="280.49" width="0.56" height="11.2" fill="#f58a2a"/><rect x="284.95" width="0.56" height="11.2" fill="#f58a2a"/><rect x="286.06" width="1.11" height="11.2" fill="#f58a2a"/><rect x="287.73" width="3.34" height="11.2" fill="#f58a2a"/><rect x="291.63" width="1.67" height="11.2" fill="#f58a2a"/><rect x="293.86" width="1.67" height="11.2" fill="#f58a2a"/><rect x="298.87" width="0.56" height="11.2" fill="#f58a2a"/><rect x="301.09" width="0.56" height="11.2" fill="#f58a2a"/><rect x="302.21" width="0.56" height="11.2" fill="#f58a2a"/><rect x="303.32" width="1.11" height="11.2" fill="#f58a2a"/><rect x="306.11" width="1.67" height="11.2" fill="#f58a2a"/><rect x="309.45" width="0.56" height="11.2" fill="#f58a2a"/><rect x="311.67" width="1.67" height="11.2" fill="#f58a2a"/><rect x="315.57" width="1.67" height="11.2" fill="#f58a2a"/><rect x="318.36" width="3.9" height="11.2" fill="#f58a2a"/><rect x="324.48" width="2.23" height="11.2" fill="#f58a2a"/><rect x="327.26" width="0.56" height="11.2" fill="#f58a2a"/><rect x="329.49" width="1.11" height="11.2" fill="#f58a2a"/><rect x="331.16" width="1.67" height="11.2" fill="#f58a2a"/><rect x="333.39" width="1.11" height="11.2" fill="#f58a2a"/><rect x="335.06" width="1.11" height="11.2" fill="#f58a2a"/><rect x="337.29" width="0.56" height="11.2" fill="#f58a2a"/><rect x="338.96" width="0.56" height="11.2" fill="#f58a2a"/><rect x="340.07" width="0.56" height="11.2" fill="#f58a2a"/><rect x="341.74" width="1.11" height="11.2" fill="#f58a2a"/><rect x="343.41" width="3.34" height="11.2" fill="#f58a2a"/><rect x="347.31" width="2.23" height="11.2" fill="#f58a2a"/><rect x="350.09" width="0.56" height="11.2" fill="#f58a2a"/><rect x="351.21" width="1.67" height="11.2" fill="#f58a2a"/><rect x="353.43" width="2.23" height="11.2" fill="#f58a2a"/><rect x="356.22" width="1.67" height="11.2" fill="#f58a2a"/><rect x="360.67" width="1.67" height="11.2" fill="#f58a2a"/><rect x="362.9" width="2.78" height="11.2" fill="#f58a2a"/><rect x="366.24" width="3.9" height="11.2" fill="#f58a2a"/><rect x="374.04" width="1.11" height="11.2" fill="#f58a2a"/><rect x="375.71" width="2.23" height="11.2" fill="#f58a2a"/><rect x="378.49" width="0.56" height="11.2" fill="#f58a2a"/><rect x="380.16" width="1.11" height="11.2" fill="#f58a2a"/><rect x="382.94" width="0.56" height="11.2" fill="#f58a2a"/><rect x="384.61" width="3.9" height="11.2" fill="#f58a2a"/><rect x="389.07" width="1.11" height="11.2" fill="#f58a2a"/><rect x="391.3" width="2.78" height="11.2" fill="#f58a2a"/><rect x="394.64" width="1.11" height="11.2" fill="#f58a2a"/><rect x="396.86" width="1.67" height="11.2" fill="#f58a2a"/><rect x="399.09" width="1.11" height="11.2" fill="#f58a2a"/><rect x="401.88" width="2.23" height="11.2" fill="#f58a2a"/><rect x="404.66" width="1.67" height="11.2" fill="#f58a2a"/><rect x="407.44" width="0.56" height="11.2" fill="#f58a2a"/></g>
<rect x="35.5" y="290.8" width="372.5" height="11.2" fill="#eb1e2c"/>
<g transform="translate(0,290.8)"><rect x="38.28" width="2.23" height="11.2" fill="#cd34a6"/><rect x="41.07" width="1.11" height="11.2" fill="#cd34a6"/><rect x="43.3" width="1.11" height="11.2" fill="#cd34a6"/><rect x="45.52" width="1.11" height="11.2" fill="#cd34a6"/><rect x="47.75" width="0.56" height="11.2" fill="#cd34a6"/><rect x="49.42" width="0.56" height="11.2" fill="#cd34a6"/><rect x="50.53" width="0.56" height="11.2" fill="#cd34a6"/><rect x="51.65" width="0.56" height="11.2" fill="#cd34a6"/><rect x="52.76" width="0.56" height="11.2" fill="#cd34a6"/><rect x="56.66" width="0.56" height="11.2" fill="#cd34a6"/><rect x="58.33" width="1.11" height="11.2" fill="#cd34a6"/><rect x="65.01" width="1.11" height="11.2" fill="#cd34a6"/><rect x="66.68" width="0.56" height="11.2" fill="#cd34a6"/><rect x="67.79" width="1.11" height="11.2" fill="#cd34a6"/><rect x="70.02" width="2.23" height="11.2" fill="#cd34a6"/><rect x="72.81" width="4.45" height="11.2" fill="#cd34a6"/><rect x="79.49" width="0.56" height="11.2" fill="#cd34a6"/><rect x="81.16" width="0.56" height="11.2" fill="#cd34a6"/><rect x="83.94" width="0.56" height="11.2" fill="#cd34a6"/><rect x="85.06" width="0.56" height="11.2" fill="#cd34a6"/><rect x="86.17" width="0.56" height="11.2" fill="#cd34a6"/><rect x="88.95" width="0.56" height="11.2" fill="#cd34a6"/><rect x="90.07" width="0.56" height="11.2" fill="#cd34a6"/><rect x="91.18" width="0.56" height="11.2" fill="#cd34a6"/><rect x="92.29" width="0.56" height="11.2" fill="#cd34a6"/><rect x="93.41" width="0.56" height="11.2" fill="#cd34a6"/><rect x="96.19" width="0.56" height="11.2" fill="#cd34a6"/><rect x="97.3" width="1.67" height="11.2" fill="#cd34a6"/><rect x="99.53" width="1.67" height="11.2" fill="#cd34a6"/><rect x="102.32" width="0.56" height="11.2" fill="#cd34a6"/><rect x="105.1" width="0.56" height="11.2" fill="#cd34a6"/><rect x="106.21" width="0.56" height="11.2" fill="#cd34a6"/><rect x="107.33" width="0.56" height="11.2" fill="#cd34a6"/><rect x="108.44" width="1.67" height="11.2" fill="#cd34a6"/><rect x="110.67" width="0.56" height="11.2" fill="#cd34a6"/><rect x="114.01" width="1.11" height="11.2" fill="#cd34a6"/><rect x="116.24" width="0.56" height="11.2" fill="#cd34a6"/><rect x="117.35" width="1.67" height="11.2" fill="#cd34a6"/><rect x="120.13" width="0.56" height="11.2" fill="#cd34a6"/><rect x="121.8" width="1.11" height="11.2" fill="#cd34a6"/><rect x="123.47" width="0.56" height="11.2" fill="#cd34a6"/><rect x="125.14" width="0.56" height="11.2" fill="#cd34a6"/><rect x="126.82" width="1.11" height="11.2" fill="#cd34a6"/><rect x="129.04" width="0.56" height="11.2" fill="#cd34a6"/><rect x="131.27" width="1.67" height="11.2" fill="#cd34a6"/><rect x="134.61" width="2.23" height="11.2" fill="#cd34a6"/><rect x="137.39" width="2.23" height="11.2" fill="#cd34a6"/><rect x="140.18" width="0.56" height="11.2" fill="#cd34a6"/><rect x="141.29" width="3.9" height="11.2" fill="#cd34a6"/><rect x="146.3" width="1.11" height="11.2" fill="#cd34a6"/><rect x="150.76" width="2.23" height="11.2" fill="#cd34a6"/><rect x="154.1" width="0.56" height="11.2" fill="#cd34a6"/><rect x="155.21" width="0.56" height="11.2" fill="#cd34a6"/><rect x="156.33" width="1.11" height="11.2" fill="#cd34a6"/><rect x="158.55" width="1.11" height="11.2" fill="#cd34a6"/><rect x="160.22" width="1.67" height="11.2" fill="#cd34a6"/><rect x="163.01" width="1.11" height="11.2" fill="#cd34a6"/><rect x="164.68" width="0.56" height="11.2" fill="#cd34a6"/><rect x="165.79" width="2.23" height="11.2" fill="#cd34a6"/><rect x="168.58" width="0.56" height="11.2" fill="#cd34a6"/><rect x="170.25" width="2.78" height="11.2" fill="#cd34a6"/><rect x="175.26" width="1.11" height="11.2" fill="#cd34a6"/><rect x="179.15" width="0.56" height="11.2" fill="#cd34a6"/><rect x="181.94" width="1.11" height="11.2" fill="#cd34a6"/><rect x="183.61" width="0.56" height="11.2" fill="#cd34a6"/><rect x="184.72" width="0.56" height="11.2" fill="#cd34a6"/><rect x="186.95" width="1.11" height="11.2" fill="#cd34a6"/><rect x="189.73" width="0.56" height="11.2" fill="#cd34a6"/><rect x="191.96" width="1.67" height="11.2" fill="#cd34a6"/><rect x="195.3" width="2.23" height="11.2" fill="#cd34a6"/><rect x="198.64" width="0.56" height="11.2" fill="#cd34a6"/><rect x="201.43" width="1.11" height="11.2" fill="#cd34a6"/><rect x="203.65" width="1.67" height="11.2" fill="#cd34a6"/><rect x="207.55" width="1.11" height="11.2" fill="#cd34a6"/><rect x="209.22" width="0.56" height="11.2" fill="#cd34a6"/><rect x="210.34" width="1.67" height="11.2" fill="#cd34a6"/><rect x="213.12" width="1.67" height="11.2" fill="#cd34a6"/><rect x="215.35" width="2.23" height="11.2" fill="#cd34a6"/><rect x="218.13" width="0.56" height="11.2" fill="#cd34a6"/><rect x="219.24" width="0.56" height="11.2" fill="#cd34a6"/><rect x="220.91" width="1.11" height="11.2" fill="#cd34a6"/><rect x="222.59" width="0.56" height="11.2" fill="#cd34a6"/><rect x="223.7" width="0.56" height="11.2" fill="#cd34a6"/><rect x="225.93" width="1.11" height="11.2" fill="#cd34a6"/><rect x="227.6" width="0.56" height="11.2" fill="#cd34a6"/><rect x="229.82" width="1.67" height="11.2" fill="#cd34a6"/><rect x="234.83" width="0.56" height="11.2" fill="#cd34a6"/><rect x="236.51" width="0.56" height="11.2" fill="#cd34a6"/><rect x="239.85" width="0.56" height="11.2" fill="#cd34a6"/><rect x="242.63" width="0.56" height="11.2" fill="#cd34a6"/><rect x="244.86" width="0.56" height="11.2" fill="#cd34a6"/><rect x="247.08" width="0.56" height="11.2" fill="#cd34a6"/><rect x="248.2" width="0.56" height="11.2" fill="#cd34a6"/><rect x="250.43" width="1.11" height="11.2" fill="#cd34a6"/><rect x="252.1" width="0.56" height="11.2" fill="#cd34a6"/><rect x="256.55" width="0.56" height="11.2" fill="#cd34a6"/><rect x="257.66" width="1.67" height="11.2" fill="#cd34a6"/><rect x="259.89" width="0.56" height="11.2" fill="#cd34a6"/><rect x="262.12" width="1.11" height="11.2" fill="#cd34a6"/><rect x="264.35" width="0.56" height="11.2" fill="#cd34a6"/><rect x="265.46" width="1.67" height="11.2" fill="#cd34a6"/><rect x="267.69" width="0.56" height="11.2" fill="#cd34a6"/><rect x="268.8" width="0.56" height="11.2" fill="#cd34a6"/><rect x="271.58" width="0.56" height="11.2" fill="#cd34a6"/><rect x="272.7" width="0.56" height="11.2" fill="#cd34a6"/><rect x="274.92" width="0.56" height="11.2" fill="#cd34a6"/><rect x="276.04" width="1.11" height="11.2" fill="#cd34a6"/><rect x="279.94" width="0.56" height="11.2" fill="#cd34a6"/><rect x="281.61" width="0.56" height="11.2" fill="#cd34a6"/><rect x="286.62" width="0.56" height="11.2" fill="#cd34a6"/><rect x="291.07" width="0.56" height="11.2" fill="#cd34a6"/><rect x="292.19" width="0.56" height="11.2" fill="#cd34a6"/><rect x="297.2" width="0.56" height="11.2" fill="#cd34a6"/><rect x="304.99" width="0.56" height="11.2" fill="#cd34a6"/><rect x="308.33" width="0.56" height="11.2" fill="#cd34a6"/><rect x="311.12" width="0.56" height="11.2" fill="#cd34a6"/><rect x="317.8" width="0.56" height="11.2" fill="#cd34a6"/><rect x="320.58" width="0.56" height="11.2" fill="#cd34a6"/><rect x="324.48" width="0.56" height="11.2" fill="#cd34a6"/><rect x="329.49" width="0.56" height="11.2" fill="#cd34a6"/><rect x="341.74" width="0.56" height="11.2" fill="#cd34a6"/><rect x="342.85" width="0.56" height="11.2" fill="#cd34a6"/><rect x="347.87" width="0.56" height="11.2" fill="#cd34a6"/><rect x="352.32" width="0.56" height="11.2" fill="#cd34a6"/><rect x="355.1" width="0.56" height="11.2" fill="#cd34a6"/><rect x="357.89" width="1.67" height="11.2" fill="#cd34a6"/><rect x="366.8" width="0.56" height="11.2" fill="#cd34a6"/><rect x="372.36" width="0.56" height="11.2" fill="#cd34a6"/><rect x="378.49" width="0.56" height="11.2" fill="#cd34a6"/><rect x="379.6" width="0.56" height="11.2" fill="#cd34a6"/><rect x="382.39" width="0.56" height="11.2" fill="#cd34a6"/><rect x="383.5" width="0.56" height="11.2" fill="#cd34a6"/><rect x="386.84" width="1.11" height="11.2" fill="#cd34a6"/><rect x="388.51" width="0.56" height="11.2" fill="#cd34a6"/><rect x="394.64" width="0.56" height="11.2" fill="#cd34a6"/><rect x="396.86" width="0.56" height="11.2" fill="#cd34a6"/><rect x="400.2" width="0.56" height="11.2" fill="#cd34a6"/><rect x="401.32" width="0.56" height="11.2" fill="#cd34a6"/></g>
<rect x="35.5" y="303.6" width="372.5" height="11.2" fill="#2a6e96"/>
<g transform="translate(0,303.6)"><rect x="36.06" width="0.56" height="11.2" fill="#37be3c"/><rect x="39.4" width="0.56" height="11.2" fill="#37be3c"/><rect x="41.62" width="0.56" height="11.2" fill="#37be3c"/><rect x="42.74" width="0.56" height="11.2" fill="#37be3c"/><rect x="44.97" width="0.56" height="11.2" fill="#37be3c"/><rect x="48.86" width="1.11" height="11.2" fill="#37be3c"/><rect x="51.09" width="1.67" height="11.2" fill="#37be3c"/><rect x="53.87" width="3.9" height="11.2" fill="#37be3c"/><rect x="58.89" width="0.56" height="11.2" fill="#37be3c"/><rect x="60" width="0.56" height="11.2" fill="#37be3c"/><rect x="64.45" width="1.67" height="11.2" fill="#37be3c"/><rect x="67.79" width="1.11" height="11.2" fill="#37be3c"/><rect x="73.92" width="1.11" height="11.2" fill="#37be3c"/><rect x="76.7" width="2.23" height="11.2" fill="#37be3c"/><rect x="79.49" width="3.9" height="11.2" fill="#37be3c"/><rect x="87.84" width="0.56" height="11.2" fill="#37be3c"/><rect x="91.74" width="0.56" height="11.2" fill="#37be3c"/><rect x="94.52" width="1.11" height="11.2" fill="#37be3c"/><rect x="100.09" width="1.11" height="11.2" fill="#37be3c"/><rect x="103.43" width="3.34" height="11.2" fill="#37be3c"/><rect x="107.33" width="1.67" height="11.2" fill="#37be3c"/><rect x="109.55" width="1.11" height="11.2" fill="#37be3c"/><rect x="111.22" width="0.56" height="11.2" fill="#37be3c"/><rect x="112.9" width="1.67" height="11.2" fill="#37be3c"/><rect x="116.24" width="1.67" height="11.2" fill="#37be3c"/><rect x="118.46" width="0.56" height="11.2" fill="#37be3c"/><rect x="121.25" width="1.11" height="11.2" fill="#37be3c"/><rect x="124.03" width="3.34" height="11.2" fill="#37be3c"/><rect x="129.6" width="1.11" height="11.2" fill="#37be3c"/><rect x="131.27" width="2.78" height="11.2" fill="#37be3c"/><rect x="135.17" width="2.78" height="11.2" fill="#37be3c"/><rect x="138.51" width="2.23" height="11.2" fill="#37be3c"/><rect x="141.29" width="1.11" height="11.2" fill="#37be3c"/><rect x="144.08" width="0.56" height="11.2" fill="#37be3c"/><rect x="145.19" width="0.56" height="11.2" fill="#37be3c"/><rect x="149.64" width="1.67" height="11.2" fill="#37be3c"/><rect x="153.54" width="2.78" height="11.2" fill="#37be3c"/><rect x="156.88" width="0.56" height="11.2" fill="#37be3c"/><rect x="158" width="0.56" height="11.2" fill="#37be3c"/><rect x="159.11" width="2.23" height="11.2" fill="#37be3c"/><rect x="163.01" width="1.11" height="11.2" fill="#37be3c"/><rect x="164.68" width="2.23" height="11.2" fill="#37be3c"/><rect x="168.02" width="1.11" height="11.2" fill="#37be3c"/><rect x="170.25" width="0.56" height="11.2" fill="#37be3c"/><rect x="173.03" width="0.56" height="11.2" fill="#37be3c"/><rect x="176.37" width="0.56" height="11.2" fill="#37be3c"/><rect x="178.6" width="0.56" height="11.2" fill="#37be3c"/><rect x="180.27" width="1.11" height="11.2" fill="#37be3c"/><rect x="181.94" width="0.56" height="11.2" fill="#37be3c"/><rect x="183.05" width="2.78" height="11.2" fill="#37be3c"/><rect x="186.95" width="1.11" height="11.2" fill="#37be3c"/><rect x="190.29" width="1.11" height="11.2" fill="#37be3c"/><rect x="194.19" width="1.11" height="11.2" fill="#37be3c"/><rect x="196.42" width="1.11" height="11.2" fill="#37be3c"/><rect x="198.64" width="1.11" height="11.2" fill="#37be3c"/><rect x="200.31" width="1.11" height="11.2" fill="#37be3c"/><rect x="201.98" width="0.56" height="11.2" fill="#37be3c"/><rect x="203.1" width="3.9" height="11.2" fill="#37be3c"/><rect x="207.55" width="2.23" height="11.2" fill="#37be3c"/><rect x="215.35" width="0.56" height="11.2" fill="#37be3c"/><rect x="218.13" width="1.11" height="11.2" fill="#37be3c"/><rect x="219.8" width="1.67" height="11.2" fill="#37be3c"/><rect x="222.59" width="3.34" height="11.2" fill="#37be3c"/><rect x="226.48" width="2.78" height="11.2" fill="#37be3c"/><rect x="229.82" width="0.56" height="11.2" fill="#37be3c"/><rect x="232.61" width="0.56" height="11.2" fill="#37be3c"/><rect x="235.95" width="0.56" height="11.2" fill="#37be3c"/><rect x="238.73" width="2.78" height="11.2" fill="#37be3c"/><rect x="242.63" width="1.67" height="11.2" fill="#37be3c"/><rect x="245.97" width="1.11" height="11.2" fill="#37be3c"/><rect x="248.2" width="0.56" height="11.2" fill="#37be3c"/><rect x="249.87" width="0.56" height="11.2" fill="#37be3c"/><rect x="255.99" width="2.23" height="11.2" fill="#37be3c"/><rect x="259.33" width="0.56" height="11.2" fill="#37be3c"/><rect x="261" width="1.11" height="11.2" fill="#37be3c"/><rect x="263.79" width="0.56" height="11.2" fill="#37be3c"/><rect x="267.69" width="1.11" height="11.2" fill="#37be3c"/><rect x="269.36" width="1.11" height="11.2" fill="#37be3c"/><rect x="271.58" width="0.56" height="11.2" fill="#37be3c"/><rect x="272.7" width="1.67" height="11.2" fill="#37be3c"/><rect x="277.15" width="1.11" height="11.2" fill="#37be3c"/><rect x="278.82" width="0.56" height="11.2" fill="#37be3c"/><rect x="279.94" width="3.34" height="11.2" fill="#37be3c"/><rect x="283.83" width="0.56" height="11.2" fill="#37be3c"/><rect x="286.62" width="1.67" height="11.2" fill="#37be3c"/><rect x="292.19" width="1.11" height="11.2" fill="#37be3c"/><rect x="293.86" width="1.67" height="11.2" fill="#37be3c"/><rect x="297.2" width="1.67" height="11.2" fill="#37be3c"/><rect x="299.42" width="3.9" height="11.2" fill="#37be3c"/><rect x="304.43" width="1.11" height="11.2" fill="#37be3c"/><rect x="308.33" width="1.11" height="11.2" fill="#37be3c"/><rect x="310" width="2.23" height="11.2" fill="#37be3c"/><rect x="312.79" width="1.67" height="11.2" fill="#37be3c"/><rect x="315.01" width="1.11" height="11.2" fill="#37be3c"/><rect x="318.91" width="1.67" height="11.2" fill="#37be3c"/><rect x="321.7" width="1.67" height="11.2" fill="#37be3c"/><rect x="327.26" width="0.56" height="11.2" fill="#37be3c"/><rect x="328.38" width="1.67" height="11.2" fill="#37be3c"/><rect x="331.72" width="1.67" height="11.2" fill="#37be3c"/><rect x="336.73" width="2.23" height="11.2" fill="#37be3c"/><rect x="340.07" width="1.11" height="11.2" fill="#37be3c"/><rect x="343.41" width="1.11" height="11.2" fill="#37be3c"/><rect x="346.75" width="1.67" height="11.2" fill="#37be3c"/><rect x="354.55" width="0.56" height="11.2" fill="#37be3c"/><rect x="358.44" width="1.11" height="11.2" fill="#37be3c"/><rect x="360.67" width="0.56" height="11.2" fill="#37be3c"/><rect x="362.34" width="1.11" height="11.2" fill="#37be3c"/><rect x="364.01" width="1.67" height="11.2" fill="#37be3c"/><rect x="366.8" width="1.67" height="11.2" fill="#37be3c"/><rect x="369.58" width="0.56" height="11.2" fill="#37be3c"/><rect x="372.92" width="2.78" height="11.2" fill="#37be3c"/><rect x="378.49" width="1.11" height="11.2" fill="#37be3c"/><rect x="380.16" width="0.56" height="11.2" fill="#37be3c"/><rect x="381.27" width="5.01" height="11.2" fill="#37be3c"/><rect x="388.51" width="0.56" height="11.2" fill="#37be3c"/><rect x="389.63" width="0.56" height="11.2" fill="#37be3c"/><rect x="392.41" width="3.34" height="11.2" fill="#37be3c"/><rect x="397.42" width="2.23" height="11.2" fill="#37be3c"/><rect x="401.32" width="1.67" height="11.2" fill="#37be3c"/><rect x="404.1" width="3.34" height="11.2" fill="#37be3c"/></g>
<rect x="35.5" y="316.2" width="372.5" height="11.2" fill="#a56ec8"/>
<g transform="translate(0,316.2)"><rect x="35.5" width="0.56" height="11.2" fill="#c88732"/><rect x="38.84" width="6.68" height="11.2" fill="#c88732"/><rect x="46.64" width="2.23" height="11.2" fill="#c88732"/><rect x="49.42" width="2.23" height="11.2" fill="#c88732"/><rect x="54.43" width="1.11" height="11.2" fill="#c88732"/><rect x="56.1" width="1.11" height="11.2" fill="#c88732"/><rect x="57.77" width="1.11" height="11.2" fill="#c88732"/><rect x="58.89" width="0.56" height="11.2" fill="#bebebe"/><rect x="61.67" width="2.23" height="11.2" fill="#c88732"/><rect x="64.45" width="4.45" height="11.2" fill="#c88732"/><rect x="69.46" width="1.67" height="11.2" fill="#c88732"/><rect x="72.25" width="0.56" height="11.2" fill="#c88732"/><rect x="73.36" width="0.56" height="11.2" fill="#c88732"/><rect x="75.03" width="0.56" height="11.2" fill="#bebebe"/><rect x="76.15" width="2.23" height="11.2" fill="#c88732"/><rect x="80.04" width="0.56" height="11.2" fill="#c88732"/><rect x="81.16" width="1.11" height="11.2" fill="#c88732"/><rect x="82.83" width="4.45" height="11.2" fill="#c88732"/><rect x="87.28" width="0.56" height="11.2" fill="#bebebe"/><rect x="87.84" width="6.12" height="11.2" fill="#c88732"/><rect x="93.96" width="0.56" height="11.2" fill="#bebebe"/><rect x="94.52" width="2.78" height="11.2" fill="#c88732"/><rect x="98.42" width="5.01" height="11.2" fill="#c88732"/><rect x="103.99" width="1.67" height="11.2" fill="#c88732"/><rect x="106.21" width="0.56" height="11.2" fill="#c88732"/><rect x="107.33" width="0.56" height="11.2" fill="#c88732"/><rect x="109.55" width="1.11" height="11.2" fill="#c88732"/><rect x="114.01" width="0.56" height="11.2" fill="#bebebe"/><rect x="114.57" width="1.11" height="11.2" fill="#c88732"/><rect x="116.79" width="0.56" height="11.2" fill="#c88732"/><rect x="119.02" width="2.78" height="11.2" fill="#c88732"/><rect x="123.47" width="2.78" height="11.2" fill="#c88732"/><rect x="126.26" width="0.56" height="11.2" fill="#bebebe"/><rect x="128.49" width="1.11" height="11.2" fill="#c88732"/><rect x="130.71" width="0.56" height="11.2" fill="#c88732"/><rect x="132.38" width="1.11" height="11.2" fill="#c88732"/><rect x="134.05" width="1.67" height="11.2" fill="#c88732"/><rect x="136.28" width="1.11" height="11.2" fill="#c88732"/><rect x="138.51" width="6.12" height="11.2" fill="#c88732"/><rect x="150.76" width="1.11" height="11.2" fill="#c88732"/><rect x="152.99" width="1.11" height="11.2" fill="#c88732"/><rect x="155.21" width="1.67" height="11.2" fill="#c88732"/><rect x="157.44" width="0.56" height="11.2" fill="#c88732"/><rect x="158.55" width="0.56" height="11.2" fill="#c88732"/><rect x="160.22" width="4.45" height="11.2" fill="#c88732"/><rect x="165.79" width="0.56" height="11.2" fill="#c88732"/><rect x="168.58" width="0.56" height="11.2" fill="#c88732"/><rect x="170.8" width="1.11" height="11.2" fill="#c88732"/><rect x="172.47" width="2.23" height="11.2" fill="#c88732"/><rect x="175.26" width="1.67" height="11.2" fill="#c88732"/><rect x="178.6" width="0.56" height="11.2" fill="#c88732"/><rect x="179.71" width="0.56" height="11.2" fill="#c88732"/><rect x="180.83" width="0.56" height="11.2" fill="#bebebe"/><rect x="181.38" width="0.56" height="11.2" fill="#c88732"/><rect x="182.5" width="1.11" height="11.2" fill="#c88732"/><rect x="185.28" width="0.56" height="11.2" fill="#c88732"/><rect x="186.39" width="1.11" height="11.2" fill="#c88732"/><rect x="188.06" width="2.23" height="11.2" fill="#c88732"/><rect x="190.85" width="1.11" height="11.2" fill="#c88732"/><rect x="191.96" width="0.56" height="11.2" fill="#bebebe"/><rect x="192.52" width="0.56" height="11.2" fill="#c88732"/><rect x="193.07" width="0.56" height="11.2" fill="#bebebe"/><rect x="195.3" width="1.67" height="11.2" fill="#c88732"/><rect x="197.53" width="1.11" height="11.2" fill="#c88732"/><rect x="199.2" width="0.56" height="11.2" fill="#bebebe"/><rect x="199.76" width="0.56" height="11.2" fill="#c88732"/><rect x="200.87" width="2.23" height="11.2" fill="#c88732"/><rect x="204.21" width="2.23" height="11.2" fill="#c88732"/><rect x="208.11" width="0.56" height="11.2" fill="#c88732"/><rect x="211.45" width="0.56" height="11.2" fill="#c88732"/><rect x="212.56" width="1.11" height="11.2" fill="#bebebe"/><rect x="214.23" width="1.67" height="11.2" fill="#c88732"/><rect x="217.57" width="0.56" height="11.2" fill="#bebebe"/><rect x="218.13" width="2.78" height="11.2" fill="#c88732"/><rect x="221.47" width="0.56" height="11.2" fill="#c88732"/><rect x="224.26" width="1.11" height="11.2" fill="#c88732"/><rect x="228.15" width="3.9" height="11.2" fill="#c88732"/><rect x="233.16" width="0.56" height="11.2" fill="#bebebe"/><rect x="235.39" width="0.56" height="11.2" fill="#bebebe"/><rect x="235.95" width="1.11" height="11.2" fill="#c88732"/><rect x="238.18" width="1.11" height="11.2" fill="#c88732"/><rect x="240.4" width="0.56" height="11.2" fill="#bebebe"/><rect x="240.96" width="1.67" height="11.2" fill="#c88732"/><rect x="243.19" width="0.56" height="11.2" fill="#c88732"/><rect x="244.3" width="0.56" height="11.2" fill="#c88732"/><rect x="245.41" width="1.11" height="11.2" fill="#bebebe"/><rect x="247.08" width="2.23" height="11.2" fill="#bebebe"/><rect x="249.87" width="1.67" height="11.2" fill="#c88732"/><rect x="251.54" width="0.56" height="11.2" fill="#bebebe"/><rect x="252.1" width="0.56" height="11.2" fill="#c88732"/><rect x="253.77" width="0.56" height="11.2" fill="#c88732"/><rect x="254.32" width="0.56" height="11.2" fill="#bebebe"/><rect x="255.44" width="1.11" height="11.2" fill="#bebebe"/><rect x="258.78" width="0.56" height="11.2" fill="#bebebe"/><rect x="259.33" width="2.23" height="11.2" fill="#c88732"/><rect x="263.79" width="0.56" height="11.2" fill="#c88732"/><rect x="264.35" width="1.11" height="11.2" fill="#bebebe"/><rect x="271.58" width="0.56" height="11.2" fill="#bebebe"/><rect x="272.14" width="0.56" height="11.2" fill="#c88732"/><rect x="273.25" width="0.56" height="11.2" fill="#bebebe"/><rect x="274.37" width="1.67" height="11.2" fill="#bebebe"/><rect x="276.04" width="1.11" height="11.2" fill="#c88732"/><rect x="277.15" width="1.67" height="11.2" fill="#bebebe"/><rect x="280.49" width="3.34" height="11.2" fill="#c88732"/><rect x="283.83" width="0.56" height="11.2" fill="#bebebe"/><rect x="284.39" width="1.11" height="11.2" fill="#c88732"/><rect x="286.06" width="1.11" height="11.2" fill="#c88732"/><rect x="288.29" width="0.56" height="11.2" fill="#c88732"/><rect x="288.84" width="2.23" height="11.2" fill="#bebebe"/><rect x="293.3" width="0.56" height="11.2" fill="#bebebe"/><rect x="293.86" width="2.23" height="11.2" fill="#c88732"/><rect x="296.08" width="1.11" height="11.2" fill="#bebebe"/><rect x="297.75" width="1.11" height="11.2" fill="#bebebe"/><rect x="299.98" width="0.56" height="11.2" fill="#c88732"/><rect x="300.54" width="0.56" height="11.2" fill="#bebebe"/><rect x="304.43" width="0.56" height="11.2" fill="#bebebe"/><rect x="305.55" width="0.56" height="11.2" fill="#bebebe"/><rect x="306.11" width="2.23" height="11.2" fill="#c88732"/><rect x="308.33" width="1.11" height="11.2" fill="#bebebe"/><rect x="311.12" width="1.11" height="11.2" fill="#bebebe"/><rect x="312.79" width="1.11" height="11.2" fill="#bebebe"/><rect x="314.46" width="2.78" height="11.2" fill="#bebebe"/><rect x="317.24" width="0.56" height="11.2" fill="#c88732"/><rect x="317.8" width="0.56" height="11.2" fill="#bebebe"/><rect x="318.91" width="1.11" height="11.2" fill="#bebebe"/><rect x="320.58" width="2.78" height="11.2" fill="#bebebe"/><rect x="323.37" width="1.67" height="11.2" fill="#c88732"/><rect x="325.04" width="1.11" height="11.2" fill="#bebebe"/><rect x="326.71" width="1.11" height="11.2" fill="#bebebe"/><rect x="331.72" width="0.56" height="11.2" fill="#bebebe"/><rect x="333.39" width="1.11" height="11.2" fill="#bebebe"/><rect x="334.5" width="0.56" height="11.2" fill="#c88732"/><rect x="335.06" width="3.34" height="11.2" fill="#bebebe"/><rect x="341.18" width="2.23" height="11.2" fill="#bebebe"/><rect x="345.08" width="1.11" height="11.2" fill="#bebebe"/><rect x="346.75" width="2.23" height="11.2" fill="#bebebe"/><rect x="349.54" width="4.45" height="11.2" fill="#bebebe"/><rect x="354.55" width="0.56" height="11.2" fill="#bebebe"/><rect x="359" width="6.12" height="11.2" fill="#bebebe"/><rect x="366.24" width="0.56" height="11.2" fill="#c88732"/><rect x="366.8" width="0.56" height="11.2" fill="#bebebe"/><rect x="367.91" width="1.11" height="11.2" fill="#bebebe"/><rect x="369.58" width="5.57" height="11.2" fill="#bebebe"/><rect x="379.05" width="1.67" height="11.2" fill="#bebebe"/><rect x="381.83" width="2.23" height="11.2" fill="#bebebe"/><rect x="385.73" width="3.34" height="11.2" fill="#bebebe"/><rect x="389.63" width="1.67" height="11.2" fill="#bebebe"/><rect x="391.85" width="1.67" height="11.2" fill="#bebebe"/><rect x="394.08" width="1.67" height="11.2" fill="#bebebe"/><rect x="396.86" width="0.56" height="11.2" fill="#bebebe"/><rect x="399.09" width="0.56" height="11.2" fill="#c88732"/><rect x="401.32" width="2.23" height="11.2" fill="#bebebe"/><rect x="404.66" width="3.34" height="11.2" fill="#bebebe"/></g>
<rect x="35.5" y="329" width="186.5" height="11.2" fill="#f0a064"/>
<rect x="222" y="329" width="186" height="11.2" fill="#c32d2d"/>
<rect x="35.5" y="341.7" width="186.5" height="11.2" fill="#1e55af"/>
<rect x="222" y="341.7" width="186" height="11.2" fill="#eb2328"/>
<text transform="translate(235.5,273.64) scale(1,1.08)" font-size="6.2" text-anchor="middle" fill="#333">TCGA Cohort</text>
<text transform="translate(410.4,287.38) scale(1,1.08)" font-size="10">fustat***</text>
<text transform="translate(410.4,300.18) scale(1,1.08)" font-size="10">age***</text>
<text transform="translate(410.4,312.88) scale(1,1.08)" font-size="10">gender</text>
<text transform="translate(410.4,326.18) scale(1,1.08)" font-size="10">grade***</text>
<text transform="translate(410.4,338.38) scale(1,1.08)" font-size="10">Risk***</text>
<text transform="translate(410.4,351.08) scale(1,1.08)" font-size="10">Risk</text>
<text transform="translate(118.5,366.74) scale(1,1.08)" font-size="8.3" font-weight="bold">fustat***</text>
<rect x="118.5" y="371.8" width="8.6" height="8.75" fill="#1f60b8"/>
<text transform="translate(129.8,379.43) scale(1,1.08)" font-size="8.6" fill="#333">alive</text>
<rect x="118.5" y="380.55" width="8.6" height="8.75" fill="#f58a2a"/>
<text transform="translate(129.8,388.18) scale(1,1.08)" font-size="8.6" fill="#333">dead</text>
<text transform="translate(160.2,366.74) scale(1,1.08)" font-size="8.3" font-weight="bold">age***</text>
<rect x="160.2" y="371.8" width="8.6" height="8.75" fill="#eb1e2c"/>
<text transform="translate(171.5,379.43) scale(1,1.08)" font-size="8.6" fill="#333">&gt;45</text>
<rect x="160.2" y="380.55" width="8.6" height="8.75" fill="#cd34a6"/>
<text transform="translate(171.5,388.18) scale(1,1.08)" font-size="8.6" fill="#333">=45</text>
<text transform="translate(196,366.74) scale(1,1.08)" font-size="8.3" font-weight="bold">gender</text>
<rect x="196" y="371.8" width="8.6" height="8.75" fill="#37be3c"/>
<text transform="translate(207.6,379.43) scale(1,1.08)" font-size="8.6" fill="#333">FEMALE</text>
<rect x="196" y="380.55" width="8.6" height="8.75" fill="#2a6e96"/>
<text transform="translate(207.6,388.18) scale(1,1.08)" font-size="8.6" fill="#333">MALE</text>
<text transform="translate(250.4,366.74) scale(1,1.08)" font-size="8.3" font-weight="bold">grade***</text>
<rect x="250.4" y="371.8" width="8.6" height="8.75" fill="#c88732"/>
<text transform="translate(261.6,379.43) scale(1,1.08)" font-size="8.6" fill="#333">G2</text>
<rect x="250.4" y="380.55" width="8.6" height="8.75" fill="#a56ec8"/>
<text transform="translate(261.6,388.18) scale(1,1.08)" font-size="8.6" fill="#333">G3</text>
<rect x="250.4" y="389.3" width="8.6" height="8.75" fill="#bebebe"/>
<text transform="translate(261.6,396.93) scale(1,1.08)" font-size="8.6" fill="#333">unknow</text>
<text transform="translate(300.9,366.74) scale(1,1.08)" font-size="8.3" font-weight="bold">Risk***</text>
<rect x="300.9" y="371.8" width="8.6" height="8.75" fill="#c32d2d"/>
<text transform="translate(312.1,379.43) scale(1,1.08)" font-size="8.6" fill="#333">high</text>
<rect x="300.9" y="380.55" width="8.6" height="8.75" fill="#f0a064"/>
<text transform="translate(312.1,388.18) scale(1,1.08)" font-size="8.6" fill="#333">low</text>
<text transform="translate(338,366.74) scale(1,1.08)" font-size="8.3" font-weight="bold">Risk</text>
<rect x="338" y="371.8" width="8.6" height="8.75" fill="#1e55af"/>
<text transform="translate(349.2,379.43) scale(1,1.08)" font-size="8.6" fill="#333">low</text>
<rect x="338" y="380.55" width="8.6" height="8.75" fill="#eb2328"/>
<text transform="translate(349.2,388.18) scale(1,1.08)" font-size="8.6" fill="#333">high</text>
<rect x="39" y="417.3" width="329" height="9.7" fill="#f58c28"/>
<g transform="translate(0,417.3)"><rect x="39" width="5.26" height="9.7" fill="#2364b9"/><rect x="45.31" width="2.1" height="9.7" fill="#2364b9"/><rect x="49.51" width="1.05" height="9.7" fill="#2364b9"/><rect x="51.61" width="2.1" height="9.7" fill="#2364b9"/><rect x="55.82" width="1.05" height="9.7" fill="#2364b9"/><rect x="63.18" width="1.05" height="9.7" fill="#2364b9"/><rect x="68.43" width="1.05" height="9.7" fill="#2364b9"/><rect x="70.53" width="1.05" height="9.7" fill="#2364b9"/><rect x="73.69" width="3.15" height="9.7" fill="#2364b9"/><rect x="77.89" width="1.05" height="9.7" fill="#2364b9"/><rect x="81.04" width="1.05" height="9.7" fill="#2364b9"/><rect x="84.2" width="1.05" height="9.7" fill="#2364b9"/><rect x="89.45" width="3.15" height="9.7" fill="#2364b9"/><rect x="93.66" width="2.1" height="9.7" fill="#2364b9"/><rect x="96.81" width="1.05" height="9.7" fill="#2364b9"/><rect x="99.96" width="1.05" height="9.7" fill="#2364b9"/><rect x="103.12" width="2.1" height="9.7" fill="#2364b9"/><rect x="107.32" width="1.05" height="9.7" fill="#2364b9"/><rect x="109.42" width="1.05" height="9.7" fill="#2364b9"/><rect x="112.58" width="3.15" height="9.7" fill="#2364b9"/><rect x="116.78" width="1.05" height="9.7" fill="#2364b9"/><rect x="124.14" width="1.05" height="9.7" fill="#2364b9"/><rect x="132.55" width="1.05" height="9.7" fill="#2364b9"/><rect x="134.65" width="1.05" height="9.7" fill="#2364b9"/><rect x="136.75" width="1.05" height="9.7" fill="#2364b9"/><rect x="139.91" width="4.2" height="9.7" fill="#2364b9"/><rect x="147.27" width="1.05" height="9.7" fill="#2364b9"/><rect x="149.37" width="1.05" height="9.7" fill="#2364b9"/><rect x="156.73" width="1.05" height="9.7" fill="#2364b9"/><rect x="158.83" width="4.2" height="9.7" fill="#2364b9"/><rect x="164.08" width="1.05" height="9.7" fill="#2364b9"/><rect x="167.24" width="1.05" height="9.7" fill="#2364b9"/><rect x="172.49" width="2.1" height="9.7" fill="#2364b9"/><rect x="176.7" width="1.05" height="9.7" fill="#2364b9"/><rect x="186.16" width="1.05" height="9.7" fill="#2364b9"/><rect x="189.31" width="1.05" height="9.7" fill="#2364b9"/><rect x="195.62" width="1.05" height="9.7" fill="#2364b9"/><rect x="207.18" width="1.05" height="9.7" fill="#2364b9"/><rect x="215.59" width="1.05" height="9.7" fill="#2364b9"/><rect x="217.69" width="1.05" height="9.7" fill="#2364b9"/><rect x="220.84" width="1.05" height="9.7" fill="#2364b9"/><rect x="230.3" width="1.05" height="9.7" fill="#2364b9"/><rect x="233.46" width="1.05" height="9.7" fill="#2364b9"/><rect x="235.56" width="1.05" height="9.7" fill="#2364b9"/><rect x="254.48" width="1.05" height="9.7" fill="#2364b9"/><rect x="257.63" width="1.05" height="9.7" fill="#2364b9"/><rect x="260.79" width="1.05" height="9.7" fill="#2364b9"/><rect x="266.04" width="1.05" height="9.7" fill="#2364b9"/><rect x="268.14" width="1.05" height="9.7" fill="#2364b9"/><rect x="288.12" width="1.05" height="9.7" fill="#2364b9"/><rect x="296.52" width="2.1" height="9.7" fill="#2364b9"/><rect x="300.73" width="1.05" height="9.7" fill="#2364b9"/><rect x="304.93" width="1.05" height="9.7" fill="#2364b9"/><rect x="313.34" width="1.05" height="9.7" fill="#2364b9"/><rect x="316.5" width="2.1" height="9.7" fill="#2364b9"/><rect x="331.21" width="1.05" height="9.7" fill="#2364b9"/><rect x="335.42" width="1.05" height="9.7" fill="#2364b9"/><rect x="345.93" width="1.05" height="9.7" fill="#2364b9"/><rect x="353.28" width="1.05" height="9.7" fill="#2364b9"/><rect x="358.54" width="2.1" height="9.7" fill="#2364b9"/></g>
<rect x="39" y="428.7" width="329" height="9.7" fill="#cd32a5"/>
<g transform="translate(0,428.7)"><rect x="40.05" width="1.05" height="9.7" fill="#eb1e28"/><rect x="49.51" width="3.15" height="9.7" fill="#eb1e28"/><rect x="54.77" width="1.05" height="9.7" fill="#eb1e28"/><rect x="61.07" width="3.15" height="9.7" fill="#eb1e28"/><rect x="70.53" width="1.05" height="9.7" fill="#eb1e28"/><rect x="73.69" width="1.05" height="9.7" fill="#eb1e28"/><rect x="75.79" width="1.05" height="9.7" fill="#eb1e28"/><rect x="83.15" width="3.15" height="9.7" fill="#eb1e28"/><rect x="88.4" width="1.05" height="9.7" fill="#eb1e28"/><rect x="99.96" width="1.05" height="9.7" fill="#eb1e28"/><rect x="107.32" width="4.2" height="9.7" fill="#eb1e28"/><rect x="115.73" width="2.1" height="9.7" fill="#eb1e28"/><rect x="118.88" width="1.05" height="9.7" fill="#eb1e28"/><rect x="128.35" width="3.15" height="9.7" fill="#eb1e28"/><rect x="139.91" width="1.05" height="9.7" fill="#eb1e28"/><rect x="143.06" width="1.05" height="9.7" fill="#eb1e28"/><rect x="146.21" width="1.05" height="9.7" fill="#eb1e28"/><rect x="152.52" width="1.05" height="9.7" fill="#eb1e28"/><rect x="154.62" width="1.05" height="9.7" fill="#eb1e28"/><rect x="161.98" width="3.15" height="9.7" fill="#eb1e28"/><rect x="169.34" width="1.05" height="9.7" fill="#eb1e28"/><rect x="179.85" width="4.2" height="9.7" fill="#eb1e28"/><rect x="185.11" width="2.1" height="9.7" fill="#eb1e28"/><rect x="189.31" width="2.1" height="9.7" fill="#eb1e28"/><rect x="193.51" width="1.05" height="9.7" fill="#eb1e28"/><rect x="198.77" width="1.05" height="9.7" fill="#eb1e28"/><rect x="200.87" width="1.05" height="9.7" fill="#eb1e28"/><rect x="205.08" width="2.1" height="9.7" fill="#eb1e28"/><rect x="209.28" width="2.1" height="9.7" fill="#eb1e28"/><rect x="214.54" width="2.1" height="9.7" fill="#eb1e28"/><rect x="217.69" width="1.05" height="9.7" fill="#eb1e28"/><rect x="222.95" width="1.05" height="9.7" fill="#eb1e28"/><rect x="229.25" width="3.15" height="9.7" fill="#eb1e28"/><rect x="234.51" width="2.1" height="9.7" fill="#eb1e28"/><rect x="239.76" width="2.1" height="9.7" fill="#eb1e28"/><rect x="245.02" width="2.1" height="9.7" fill="#eb1e28"/><rect x="250.27" width="1.05" height="9.7" fill="#eb1e28"/><rect x="255.53" width="1.05" height="9.7" fill="#eb1e28"/><rect x="260.79" width="2.1" height="9.7" fill="#eb1e28"/><rect x="264.99" width="1.05" height="9.7" fill="#eb1e28"/><rect x="269.19" width="2.1" height="9.7" fill="#eb1e28"/><rect x="272.35" width="4.2" height="9.7" fill="#eb1e28"/><rect x="277.6" width="2.1" height="9.7" fill="#eb1e28"/><rect x="281.81" width="1.05" height="9.7" fill="#eb1e28"/><rect x="283.91" width="1.05" height="9.7" fill="#eb1e28"/><rect x="286.01" width="2.1" height="9.7" fill="#eb1e28"/><rect x="289.17" width="10.51" height="9.7" fill="#eb1e28"/><rect x="300.73" width="2.1" height="9.7" fill="#eb1e28"/><rect x="304.93" width="9.46" height="9.7" fill="#eb1e28"/><rect x="315.44" width="10.51" height="9.7" fill="#eb1e28"/><rect x="327.01" width="5.26" height="9.7" fill="#eb1e28"/><rect x="333.31" width="7.36" height="9.7" fill="#eb1e28"/><rect x="341.72" width="3.15" height="9.7" fill="#eb1e28"/><rect x="346.98" width="1.05" height="9.7" fill="#eb1e28"/><rect x="350.13" width="4.2" height="9.7" fill="#eb1e28"/><rect x="355.39" width="3.15" height="9.7" fill="#eb1e28"/><rect x="359.59" width="1.05" height="9.7" fill="#eb1e28"/><rect x="361.69" width="2.1" height="9.7" fill="#eb1e28"/><rect x="366.95" width="1.05" height="9.7" fill="#eb1e28"/></g>
<rect x="39" y="439.8" width="329" height="9.7" fill="#c88232"/>
<g transform="translate(0,439.8)"><rect x="39" width="1.05" height="9.7" fill="#3cb446"/><rect x="40.05" width="1.05" height="9.7" fill="#2d6996"/><rect x="41.1" width="1.05" height="9.7" fill="#3cb446"/><rect x="42.15" width="1.05" height="9.7" fill="#2d6996"/><rect x="43.2" width="3.15" height="9.7" fill="#3cb446"/><rect x="46.36" width="1.05" height="9.7" fill="#2d6996"/><rect x="48.46" width="1.05" height="9.7" fill="#3cb446"/><rect x="49.51" width="2.1" height="9.7" fill="#2d6996"/><rect x="52.66" width="1.05" height="9.7" fill="#3cb446"/><rect x="53.72" width="1.05" height="9.7" fill="#2d6996"/><rect x="54.77" width="2.1" height="9.7" fill="#3cb446"/><rect x="57.92" width="1.05" height="9.7" fill="#2d6996"/><rect x="58.97" width="4.2" height="9.7" fill="#3cb446"/><rect x="64.23" width="1.05" height="9.7" fill="#2d6996"/><rect x="66.33" width="4.2" height="9.7" fill="#3cb446"/><rect x="70.53" width="1.05" height="9.7" fill="#2d6996"/><rect x="72.64" width="3.15" height="9.7" fill="#3cb446"/><rect x="75.79" width="1.05" height="9.7" fill="#2d6996"/><rect x="76.84" width="1.05" height="9.7" fill="#3cb446"/><rect x="78.94" width="2.1" height="9.7" fill="#3cb446"/><rect x="83.15" width="1.05" height="9.7" fill="#3cb446"/><rect x="84.2" width="1.05" height="9.7" fill="#2d6996"/><rect x="85.25" width="1.05" height="9.7" fill="#3cb446"/><rect x="88.4" width="2.1" height="9.7" fill="#3cb446"/><rect x="91.56" width="1.05" height="9.7" fill="#3cb446"/><rect x="92.61" width="1.05" height="9.7" fill="#2d6996"/><rect x="93.66" width="1.05" height="9.7" fill="#3cb446"/><rect x="94.71" width="1.05" height="9.7" fill="#2d6996"/><rect x="95.76" width="2.1" height="9.7" fill="#3cb446"/><rect x="98.91" width="1.05" height="9.7" fill="#3cb446"/><rect x="101.02" width="1.05" height="9.7" fill="#3cb446"/><rect x="103.12" width="4.2" height="9.7" fill="#3cb446"/><rect x="107.32" width="1.05" height="9.7" fill="#2d6996"/><rect x="108.37" width="2.1" height="9.7" fill="#3cb446"/><rect x="111.53" width="1.05" height="9.7" fill="#3cb446"/><rect x="113.63" width="4.2" height="9.7" fill="#3cb446"/><rect x="118.88" width="1.05" height="9.7" fill="#3cb446"/><rect x="119.94" width="1.05" height="9.7" fill="#2d6996"/><rect x="122.04" width="2.1" height="9.7" fill="#2d6996"/><rect x="124.14" width="3.15" height="9.7" fill="#3cb446"/><rect x="128.35" width="1.05" height="9.7" fill="#2d6996"/><rect x="129.4" width="2.1" height="9.7" fill="#3cb446"/><rect x="131.5" width="2.1" height="9.7" fill="#2d6996"/><rect x="133.6" width="1.05" height="9.7" fill="#3cb446"/><rect x="134.65" width="2.1" height="9.7" fill="#2d6996"/><rect x="136.75" width="3.15" height="9.7" fill="#3cb446"/><rect x="139.91" width="1.05" height="9.7" fill="#2d6996"/><rect x="142.01" width="6.31" height="9.7" fill="#3cb446"/><rect x="148.32" width="1.05" height="9.7" fill="#2d6996"/><rect x="150.42" width="1.05" height="9.7" fill="#2d6996"/><rect x="152.52" width="4.2" height="9.7" fill="#3cb446"/><rect x="156.73" width="1.05" height="9.7" fill="#2d6996"/><rect x="157.78" width="4.2" height="9.7" fill="#3cb446"/><rect x="161.98" width="2.1" height="9.7" fill="#2d6996"/><rect x="164.08" width="2.1" height="9.7" fill="#3cb446"/><rect x="167.24" width="1.05" height="9.7" fill="#3cb446"/><rect x="168.29" width="1.05" height="9.7" fill="#2d6996"/><rect x="169.34" width="2.1" height="9.7" fill="#3cb446"/><rect x="173.54" width="2.1" height="9.7" fill="#3cb446"/><rect x="175.65" width="2.1" height="9.7" fill="#2d6996"/><rect x="177.75" width="1.05" height="9.7" fill="#3cb446"/><rect x="178.8" width="2.1" height="9.7" fill="#2d6996"/><rect x="181.95" width="1.05" height="9.7" fill="#3cb446"/><rect x="185.11" width="2.1" height="9.7" fill="#3cb446"/><rect x="188.26" width="1.05" height="9.7" fill="#2d6996"/><rect x="192.46" width="1.05" height="9.7" fill="#2d6996"/><rect x="194.57" width="2.1" height="9.7" fill="#3cb446"/><rect x="198.77" width="3.15" height="9.7" fill="#3cb446"/><rect x="202.97" width="1.05" height="9.7" fill="#2d6996"/><rect x="204.03" width="1.05" height="9.7" fill="#3cb446"/><rect x="207.18" width="1.05" height="9.7" fill="#3cb446"/><rect x="209.28" width="1.05" height="9.7" fill="#3cb446"/><rect x="211.38" width="1.05" height="9.7" fill="#3cb446"/><rect x="212.43" width="1.05" height="9.7" fill="#2d6996"/><rect x="213.49" width="1.05" height="9.7" fill="#3cb446"/><rect x="214.54" width="3.15" height="9.7" fill="#2d6996"/><rect x="218.74" width="2.1" height="9.7" fill="#2d6996"/><rect x="222.95" width="1.05" height="9.7" fill="#3cb446"/><rect x="224" width="1.05" height="9.7" fill="#2d6996"/><rect x="227.15" width="1.05" height="9.7" fill="#2d6996"/><rect x="229.25" width="1.05" height="9.7" fill="#2d6996"/><rect x="231.35" width="2.1" height="9.7" fill="#2d6996"/><rect x="234.51" width="1.05" height="9.7" fill="#3cb446"/><rect x="239.76" width="1.05" height="9.7" fill="#3cb446"/><rect x="246.07" width="1.05" height="9.7" fill="#2d6996"/><rect x="248.17" width="1.05" height="9.7" fill="#2d6996"/><rect x="249.22" width="1.05" height="9.7" fill="#3cb446"/><rect x="250.27" width="1.05" height="9.7" fill="#2d6996"/><rect x="251.33" width="1.05" height="9.7" fill="#3cb446"/><rect x="253.43" width="1.05" height="9.7" fill="#3cb446"/><rect x="255.53" width="2.1" height="9.7" fill="#3cb446"/><rect x="258.68" width="1.05" height="9.7" fill="#2d6996"/><rect x="263.94" width="1.05" height="9.7" fill="#3cb446"/><rect x="267.09" width="1.05" height="9.7" fill="#2d6996"/><rect x="268.14" width="1.05" height="9.7" fill="#3cb446"/><rect x="272.35" width="1.05" height="9.7" fill="#3cb446"/><rect x="273.4" width="2.1" height="9.7" fill="#2d6996"/><rect x="284.96" width="1.05" height="9.7" fill="#3cb446"/><rect x="291.27" width="1.05" height="9.7" fill="#3cb446"/><rect x="294.42" width="1.05" height="9.7" fill="#2d6996"/><rect x="296.52" width="1.05" height="9.7" fill="#2d6996"/><rect x="307.04" width="1.05" height="9.7" fill="#2d6996"/><rect x="314.39" width="1.05" height="9.7" fill="#2d6996"/><rect x="316.5" width="1.05" height="9.7" fill="#2d6996"/><rect x="319.65" width="1.05" height="9.7" fill="#2d6996"/><rect x="323.85" width="1.05" height="9.7" fill="#3cb446"/><rect x="325.96" width="1.05" height="9.7" fill="#2d6996"/><rect x="332.26" width="1.05" height="9.7" fill="#3cb446"/><rect x="333.31" width="1.05" height="9.7" fill="#2d6996"/><rect x="340.67" width="1.05" height="9.7" fill="#2d6996"/><rect x="349.08" width="1.05" height="9.7" fill="#2d6996"/><rect x="355.39" width="1.05" height="9.7" fill="#3cb446"/></g>
<rect x="39" y="450.8" width="329" height="9.7" fill="#c83c2a"/>
<g transform="translate(0,450.8)"><rect x="42.15" width="1.05" height="9.7" fill="#a872c8"/><rect x="44.26" width="3.15" height="9.7" fill="#a872c8"/><rect x="53.72" width="1.05" height="9.7" fill="#a872c8"/><rect x="55.82" width="1.05" height="9.7" fill="#a872c8"/><rect x="57.92" width="4.2" height="9.7" fill="#a872c8"/><rect x="64.23" width="2.1" height="9.7" fill="#a872c8"/><rect x="67.38" width="2.1" height="9.7" fill="#a872c8"/><rect x="77.89" width="1.05" height="9.7" fill="#a872c8"/><rect x="79.99" width="1.05" height="9.7" fill="#a872c8"/><rect x="82.1" width="1.05" height="9.7" fill="#a872c8"/><rect x="85.25" width="1.05" height="9.7" fill="#a872c8"/><rect x="87.35" width="2.1" height="9.7" fill="#a872c8"/><rect x="94.71" width="1.05" height="9.7" fill="#a872c8"/><rect x="98.91" width="3.15" height="9.7" fill="#a872c8"/><rect x="103.12" width="1.05" height="9.7" fill="#a872c8"/><rect x="109.42" width="1.05" height="9.7" fill="#a872c8"/><rect x="117.83" width="1.05" height="9.7" fill="#a872c8"/><rect x="122.04" width="1.05" height="9.7" fill="#a872c8"/><rect x="124.14" width="1.05" height="9.7" fill="#a872c8"/><rect x="128.35" width="1.05" height="9.7" fill="#a872c8"/><rect x="132.55" width="1.05" height="9.7" fill="#a872c8"/><rect x="135.7" width="1.05" height="9.7" fill="#a872c8"/><rect x="139.91" width="1.05" height="9.7" fill="#a872c8"/><rect x="142.01" width="4.2" height="9.7" fill="#a872c8"/><rect x="153.57" width="2.1" height="9.7" fill="#a872c8"/><rect x="157.78" width="2.1" height="9.7" fill="#a872c8"/><rect x="161.98" width="1.05" height="9.7" fill="#a872c8"/><rect x="165.13" width="1.05" height="9.7" fill="#a872c8"/><rect x="167.24" width="2.1" height="9.7" fill="#a872c8"/><rect x="170.39" width="2.1" height="9.7" fill="#a872c8"/><rect x="174.59" width="2.1" height="9.7" fill="#a872c8"/><rect x="180.9" width="1.05" height="9.7" fill="#a872c8"/><rect x="185.11" width="2.1" height="9.7" fill="#a872c8"/><rect x="188.26" width="3.15" height="9.7" fill="#a872c8"/><rect x="195.62" width="3.15" height="9.7" fill="#a872c8"/><rect x="200.87" width="2.1" height="9.7" fill="#a872c8"/><rect x="204.03" width="1.05" height="9.7" fill="#a872c8"/><rect x="207.18" width="1.05" height="9.7" fill="#a872c8"/><rect x="209.28" width="2.1" height="9.7" fill="#a872c8"/><rect x="212.43" width="1.05" height="9.7" fill="#a872c8"/><rect x="215.59" width="3.15" height="9.7" fill="#a872c8"/><rect x="219.79" width="1.05" height="9.7" fill="#a872c8"/><rect x="222.95" width="2.1" height="9.7" fill="#a872c8"/><rect x="227.15" width="3.15" height="9.7" fill="#a872c8"/><rect x="231.35" width="1.05" height="9.7" fill="#a872c8"/><rect x="233.46" width="1.05" height="9.7" fill="#a872c8"/><rect x="235.56" width="2.1" height="9.7" fill="#a872c8"/><rect x="238.71" width="6.31" height="9.7" fill="#a872c8"/><rect x="249.22" width="1.05" height="9.7" fill="#a872c8"/><rect x="252.38" width="1.05" height="9.7" fill="#a872c8"/><rect x="256.58" width="1.05" height="9.7" fill="#a872c8"/><rect x="261.84" width="2.1" height="9.7" fill="#a872c8"/><rect x="266.04" width="2.1" height="9.7" fill="#a872c8"/><rect x="271.3" width="1.05" height="9.7" fill="#a872c8"/><rect x="274.45" width="3.15" height="9.7" fill="#a872c8"/><rect x="281.81" width="2.1" height="9.7" fill="#a872c8"/><rect x="288.12" width="1.05" height="9.7" fill="#a872c8"/><rect x="290.22" width="1.05" height="9.7" fill="#a872c8"/><rect x="293.37" width="2.1" height="9.7" fill="#a872c8"/><rect x="296.52" width="1.05" height="9.7" fill="#a872c8"/><rect x="299.68" width="1.05" height="9.7" fill="#a872c8"/><rect x="301.78" width="1.05" height="9.7" fill="#a872c8"/><rect x="303.88" width="3.15" height="9.7" fill="#a872c8"/><rect x="309.14" width="2.1" height="9.7" fill="#a872c8"/><rect x="314.39" width="1.05" height="9.7" fill="#a872c8"/><rect x="316.5" width="1.05" height="9.7" fill="#a872c8"/><rect x="318.6" width="2.1" height="9.7" fill="#a872c8"/><rect x="322.8" width="1.05" height="9.7" fill="#a872c8"/><rect x="328.06" width="1.05" height="9.7" fill="#a872c8"/><rect x="339.62" width="2.1" height="9.7" fill="#a872c8"/><rect x="343.82" width="1.05" height="9.7" fill="#a872c8"/><rect x="345.93" width="3.15" height="9.7" fill="#a872c8"/><rect x="352.23" width="1.05" height="9.7" fill="#a872c8"/><rect x="354.34" width="1.05" height="9.7" fill="#a872c8"/><rect x="357.49" width="1.05" height="9.7" fill="#a872c8"/><rect x="359.59" width="1.05" height="9.7" fill="#a872c8"/><rect x="362.74" width="2.1" height="9.7" fill="#a872c8"/><rect x="365.9" width="1.05" height="9.7" fill="#a872c8"/></g>
<rect x="39" y="462.1" width="329" height="9.7" fill="#c82a30"/>
<g transform="translate(0,462.1)"><rect x="109.42" width="1.05" height="9.7" fill="#bebebe"/><rect x="125.19" width="1.05" height="9.7" fill="#bebebe"/><rect x="126.24" width="1.05" height="9.7" fill="#86c856"/><rect x="133.6" width="1.05" height="9.7" fill="#86c856"/><rect x="138.86" width="1.05" height="9.7" fill="#bebebe"/><rect x="142.01" width="2.1" height="9.7" fill="#86c856"/><rect x="148.32" width="1.05" height="9.7" fill="#bebebe"/><rect x="163.03" width="1.05" height="9.7" fill="#86c856"/><rect x="171.44" width="1.05" height="9.7" fill="#bebebe"/><rect x="178.8" width="1.05" height="9.7" fill="#86c856"/><rect x="192.46" width="4.2" height="9.7" fill="#86c856"/><rect x="201.92" width="2.1" height="9.7" fill="#86c856"/><rect x="205.08" width="1.05" height="9.7" fill="#86c856"/><rect x="209.28" width="2.1" height="9.7" fill="#86c856"/><rect x="212.43" width="3.15" height="9.7" fill="#86c856"/><rect x="217.69" width="1.05" height="9.7" fill="#86c856"/><rect x="221.89" width="1.05" height="9.7" fill="#86c856"/><rect x="225.05" width="1.05" height="9.7" fill="#86c856"/><rect x="228.2" width="1.05" height="9.7" fill="#86c856"/><rect x="231.35" width="4.2" height="9.7" fill="#86c856"/><rect x="237.66" width="6.31" height="9.7" fill="#86c856"/><rect x="245.02" width="1.05" height="9.7" fill="#86c856"/><rect x="248.17" width="2.1" height="9.7" fill="#86c856"/><rect x="252.38" width="3.15" height="9.7" fill="#86c856"/><rect x="261.84" width="2.1" height="9.7" fill="#86c856"/><rect x="264.99" width="1.05" height="9.7" fill="#86c856"/><rect x="267.09" width="1.05" height="9.7" fill="#86c856"/><rect x="274.45" width="1.05" height="9.7" fill="#86c856"/><rect x="276.55" width="1.05" height="9.7" fill="#86c856"/><rect x="278.65" width="1.05" height="9.7" fill="#86c856"/><rect x="280.76" width="2.1" height="9.7" fill="#86c856"/><rect x="286.01" width="18.92" height="9.7" fill="#86c856"/><rect x="307.04" width="4.2" height="9.7" fill="#86c856"/><rect x="312.29" width="11.56" height="9.7" fill="#86c856"/><rect x="324.9" width="19.97" height="9.7" fill="#86c856"/><rect x="345.93" width="9.46" height="9.7" fill="#86c856"/><rect x="356.44" width="11.56" height="9.7" fill="#86c856"/></g>
<rect x="39" y="472.8" width="329" height="9.7" fill="#6abd60"/>
<g transform="translate(0,472.8)"><rect x="39" width="1.05" height="9.7" fill="#3cb446"/><rect x="42.15" width="3.15" height="9.7" fill="#3cb446"/><rect x="48.46" width="4.2" height="9.7" fill="#3cb446"/><rect x="55.82" width="3.15" height="9.7" fill="#3cb446"/><rect x="60.02" width="2.1" height="9.7" fill="#3cb446"/><rect x="66.33" width="1.05" height="9.7" fill="#3cb446"/><rect x="69.48" width="1.05" height="9.7" fill="#3cb446"/><rect x="72.64" width="1.05" height="9.7" fill="#3cb446"/><rect x="78.94" width="4.2" height="9.7" fill="#3cb446"/><rect x="84.2" width="1.05" height="9.7" fill="#bebebe"/><rect x="86.3" width="1.05" height="9.7" fill="#3cb446"/><rect x="91.56" width="1.05" height="9.7" fill="#3cb446"/><rect x="93.66" width="3.15" height="9.7" fill="#3cb446"/><rect x="97.86" width="2.1" height="9.7" fill="#3cb446"/><rect x="99.96" width="1.05" height="9.7" fill="#bebebe"/><rect x="101.02" width="1.05" height="9.7" fill="#3cb446"/><rect x="104.17" width="1.05" height="9.7" fill="#3cb446"/><rect x="106.27" width="1.05" height="9.7" fill="#3cb446"/><rect x="109.42" width="5.26" height="9.7" fill="#3cb446"/><rect x="116.78" width="1.05" height="9.7" fill="#3cb446"/><rect x="119.94" width="2.1" height="9.7" fill="#3cb446"/><rect x="125.19" width="1.05" height="9.7" fill="#3cb446"/><rect x="134.65" width="1.05" height="9.7" fill="#bebebe"/><rect x="136.75" width="2.1" height="9.7" fill="#3cb446"/><rect x="139.91" width="1.05" height="9.7" fill="#3cb446"/><rect x="144.11" width="2.1" height="9.7" fill="#3cb446"/><rect x="146.21" width="1.05" height="9.7" fill="#bebebe"/><rect x="147.27" width="1.05" height="9.7" fill="#3cb446"/><rect x="149.37" width="1.05" height="9.7" fill="#3cb446"/><rect x="151.47" width="2.1" height="9.7" fill="#3cb446"/><rect x="155.67" width="2.1" height="9.7" fill="#3cb446"/><rect x="161.98" width="1.05" height="9.7" fill="#3cb446"/><rect x="164.08" width="1.05" height="9.7" fill="#3cb446"/><rect x="166.19" width="2.1" height="9.7" fill="#3cb446"/><rect x="169.34" width="2.1" height="9.7" fill="#3cb446"/><rect x="172.49" width="1.05" height="9.7" fill="#bebebe"/><rect x="173.54" width="1.05" height="9.7" fill="#3cb446"/><rect x="175.65" width="2.1" height="9.7" fill="#3cb446"/><rect x="194.57" width="1.05" height="9.7" fill="#3cb446"/><rect x="215.59" width="1.05" height="9.7" fill="#bebebe"/><rect x="224" width="1.05" height="9.7" fill="#bebebe"/><rect x="241.87" width="1.05" height="9.7" fill="#bebebe"/><rect x="254.48" width="1.05" height="9.7" fill="#bebebe"/><rect x="270.25" width="1.05" height="9.7" fill="#3cb446"/></g>
<rect x="39" y="483.8" width="329" height="9.7" fill="#94c858"/>
<g transform="translate(0,483.8)"><rect x="41.1" width="2.1" height="9.7" fill="#c846b4"/><rect x="51.61" width="1.05" height="9.7" fill="#c846b4"/><rect x="54.77" width="2.1" height="9.7" fill="#c846b4"/><rect x="57.92" width="2.1" height="9.7" fill="#c846b4"/><rect x="62.12" width="1.05" height="9.7" fill="#c846b4"/><rect x="69.48" width="1.05" height="9.7" fill="#c846b4"/><rect x="72.64" width="2.1" height="9.7" fill="#c846b4"/><rect x="76.84" width="3.15" height="9.7" fill="#c846b4"/><rect x="81.04" width="1.05" height="9.7" fill="#c846b4"/><rect x="83.15" width="2.1" height="9.7" fill="#c846b4"/><rect x="90.5" width="3.15" height="9.7" fill="#c846b4"/><rect x="98.91" width="1.05" height="9.7" fill="#c846b4"/><rect x="102.07" width="1.05" height="9.7" fill="#c846b4"/><rect x="106.27" width="1.05" height="9.7" fill="#c846b4"/><rect x="108.37" width="2.1" height="9.7" fill="#c846b4"/><rect x="117.83" width="1.05" height="9.7" fill="#c846b4"/><rect x="119.94" width="2.1" height="9.7" fill="#c846b4"/><rect x="123.09" width="2.1" height="9.7" fill="#c846b4"/><rect x="128.35" width="1.05" height="9.7" fill="#c846b4"/><rect x="130.45" width="4.2" height="9.7" fill="#c846b4"/><rect x="135.7" width="4.2" height="9.7" fill="#c846b4"/><rect x="142.01" width="1.05" height="9.7" fill="#c846b4"/><rect x="146.21" width="3.15" height="9.7" fill="#c846b4"/><rect x="150.42" width="1.05" height="9.7" fill="#c846b4"/><rect x="156.73" width="1.05" height="9.7" fill="#c846b4"/><rect x="161.98" width="3.15" height="9.7" fill="#c846b4"/><rect x="167.24" width="1.05" height="9.7" fill="#c846b4"/><rect x="170.39" width="3.15" height="9.7" fill="#c846b4"/><rect x="180.9" width="3.15" height="9.7" fill="#c846b4"/><rect x="187.21" width="4.2" height="9.7" fill="#c846b4"/><rect x="192.46" width="4.2" height="9.7" fill="#c846b4"/><rect x="197.72" width="1.05" height="9.7" fill="#c846b4"/><rect x="208.23" width="1.05" height="9.7" fill="#c846b4"/><rect x="210.33" width="1.05" height="9.7" fill="#c846b4"/><rect x="213.49" width="1.05" height="9.7" fill="#c846b4"/><rect x="215.59" width="1.05" height="9.7" fill="#c846b4"/><rect x="217.69" width="1.05" height="9.7" fill="#c846b4"/><rect x="219.79" width="1.05" height="9.7" fill="#c846b4"/><rect x="221.89" width="1.05" height="9.7" fill="#c846b4"/><rect x="226.1" width="7.36" height="9.7" fill="#c846b4"/><rect x="234.51" width="1.05" height="9.7" fill="#c846b4"/><rect x="237.66" width="2.1" height="9.7" fill="#c846b4"/><rect x="240.81" width="1.05" height="9.7" fill="#c846b4"/><rect x="242.92" width="1.05" height="9.7" fill="#c846b4"/><rect x="245.02" width="5.26" height="9.7" fill="#c846b4"/><rect x="252.38" width="1.05" height="9.7" fill="#c846b4"/><rect x="254.48" width="1.05" height="9.7" fill="#c846b4"/><rect x="258.68" width="2.1" height="9.7" fill="#c846b4"/><rect x="261.84" width="1.05" height="9.7" fill="#c846b4"/><rect x="263.94" width="2.1" height="9.7" fill="#c846b4"/><rect x="272.35" width="1.05" height="9.7" fill="#c846b4"/><rect x="278.65" width="1.05" height="9.7" fill="#c846b4"/><rect x="283.91" width="1.05" height="9.7" fill="#c846b4"/><rect x="286.01" width="3.15" height="9.7" fill="#c846b4"/><rect x="292.32" width="1.05" height="9.7" fill="#c846b4"/><rect x="294.42" width="2.1" height="9.7" fill="#c846b4"/><rect x="299.68" width="5.26" height="9.7" fill="#c846b4"/><rect x="311.24" width="1.05" height="9.7" fill="#c846b4"/><rect x="313.34" width="1.05" height="9.7" fill="#c846b4"/><rect x="315.44" width="3.15" height="9.7" fill="#c846b4"/><rect x="320.7" width="1.05" height="9.7" fill="#c846b4"/><rect x="324.9" width="1.05" height="9.7" fill="#c846b4"/><rect x="331.21" width="1.05" height="9.7" fill="#c846b4"/><rect x="336.47" width="5.26" height="9.7" fill="#c846b4"/><rect x="346.98" width="1.05" height="9.7" fill="#c846b4"/><rect x="350.13" width="2.1" height="9.7" fill="#c846b4"/><rect x="353.28" width="2.1" height="9.7" fill="#c846b4"/><rect x="357.49" width="1.05" height="9.7" fill="#c846b4"/><rect x="359.59" width="1.05" height="9.7" fill="#c846b4"/><rect x="361.69" width="2.1" height="9.7" fill="#c846b4"/><rect x="365.9" width="2.1" height="9.7" fill="#c846b4"/></g>
<rect x="39" y="495" width="138.5" height="9.7" fill="#1e4caa"/>
<rect x="177.5" y="495" width="190.5" height="9.7" fill="#eb2328"/>
<text transform="translate(235.7,411.54) scale(1,1.08)" font-size="6.2" text-anchor="middle" fill="#333">CGGA Cohort</text>
<text transform="translate(370.2,425.79) scale(1,1.08)" font-size="8.7">fustat*</text>
<text transform="translate(370.2,437.29) scale(1,1.08)" font-size="8.7">age</text>
<text transform="translate(370.2,448.19) scale(1,1.08)" font-size="8.7">grade</text>
<text transform="translate(370.2,459.29) scale(1,1.08)" font-size="8.7">gender</text>
<text transform="translate(370.2,470.29) scale(1,1.08)" font-size="8.7">IDH&#8722;mutation&#8722;status</text>
<text transform="translate(370.2,481.19) scale(1,1.08)" font-size="8.7">1p19q&#8722;codeletion</text>
<text transform="translate(370.2,492.39) scale(1,1.08)" font-size="8.7">Risk***</text>
<text transform="translate(370.2,503.39) scale(1,1.08)" font-size="8.7">Risk</text>
<text transform="translate(64.4,517.02) scale(1,1.08)" font-size="7.2" font-weight="bold">fustat*</text>
<rect x="64.4" y="521.5" width="7.6" height="7.8" fill="#2364b9"/>
<text transform="translate(74.6,528.12) scale(1,1.08)" font-size="7.2" fill="#333">alive</text>
<rect x="64.4" y="529.3" width="7.6" height="7.8" fill="#f58c28"/>
<text transform="translate(74.6,535.92) scale(1,1.08)" font-size="7.2" fill="#333">dead</text>
<text transform="translate(99.6,517.02) scale(1,1.08)" font-size="7.2" font-weight="bold">age</text>
<rect x="99.6" y="521.5" width="7.6" height="7.8" fill="#eb1e28"/>
<text transform="translate(109.8,528.12) scale(1,1.08)" font-size="7.2" fill="#333">&gt;45</text>
<rect x="99.6" y="529.3" width="7.6" height="7.8" fill="#cd32a5"/>
<text transform="translate(109.8,535.92) scale(1,1.08)" font-size="7.2" fill="#333">=45</text>
<text transform="translate(130.3,517.02) scale(1,1.08)" font-size="7.2" font-weight="bold">grade</text>
<rect x="130.3" y="521.5" width="7.6" height="7.8" fill="#3cb446"/>
<text transform="translate(140.8,528.12) scale(1,1.08)" font-size="7.2" fill="#333">WHO II</text>
<rect x="130.3" y="529.3" width="7.6" height="7.8" fill="#2d6996"/>
<text transform="translate(140.8,535.92) scale(1,1.08)" font-size="7.2" fill="#333">WHO III</text>
<rect x="130.3" y="537.1" width="7.6" height="7.8" fill="#c88232"/>
<text transform="translate(140.8,543.72) scale(1,1.08)" font-size="7.2" fill="#333">WHO IV</text>
<text transform="translate(175.8,517.02) scale(1,1.08)" font-size="7.2" font-weight="bold">gender</text>
<rect x="175.8" y="521.5" width="7.6" height="7.8" fill="#a872c8"/>
<text transform="translate(186.4,528.12) scale(1,1.08)" font-size="7.2" fill="#333">Female</text>
<rect x="175.8" y="529.3" width="7.6" height="7.8" fill="#c83c2a"/>
<text transform="translate(186.4,535.92) scale(1,1.08)" font-size="7.2" fill="#333">Male</text>
<text transform="translate(218.8,517.02) scale(1,1.08)" font-size="7.2" font-weight="bold">IDH&#8722;mutation&#8722;status</text>
<rect x="218.8" y="521.5" width="7.6" height="7.8" fill="#c82a30"/>
<text transform="translate(229.4,528.12) scale(1,1.08)" font-size="7.2" fill="#333">Mutant</text>
<rect x="218.8" y="529.3" width="7.6" height="7.8" fill="#bebebe"/>
<text transform="translate(229.4,535.92) scale(1,1.08)" font-size="7.2" fill="#333">unknow</text>
<rect x="218.8" y="537.1" width="7.6" height="7.8" fill="#86c856"/>
<text transform="translate(229.4,543.72) scale(1,1.08)" font-size="7.2" fill="#333">Wildtype</text>
<text transform="translate(300.6,517.02) scale(1,1.08)" font-size="7.2" font-weight="bold">1p19q&#8722;codeletion</text>
<rect x="300.6" y="521.5" width="7.6" height="7.8" fill="#3cb446"/>
<text transform="translate(310.5,528.12) scale(1,1.08)" font-size="7.2" fill="#333">Codel</text>
<rect x="300.6" y="529.3" width="7.6" height="7.8" fill="#6abd60"/>
<text transform="translate(310.5,535.92) scale(1,1.08)" font-size="7.2" fill="#333">Non&#8722;codel</text>
<rect x="300.6" y="537.1" width="7.6" height="7.8" fill="#bebebe"/>
<text transform="translate(310.5,543.72) scale(1,1.08)" font-size="7.2" fill="#333">unknow</text>
<text transform="translate(370.5,517.02) scale(1,1.08)" font-size="7.2" font-weight="bold">Risk***</text>
<rect x="370.5" y="521.5" width="7.6" height="7.8" fill="#94c858"/>
<text transform="translate(380.7,528.12) scale(1,1.08)" font-size="7.2" fill="#333">high</text>
<rect x="370.5" y="529.3" width="7.6" height="7.8" fill="#c846b4"/>
<text transform="translate(380.7,535.92) scale(1,1.08)" font-size="7.2" fill="#333">low</text>
<text transform="translate(403.3,517.02) scale(1,1.08)" font-size="7.2" font-weight="bold">Risk</text>
<rect x="403.3" y="521.5" width="7.6" height="7.8" fill="#1e4caa"/>
<text transform="translate(413.5,528.12) scale(1,1.08)" font-size="7.2" fill="#333">low</text>
<rect x="403.3" y="529.3" width="7.6" height="7.8" fill="#eb2328"/>
<text transform="translate(413.5,535.92) scale(1,1.08)" font-size="7.2" fill="#333">high</text>
</svg>
</body></html>
